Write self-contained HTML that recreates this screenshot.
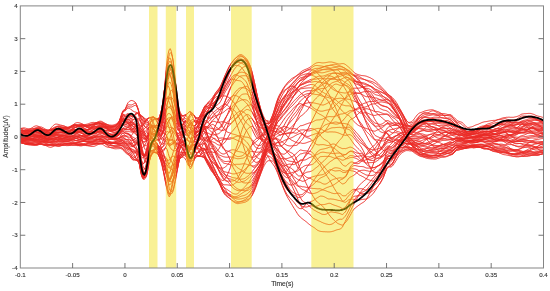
<!DOCTYPE html><html><head><meta charset="utf-8"><style>html,body{margin:0;padding:0;background:#fff;overflow:hidden;}svg{display:block}</style></head><body>
<svg width="550" height="291" viewBox="0 0 550 291">
<rect width="550" height="291" fill="#fff"/>
<defs><clipPath id="c"><rect x="20.3" y="5.9" width="523.2" height="262.1"/></clipPath></defs>
<g clip-path="url(#c)" fill="none">
<g stroke="#eb2b27" stroke-width="0.95">
<path d="M20.3 141.1l1-.1 1 .3 1 .3 1 .2 1 .3 1 .3 1 .2 1 .3 1 .1 1 0 1 0 1 0 1 .1 1 .1 1 .1 1 .1 1-.1 1-.5 1-.5 1-.6 1-.3 1 0 1 .3 1 .5 1 .6 1 .5 1 .4 1 .3 1 .2 1 .2 1 .2 1 .1 1 .1 1 .1 1-.1 1-.1 1-.2 1-.2 1-.3 1-.4 1-.3 1-.3 1-.2 1 0 1 .1 1 .2 1 .2 1 0 1-.1 1-.2 1-.1 1 0 1 0 1 .3 1 .3 1 .3 1 .3 1 .1 1-.2 1-.2 1-.2 1 0 1 .2 1 .2 1 .4 1 .3 1 .2 1 .1 1 0 1-.1 1-.2 1-.2 1-.3 1-.3 1-.5 1-.5 1-.6 1-.4 1-.3 1-.2 1 0 1 0 1 .3 1 .5 1 .8 1 .8 1 .8 1 .5 1 .3 1 .2 1 0 1 0 1 0 1 0 1 0 1-.1 1 0 1-.2 1-.4 1-.6 1-.6 1-.5 1-.1 1 .2 1 .4 1 .3 1 .3 1 .6 1 .7 1 .5 1 .5 1 .1 1-.7 1-1 1-.8 1-.4 1 .6 1 1.7 1 3.7 1 6 1 7 1 5.4 1 3.5 1 1.4 1-.5 1-2.3 1-4.4 1-5.8 1-6.1 1-5 1-3.6 1-2.5 1-1.6 1-.4 1 .5 1 1.1 1 1.6 1 2.9 1 3.5 1 4.5 1 5.1 1 5.3 1 5.6 1 5.4 1 5.1 1 5.2 1 4.6 1 3.9 1 1.7 1-2.2 1-4 1-4.3 1-4.9 1-4.9 1-4.9 1-4.4 1-4.2 1-3.4 1-2.9 1 .2 1 .3 1-.2 1-.1 1 .7 1 1.3 1 1.6 1 2.7 1 2.3 1 .3 1-2.3 1-4.1 1-4.3 1-4.6 1-3.8 1-2.1 1-.8 1 0 1 .8 1 1.1 1 1.2 1 .8 1 .5 1 .1 1 .1 1 .4 1 .4 1 .3 1-.2 1-.3 1-.3 1-.2 1 .2 1 .7 1 1.3 1 1.5 1 1.4 1 1.7 1 1.5 1 1.6 1 1.1 1 1.2 1 1.1 1 .9 1 .5 1 .2 1 .2 1 .2 1 .2 1 .3 1 .4 1 .2 1 .1 1-.1 1-.3 1-.3 1-.1 1 0 1 0 1 0 1-.1 1-.1 1-.2 1-.1 1 0 1 .1 1 .3 1 .4 1 .4 1 .4 1 .1 1 .2 1 .1 1 .2 1-.2 1-.5 1-.8 1-1.1 1-1.2 1-1 1-.9 1-.9 1-1.2 1-2.2 1-1.6 1-1.4 1-1.5 1-1.3 1-.3 1 .4 1 .4 1 .5 1 .8 1 1.3 1 1.6 1 1.8 1 1.5 1 1.6 1 1.7 1 1.8 1 1.7 1 1.5 1 1.7 1 1.8 1 1.7 1 1.6 1 1.5 1 1.4 1 1.3 1 1.4 1 1.3 1 1.4 1 1.4 1 1.5 1 1.5 1 1.6 1 1.9 1 2 1 2.1 1 1.9 1 1.9 1 1.8 1 1.6 1 .8 1 .6 1 .5 1 .7 1 .8 1 .9 1 1 1 .9 1 .8 1 1 1 .8 1 .6 1 .5 1 .6 1 .6 1 .5 1 .4 1 .5 1 .6 1 .4 1 .1 1 .1 1-.1 1-.3 1-.5 1-.6 1-.6 1-.4 1-.1 1 .1 1 .2 1 .2 1 .1 1 .2 1 .2 1 .2 1 .3 1 .3 1 .5 1 .4 1-.7 1-.9 1-1 1-1.7 1-2.2 1-2.5 1-2.6 1-2.5 1-2.3 1-2.2 1-1.8 1-1.6 1-1.6 1-1.6 1-1.5 1-1.3 1-1.2 1-1.1 1-1 1-1 1-.8 1-.8 1-.8 1-.9 1-1.5 1-1.6 1-1.8 1-2.1 1-2.4 1-2.7 1-2.9 1-3.1 1-3.3 1-3.6 1-3.4 1-3 1-2.7 1-2.2 1-2.2 1-2.1 1-2 1-2.3 1-2.3 1-2.1 1-1.6 1-.9 1-.5 1-.4 1-.3 1-.4 1-.4 1-.4 1-.3 1-.3 1-.4 1-.4 1-.2 1-.2 1 .1 1 .2 1 .3 1 .5 1 .5 1 .7 1 .8 1 .7 1 .2 1-.1 1-.1 1-.3 1-.5 1-.6 1-.5 1-.5 1-.5 1-.5 1-.3 1-.2 1-.3 1-.2 1-.1 1 .1 1 .3 1 .6 1 .7 1 .8 1 .7 1 .6 1 .4 1 .3 1 .4 1 .4 1 .5 1 .5 1 .5 1 .5 1 .3 1 .2 1 .1 1 .1 1 .1 1 .2 1 .3 1 .4 1 .3 1 .3 1 .1 1 .1 1 .1 1 .3 1 .3 1 .4 1 .3 1 .5 1 .6 1 .4 1 .2 1 0 1-.1 1-.3 1-.1 1 .1 1 .3 1 .3 1 .2 1-.1 1-.2 1-.2 1-.2 1-.3 1-.4 1-.5 1-.6 1-.6 1-.6 1-.8 1-.8 1-.8 1-.7 1-.5 1-.2 1-.1 1 .1 1 0 1 0 1-.1 1-.2 1-.3 1-.3 1-.4 1-.4 1-.3 1-.2 1-.2 1-.2 1-.1 1-.4 1-.6 1-.7 1-.8 1-.6 1-.5 1-.2 1 .1 1 .2 1 .2 1 .3 1 .1 1 0 1-.1 1-.1 1 0 1 .1 1 .2 1 .2 1 0 1-.1 1-.3 1-.2 1-.1 1 0 1 0 1 .1 1 .2 1 .3 1 .4 1 .4 1 .2 1 .1 1 0 1 0 1 .1 1 .2 1 .3 1 .4 1 .4 1 .5 1 .6 1 .7 1 .8 1 .6"/>
<path d="M20.3 130.4l1 .1 1 .1 1 0 1 0 1 0 1-.1 1 0 1 0 1 0 1 0 1-.1 1-.3 1-.4 1-.5 1-.4 1-.3 1-.1 1 .1 1 .4 1 .4 1 .6 1 .6 1 .6 1 .6 1 .5 1 .3 1 .2 1 0 1-.2 1-.2 1-.5 1-.5 1-.6 1-.7 1-.6 1-.4 1-.1 1 0 1 .2 1 .2 1 .2 1 .2 1 .4 1 .4 1 .5 1 .4 1 .2 1 .1 1-.2 1-.3 1-.4 1-.4 1-.4 1-.3 1-.2 1-.2 1-.2 1-.3 1-.1 1 0 1 .2 1 .4 1 .4 1 .5 1 .4 1 .4 1 .2 1 0 1-.1 1-.2 1-.4 1-.4 1-.4 1-.3 1-.3 1-.1 1-.1 1 .2 1 .1 1 .2 1 0 1-.1 1-.2 1-.3 1-.1 1 .1 1 .5 1 .6 1 .6 1 .4 1 .1 1-.2 1-.5 1-.7 1-.7 1-.9 1-1 1-1.1 1-1.2 1-2.2 1-2.3 1-2.1 1-.8 1 .6 1 .6 1-.3 1-.6 1-.3 1-.8 1-.6 1-.1 1-.5 1-.3 1 .4 1 .6 1 1.2 1 2.2 1 2.4 1 2.7 1 .9 1 .9 1-.1 1-.8 1-1.4 1-1.7 1-2.3 1-1.3 1-.4 1-.4 1-.3 1-.3 1-.2 1-.1 1 .5 1 1.3 1 2 1 1.8 1 1.2 1-.7 1-2.5 1-3.6 1-6.2 1-8.2 1-11.1 1-11.8 1-12.4 1-8.8 1-5.5 1-3.6 1-.7 1 2.6 1 4.8 1 5.9 1 10.2 1 10.5 1 9.8 1 9.2 1 9.3 1 5.3 1 3 1 1.7 1-.2 1-1.2 1-1.7 1-1.9 1-1.6 1-.6 1-1.1 1-.9 1-.3 1 .7 1 1 1 1.2 1 1.6 1 2 1 2.5 1 1.9 1 1.6 1 .3 1-1 1-2 1-2.3 1-2.9 1-3 1-2.2 1-1.3 1-.9 1-.6 1-.3 1 0 1 .1 1-.2 1-.3 1-.5 1-.7 1-.7 1-.6 1-.7 1-1 1-1.4 1-1.8 1-2.1 1-2.2 1-2.1 1-1.9 1-1.6 1-1.5 1-1.7 1-1.8 1-2 1-1.9 1-1.8 1-1.7 1-1.5 1-1.1 1-.8 1-.6 1-.5 1-.5 1-.3 1-.2 1 0 1 .3 1 .2 1 .3 1 .3 1 .8 1 1.4 1 1.8 1 2.1 1 2.7 1 3.1 1 3.6 1 3.5 1 3.7 1 3.8 1 3.6 1 3.1 1 2.9 1 2.9 1 2.8 1 2.5 1 2.5 1 2.4 1 1.9 1 1.1 1 .6 1 1.3 1 1.1 1 0 1-.4 1-.2 1 .2 1 .2 1 .2 1 .2 1 .4 1 .7 1 1 1 1.1 1 .6 1 .7 1 .5 1 .3 1 0 1-.2 1-.2 1-.2 1 0 1 0 1-.1 1-.3 1-.6 1-.9 1-1 1-1 1-1 1-.9 1-1 1-.8 1-.1 1-.2 1-.3 1-.4 1-.4 1-.4 1-.3 1-.4 1-.3 1-.2 1-.3 1-.4 1-.5 1-.6 1-.5 1-.4 1-.1 1-.1 1 0 1-.2 1-.2 1-.3 1-.5 1-.5 1-.5 1-.4 1-.4 1-.2 1-.1 1 0 1 .1 1 0 1 0 1-.2 1-.3 1-.3 1-.4 1-.5 1-.5 1-.3 1-.2 1 0 1-.3 1-.3 1-.3 1-.4 1-.6 1-.6 1-.6 1-.4 1 .1 1-.1 1-.1 1-.3 1-.3 1-.3 1-.3 1-.3 1-.3 1-.3 1-.3 1-.2 1-.3 1-.3 1-.2 1-.3 1-.5 1-.5 1-.5 1-.5 1-.4 1-.3 1-.1 1 .1 1-.2 1-.5 1-.6 1-.4 1-.2 1-.1 1-.1 1 .1 1 .2 1 .2 1 .2 1 .2 1 .3 1 .4 1 .3 1 .4 1 .7 1 1.2 1 1.4 1 1.6 1 1.6 1 1.6 1 1.6 1 1.6 1 1.7 1 2 1 2.3 1 2.6 1 2.8 1 2.9 1 2.7 1 2.4 1 2.2 1 1.9 1 1.4 1 1.4 1 1.4 1 1.4 1 1.4 1 1.2 1 1 1 .7 1 .4 1 .2 1 .1 1 0 1 .1 1 .1 1 0 1-.2 1-.4 1-.6 1-.8 1-.7 1-.7 1-.7 1-.6 1-.5 1-.5 1-.4 1-.5 1-.5 1-.7 1-.8 1-.8 1-.9 1-.8 1-.8 1-.8 1-.7 1-.7 1-.6 1-.7 1-.6 1-.7 1-.6 1-.3 1 0 1 0 1 0 1-.2 1-.1 1 .1 1 .1 1 .3 1 .3 1 .4 1 .3 1 .3 1 .4 1 .3 1 .3 1 .1 1-.1 1-.2 1-.1 1-.1 1 0 1 0 1-.1 1-.1 1-.2 1-.3 1-.4 1-.5 1-.5 1-.3 1-.2 1-.1 1 0 1 .1 1 .1 1 0 1 0 1-.1 1-.1 1-.3 1-.2 1-.2 1 0 1 .1 1 .1 1 .1 1 .1 1 .1 1 0 1 .1 1 .1 1 .2 1 .4 1 .5 1 .7 1 .7 1 .6 1 .6 1 .4 1 .4 1 .4 1 .4 1 .5 1 .5 1 .5 1 .3 1 .1 1 .1 1 .1 1 .1 1 .2 1 .2 1 .1 1 .2 1 .2 1 .3 1 .2 1 .1 1 .1 1 .2 1 .2 1 .3 1 .5 1 .4 1 .5 1 .5 1 .3 1 .3 1 .2 1 .2 1 .1 1 0"/>
<path d="M20.3 134.7l1 .2 1 .5 1 .4 1 .3 1 .4 1 .4 1 .4 1 .4 1 .3 1 .2 1 .1 1 0 1-.1 1-.1 1-.2 1-.2 1-.3 1-.2 1 0 1 .4 1 .6 1 .8 1 .8 1 .8 1 .7 1 .5 1 .4 1 .2 1 0 1-.2 1-.4 1-.5 1-.5 1-.5 1-.4 1-.4 1-.3 1-.3 1-.2 1-.2 1-.2 1-.1 1 0 1 0 1 0 1 .1 1 .1 1 .1 1 .1 1 .1 1 0 1-.2 1-.4 1-.5 1-.5 1-.4 1-.5 1-.3 1-.3 1-.2 1 .1 1 .3 1 .5 1 .5 1 .5 1 .4 1 .2 1 0 1-.2 1-.3 1-.4 1-.5 1-.7 1-.7 1-.8 1-.8 1-.8 1-.5 1-.3 1-.1 1 .3 1 .4 1 .6 1 .6 1 .7 1 .7 1 .4 1 .4 1 .4 1 .4 1 .2 1 .2 1 0 1 0 1-.2 1-.5 1-.6 1-.6 1-.7 1-1.2 1-1 1-.8 1 0 1 .8 1 .7 1 .2 1 .1 1 .5 1 .9 1 1.4 1 2.1 1 1.8 1 1.2 1 .9 1 .4 1 .1 1 .1 1 0 1 1 1 2.8 1 4 1 3.3 1 2.4 1 1.6 1 .7 1 0 1-1.4 1-2.2 1-2.3 1-1.4 1-.5 1-.2 1-.3 1-.3 1-.5 1-.9 1-1.1 1-.3 1-.1 1 .6 1 1.1 1 1.6 1 2.1 1 2.9 1 3.7 1 4.4 1 5.3 1 6.2 1 4.9 1 1.8 1 0 1-.9 1-2.3 1-3.1 1-4.1 1-4.6 1-5.2 1-5 1-5.5 1-2.9 1-1.6 1-1.3 1-.5 1 .5 1 1.4 1 2 1 3.2 1 2.7 1 2.3 1 .9 1-.7 1-1.4 1-2.3 1-2.5 1-2.2 1-2.5 1-2.7 1-2.7 1-2.8 1-2.8 1-2.1 1-1.3 1-.5 1 .4 1 2 1 2.9 1 3.5 1 3.4 1 3.2 1 2.9 1 2.4 1 2.1 1 2.2 1 2.2 1 2.5 1 2.9 1 3 1 2.7 1 2.5 1 1.9 1 1.8 1 1.8 1 1.6 1 1 1 .6 1 .4 1 .1 1 0 1 0 1-.1 1 0 1 0 1-.1 1-.3 1-.5 1-.7 1-1 1-1.5 1-1.8 1-2.1 1-2.3 1-2.3 1-2.3 1-2.4 1-2.3 1-2.4 1-2.4 1-2.4 1-2.6 1-2.7 1-2.7 1-2.4 1-1.7 1-1.6 1-1 1-.8 1-.7 1-.7 1-.6 1-.4 1-.2 1-.4 1-.6 1-.2 1-.3 1-.7 1-.7 1 .6 1 .9 1 .3 1 0 1 .1 1 .1 1 0 1-.2 1-.6 1-.6 1-.7 1-.7 1-.8 1-1.5 1-1.6 1-1.7 1-1.8 1-1.9 1-1.8 1-1.6 1-1.5 1-1.4 1-1.2 1-1.3 1-1.3 1-1.5 1-1.6 1-1.6 1-1.5 1-1.5 1-1.5 1-1.5 1-1.3 1-.8 1-.9 1-.9 1-.9 1-.8 1-.6 1-.6 1-.7 1-.7 1-.8 1-.8 1-.7 1-.8 1-.7 1-.8 1-.7 1-.6 1-.6 1-.6 1-.6 1-.6 1-.7 1-.8 1-.8 1-.9 1-.9 1-.8 1-.7 1-.5 1-.2 1-.1 1-.2 1-.2 1-.4 1-.5 1-.6 1-.4 1-.3 1-.3 1-.2 1-.4 1-.4 1-.5 1-.6 1-.5 1-.5 1-.3 1-.1 1 .2 1 .5 1 .6 1 .5 1 .2 1 .1 1 0 1 .2 1 .3 1 .4 1 .6 1 .6 1 .7 1 .6 1 .5 1 .4 1 .4 1 .3 1 .2 1 .3 1 .3 1 .2 1 .3 1 .3 1 .5 1 .5 1 .6 1 .7 1 .7 1 .9 1 1 1 1.1 1 1.1 1 1.2 1 1.3 1 1.2 1 1.2 1 1.2 1 1.2 1 1 1 .9 1 .9 1 1.1 1 1.4 1 1.5 1 1.6 1 1.6 1 1.6 1 1.6 1 1.6 1 1.7 1 1.6 1 1.9 1 1.9 1 2 1 2.2 1 2.1 1 1.8 1 1.5 1 1.1 1 .6 1 .5 1 .7 1 .7 1 .6 1 .4 1 .4 1 .2 1 .2 1 .2 1 .3 1 .5 1 .6 1 .7 1 .8 1 .8 1 .9 1 1.1 1 1.1 1 1.1 1 1.1 1 1.1 1 .9 1 .9 1 .9 1 .9 1 1 1 1 1 .8 1 .7 1 .5 1 .4 1 .3 1 .2 1 .2 1 .3 1 .2 1 .3 1 .4 1 .5 1 .4 1 .2 1 .1 1-.2 1-.5 1-1.1 1-1.3 1-.7 1-.2 1-.2 1-.3 1-.3 1-.3 1-.3 1-.3 1-.2 1-.1 1-.1 1-.1 1-.1 1-.2 1-.1 1-.1 1 0 1 .1 1-.1 1-.2 1-.2 1-.2 1-.2 1 .1 1 .2 1 .5 1 .5 1 .5 1 .2 1 .1 1-.1 1 0 1 .1 1 .3 1 .5 1 .5 1 .4 1 .3 1 .2 1 .2 1 .2 1 .1 1 .2 1 .2 1 .2 1 .2 1 .2 1 .2 1 .2 1 .1 1 .2 1 .3 1 .4 1 .5 1 .5 1 .5 1 .4 1 .3 1 .2 1 .2 1 .2 1 0 1 0 1-.2 1-.1 1-.2 1 0 1 .1 1-.1 1-.1 1-.2 1-.2 1-.3 1-.2 1-.2 1-.1 1-.1 1 0 1 0 1 0 1 0 1-.1 1-.1 1-.1 1-.2 1-.2 1-.2 1-.1"/>
<path d="M20.3 128.4l1-.1 1-.2 1-.2 1 0 1 .2 1 .3 1 .2 1 .3 1 .2 1 .1 1 0 1-.2 1-.3 1-.4 1-.4 1-.4 1-.3 1-.2 1-.1 1 0 1 .1 1 .4 1 .5 1 .6 1 .6 1 .5 1 .4 1 .3 1 .1 1 0 1-.2 1-.5 1-.5 1-.7 1-.8 1-.7 1-.5 1-.3 1-.2 1 0 1-.1 1 .1 1 .1 1 .2 1 .3 1 .4 1 .4 1 .2 1 0 1-.1 1-.3 1-.3 1-.3 1-.3 1-.2 1-.3 1-.3 1-.4 1-.4 1-.4 1-.2 1 .1 1 .4 1 .7 1 .8 1 .8 1 .5 1 .3 1 0 1-.2 1-.2 1-.2 1-.1 1 .1 1 .1 1 .2 1 .2 1 .2 1 0 1 0 1-.1 1-.1 1-.1 1 0 1 0 1 .3 1 .4 1 .7 1 .8 1 .7 1 .4 1 .2 1-.1 1-.3 1-.4 1-.6 1-.7 1-.9 1-1 1-2 1-1.9 1-1.5 1-.3 1 .9 1 .8 1-.2 1-.5 1-.2 1-.1 1 .6 1 1.4 1 1.1 1 1.2 1 1.2 1 .9 1 .6 1 .7 1 .2 1 .6 1 .2 1 .9 1 .4 1 0 1-.3 1-.5 1-.8 1-1.3 1-1.3 1-.8 1-.1 1 .6 1 1 1 .9 1 1.1 1 .6 1-.2 1-.9 1-1.6 1-3.2 1-4.3 1-4.9 1-6.7 1-8 1-10 1-10 1-10.2 1-6.6 1-4 1-2.5 1 .2 1 2.8 1 4.8 1 6 1 9 1 8.8 1 7.6 1 6.8 1 6.8 1 3.1 1 1.2 1 .5 1 .4 1-.3 1-.4 1-.4 1-.5 1-.6 1-1.1 1-.9 1 .2 1 2 1 2.3 1 2.1 1 2.3 1 1.8 1 .5 1-.3 1-.8 1-2 1-2.8 1-2.9 1-2.4 1-2.3 1-2 1-.8 1 0 1 .4 1 .4 1 .2 1 .1 1-.2 1-.7 1-1.1 1-1.3 1-1.3 1-1.2 1-1.1 1-1.3 1-1.5 1-1.9 1-2.3 1-2.5 1-2.8 1-2.8 1-2.6 1-2.5 1-2.4 1-2.5 1-2.5 1-2.4 1-2.2 1-2 1-1.9 1-1.8 1-1.6 1-1.3 1-1.1 1-1 1-.8 1-.5 1-.1 1 .2 1 .5 1 .7 1 .7 1 .8 1 1.2 1 1.6 1 2 1 2.1 1 3 1 3.6 1 4.3 1 4.3 1 4.7 1 4.9 1 4.7 1 4.1 1 3.9 1 3.6 1 3.1 1 2.7 1 2.5 1 2.2 1 1.8 1 .8 1 .6 1 1.2 1 .9 1-.4 1-1.4 1-1.2 1-1.4 1-1.6 1-1.8 1-1.8 1-1.5 1-1.2 1-1 1-.9 1-1.2 1-1.3 1-1.4 1-1.4 1-1.4 1-1.3 1-1.2 1-1 1-1 1-1 1-1.1 1-1.3 1-1.4 1-1.4 1-1.3 1-1.3 1-1.1 1-1.1 1-.9 1-.8 1-.3 1-.4 1-.5 1-.6 1-.5 1-.6 1-.3 1-.1 1 0 1 .2 1 0 1-.1 1-.2 1-.2 1-.1 1 0 1 .3 1 .2 1 .2 1 .2 1 .1 1 .2 1 .2 1 .2 1 .3 1 .2 1 .2 1 .2 1 .4 1 .5 1 .8 1 .9 1 1 1 1 1 .9 1 .9 1 .9 1 .8 1 .8 1 .9 1 1.1 1 1.2 1 1.2 1 1.2 1 1.3 1 1.1 1 .9 1 .9 1 .9 1 1.2 1 1.7 1 1.8 1 1.9 1 2 1 2 1 2.1 1 1.8 1 1.6 1 1.4 1 1.2 1 1.3 1 1.5 1 1.6 1 1.7 1 1.6 1 1.4 1 1 1 .9 1 1 1 1.1 1 1.2 1 1.1 1 1.1 1 .8 1 .4 1-.1 1 0 1 .2 1 .3 1 .4 1 .1 1 0 1 0 1-.4 1-.6 1-.4 1-.1 1 .4 1 .6 1 .8 1 .4 1 .1 1-.2 1-.6 1-.6 1-.9 1-1 1-1 1-.9 1-.8 1-.6 1-.5 1-.2 1 0 1 .1 1 .1 1 .1 1-.1 1-.6 1-.6 1-.6 1-.5 1-.7 1-.8 1-.8 1-.9 1-1 1-1 1-.8 1-.6 1-.5 1-.5 1-.4 1-.3 1-.2 1-.1 1-.1 1 .1 1 0 1 .2 1 .1 1 .1 1 .2 1 .3 1 .4 1 .3 1 .2 1 .1 1-.1 1-.1 1-.1 1 0 1-.1 1 .1 1 .2 1 .2 1 .5 1 .5 1 .5 1 .6 1 .7 1 .7 1 .6 1 .3 1 .3 1 .3 1 .4 1 .5 1 .5 1 .5 1 .4 1 .3 1 .5 1 .5 1 .5 1 .4 1 .3 1 .1 1 .1 1 .2 1 .3 1 .3 1 .4 1 .2 1 .1 1 .1 1-.1 1-.2 1-.3 1-.2 1-.1 1 0 1 0 1 .2 1 .1 1 .2 1 .1 1 .2 1 .2 1 .4 1 .4 1 .4 1 .5 1 .3 1 .3 1 0 1 0 1 0 1 0 1 .1 1 .1 1 .1 1 .2 1 .1 1 .1 1 .1 1 .1 1 .1 1 .2 1 .1 1 .1 1 0 1 .1 1 .1 1 .1 1 .1 1 .1 1 0 1-.1 1-.2 1-.2 1-.2 1-.1 1-.2 1-.1 1 0 1 .1 1 .1 1 .1 1 0 1 .1 1 .1 1 .1 1 .1 1 0 1 0 1 .1 1 0 1 .1 1 0 1 .1 1 .1 1 .1"/>
<path d="M20.3 136.7l1-.1 1 0 1 0 1 0 1 0 1-.1 1-.2 1-.1 1-.1 1-.1 1 .1 1 .1 1 .1 1 .1 1-.1 1-.1 1-.2 1-.2 1-.2 1-.1 1 .1 1 .3 1 .5 1 .6 1 .8 1 .7 1 .5 1 .4 1 .2 1 0 1-.2 1-.2 1-.1 1 .1 1 .2 1 .4 1 .3 1 .4 1 .1 1 .1 1 0 1 0 1 0 1 .1 1 .1 1 0 1 0 1 0 1 0 1 0 1 .2 1 .3 1 .3 1 .3 1 .3 1 .2 1 .1 1-.2 1-.4 1-.3 1-.3 1-.2 1 .1 1 .1 1 .1 1 .1 1 0 1 0 1-.1 1-.1 1-.1 1-.1 1-.3 1-.3 1-.3 1-.3 1-.3 1-.2 1-.1 1-.1 1 .1 1 .1 1 .2 1 .1 1 .1 1 0 1-.2 1-.1 1-.2 1-.2 1-.1 1 0 1 0 1 0 1-.2 1-.2 1-.3 1-.2 1-.2 1-.6 1-.6 1-.6 1-.2 1 .3 1 .4 1-.1 1 0 1 .3 1 .2 1 .3 1 .9 1 .6 1 .4 1 .6 1 .8 1 1.2 1 1.7 1 1.7 1 2.1 1 2.9 1 3.3 1 1.9 1 .4 1-.6 1-1.5 1-2.3 1-3.2 1-3.7 1-3.3 1-2.1 1-.8 1 0 1 .6 1 1.2 1 1.5 1 1.2 1 1.1 1 1.4 1 .9 1 .7 1 .4 1-.2 1-.7 1-1.1 1-1.2 1-1.1 1-.1 1 1 1 .6 1-.8 1-.8 1-.2 1-.1 1 .9 1 .8 1 .4 1 0 1 .3 1-1.3 1-.6 1-.3 1-1.1 1-1.3 1-1 1-.5 1-.1 1 .7 1 .7 1 .7 1 .5 1 .2 1 .4 1 .1 1 .4 1 1 1 .8 1 .6 1 .6 1 .1 1-.4 1-.7 1-.5 1-.4 1 .1 1 1.2 1 1.9 1 2.3 1 2.2 1 2.1 1 2.1 1 1.7 1 1.5 1 1.6 1 1.5 1 1.6 1 1.9 1 2 1 1.7 1 1.6 1 1.2 1 1.2 1 1.3 1 1.2 1 .9 1 .7 1 .5 1 .5 1 .3 1 .3 1 .2 1 .3 1 .3 1 .4 1 .4 1 .6 1 .7 1 .5 1 .2 1-.1 1-.2 1-.3 1-.3 1-.2 1-.2 1-.5 1-.8 1-.8 1-.8 1-.8 1-1 1-.9 1-1 1-1.1 1-1.2 1-1.2 1-1.2 1-1.5 1-1.3 1-1.4 1-1.6 1-1.8 1-2.5 1-3.1 1-2.5 1-1.8 1-1.7 1-1.4 1-.3 1 .5 1 .3 1 .4 1 .5 1 .9 1 1.1 1 1.3 1 1.2 1 1.4 1 1.8 1 2 1 2 1 1.7 1 1.7 1 1.7 1 1.7 1 1.8 1 2.1 1 2.2 1 2.4 1 2.4 1 2.4 1 2.2 1 2.1 1 2.1 1 2.1 1 2.2 1 2.4 1 2.4 1 2.4 1 2.1 1 2.1 1 1.9 1 1.8 1 1 1 .7 1 .7 1 .6 1 .8 1 .9 1 1 1 1.2 1 1.2 1 1.1 1 .9 1 .5 1 .5 1 .4 1 .5 1 .5 1 .4 1 .4 1 .6 1 .4 1 .5 1 .3 1 .4 1 .3 1 .2 1 .3 1 .1 1-.1 1-.2 1-.4 1-.6 1-.7 1-.8 1-.8 1-.7 1-.5 1-.4 1-.2 1 .1 1 0 1-1 1-1.1 1-1 1-1.5 1-1.8 1-1.9 1-2.1 1-1.9 1-2.1 1-2 1-1.6 1-1.5 1-1.3 1-1.3 1-1.1 1-1 1-.9 1-.8 1-.7 1-.5 1-.5 1-.5 1-.4 1-.7 1-1.2 1-1.2 1-1.2 1-1.3 1-1.4 1-1.3 1-1.4 1-1.3 1-1.3 1-1.3 1-1.1 1-.9 1-.8 1-1.1 1-1.5 1-1.7 1-2 1-2.5 1-2.8 1-2.7 1-2.2 1-1.2 1-.8 1-.6 1-.8 1-1.1 1-1.3 1-1.4 1-1.2 1-1.3 1-1.1 1-1 1-.8 1-.6 1-.6 1-.5 1-.5 1-.5 1-.6 1-.4 1-.2 1-.2 1-.3 1-.3 1-.3 1-.1 1-.1 1 0 1 .1 1 .2 1 .2 1 .3 1 .3 1 .5 1 .5 1 .5 1 .4 1 .3 1 .1 1-.1 1-.1 1 0 1 .2 1 .3 1 .4 1 .4 1 .3 1 .3 1 .2 1 .2 1 .1 1 0 1-.1 1-.3 1-.4 1-.3 1-.2 1 0 1 0 1-.1 1-.1 1-.3 1-.3 1-.4 1-.3 1-.2 1-.5 1-.7 1-.7 1-.3 1 .1 1 .3 1 .4 1 .4 1 .3 1 .4 1 .3 1 .2 1 .2 1 0 1-.2 1-.4 1-.5 1-.6 1-.5 1-.5 1-.5 1-.4 1-.3 1-.3 1-.2 1-.3 1-.3 1-.3 1-.2 1-.1 1 .1 1 0 1 .2 1 0 1 .1 1-.1 1-.1 1-.2 1-.1 1 0 1 .2 1 .2 1 .3 1 .3 1 .2 1 .2 1 .2 1 .1 1 .2 1 .2 1 .2 1 .1 1 .1 1 .2 1 .3 1 .4 1 .3 1 .4 1 .4 1 .4 1 .5 1 .5 1 .3 1 .1 1 0 1-.1 1-.1 1 .1 1 .3 1 .5 1 .5 1 .3 1 0 1 0 1-.2 1 0 1 0 1 .2 1 .3 1 .4 1 .3 1 .2 1 .4 1 .3 1 .4 1 .3 1 .1 1 0 1-.1 1-.3 1-.2"/>
<path d="M20.3 140.5l1 0 1 .2 1 .1 1 .1 1 0 1 .1 1 .3 1 .3 1 .2 1 0 1-.1 1-.1 1-.2 1-.1 1 0 1-.1 1-.1 1-.3 1-.4 1-.5 1-.5 1-.5 1-.4 1-.2 1-.1 1 0 1-.2 1-.2 1-.4 1-.5 1-.4 1-.4 1-.2 1-.3 1-.3 1-.5 1-.5 1-.6 1-.6 1-.4 1-.1 1 .2 1 .3 1 .4 1 .4 1 .3 1 .1 1-.2 1-.3 1-.4 1-.5 1-.6 1-.5 1-.4 1-.2 1-.1 1 .1 1 .1 1 .2 1 0 1 0 1 0 1 0 1 0 1 .1 1 .2 1 .2 1 .1 1-.1 1-.2 1-.3 1-.2 1-.1 1 0 1 .1 1 .1 1 .1 1 .1 1 .1 1 .2 1 .2 1 .2 1 .4 1 .5 1 .6 1 .8 1 .8 1 .7 1 .8 1 .7 1 .7 1 .6 1 .5 1 .4 1 .2 1 0 1-.1 1-.2 1 0 1-.2 1 .1 1 .3 1 .9 1 1.1 1 1.1 1 .7 1 .8 1 1.1 1 1.5 1 1.7 1 2 1 1.7 1 .7 1 0 1-.4 1-.4 1-.4 1 0 1 1.6 1 4.6 1 5.8 1 4.6 1 3 1 1.4 1 .1 1-1.2 1-3 1-4.4 1-4.7 1-3.7 1-2.6 1-2 1-1.8 1-1.3 1-.9 1-.8 1-.5 1 .7 1 1.2 1 2.1 1 2.6 1 2.8 1 3 1 3.3 1 3.3 1 3.4 1 3.6 1 4.2 1 2.8 1 0 1-1.4 1-1.9 1-2.9 1-3.3 1-4 1-4.3 1-4.6 1-4.1 1-4.1 1-1.5 1 0 1 .4 1 1 1 1.8 1 2.6 1 2.9 1 4 1 3.4 1 2.7 1 1.1 1-1 1-1.9 1-2.9 1-3.2 1-2.3 1-1.8 1-1.4 1-.8 1-.3 1 .1 1 .6 1 1 1 1.2 1 2 1 2.6 1 2.9 1 2 1 1.7 1 1.4 1 1.5 1 1.5 1 1.4 1 1.2 1 1.5 1 1.6 1 1.6 1 1.7 1 1.6 1 1.8 1 1.7 1 2 1 2 1 1.8 1 1.2 1 .8 1 .8 1 .6 1 .7 1 .9 1 .8 1 .8 1 .5 1 .2 1-.1 1-.3 1-.2 1-.3 1-.5 1-.6 1-.7 1-.7 1-.7 1-.6 1-.6 1-.7 1-.8 1-.8 1-1 1-1.1 1-1.3 1-1.5 1-1.6 1-1.7 1-1.9 1-1.9 1-2.1 1-2.3 1-2.3 1-2.3 1-2.5 1-2.8 1-3.5 1-4.4 1-3.6 1-3.1 1-2.9 1-2.6 1-1.1 1-.5 1-1.1 1-1.5 1-1.6 1-1.7 1-1.6 1-1.5 1-1.5 1-1 1-.7 1-.5 1-.4 1-.8 1-.6 1-.4 1-.1 1 .2 1 .3 1 .5 1 .4 1 .4 1 .4 1 .1 1 0 1-.1 1-.1 1 .1 1 .4 1 .6 1 .6 1 .6 1 .7 1 1.3 1 1.2 1 1 1 .9 1 .7 1 .6 1 .4 1 .3 1 .3 1 .5 1 .7 1 1 1 1.1 1 1 1 1 1 .7 1 .4 1 .2 1 0 1-.2 1 0 1-.1 1 0 1 .2 1 .2 1 .3 1 .2 1 0 1-.2 1-.5 1-.3 1-.4 1-.1 1 .1 1 .4 1 .7 1 .8 1 .7 1 .6 1 .4 1 .5 1 .4 1 0 1-.1 1 .2 1-.3 1-.3 1-.4 1-.4 1-.2 1 .3 1 .3 1 .6 1 .7 1 .8 1 .9 1 .9 1 1.1 1 1.1 1 1.1 1 1.4 1 1.4 1 1.6 1 1.7 1 1.7 1 1.5 1 .9 1 .7 1 .6 1 .5 1 .3 1 .3 1 .1 1 0 1-.3 1-.5 1-.5 1-.5 1-.6 1-.7 1-1 1-1.2 1-1.1 1-1.6 1-1.8 1-1.8 1-1.3 1-.7 1-.3 1-.2 1-.5 1-.8 1-1 1-1.1 1-.8 1-.8 1-.7 1-.7 1-.6 1-.5 1-.6 1-.4 1-.4 1-.4 1-.4 1-.3 1 0 1 .1 1 .2 1 .3 1 .3 1 .3 1 .1 1-.1 1-.2 1-.3 1-.4 1-.2 1-.1 1 0 1 .2 1 .2 1 0 1-.2 1-.3 1-.4 1-.3 1-.4 1-.4 1-.4 1-.3 1-.3 1-.1 1 .2 1 .3 1 .3 1 .2 1 0 1-.3 1-.4 1-.3 1-.3 1-.1 1 0 1 0 1-.1 1-.2 1-.3 1-.2 1-.1 1 .1 1 .2 1 0 1-.3 1-.5 1-.3 1 .1 1 .1 1 .3 1 .4 1 .4 1 .4 1 .4 1 .4 1 .4 1 .2 1 0 1-.2 1-.3 1-.2 1-.1 1-.1 1 0 1-.2 1-.2 1-.2 1-.2 1-.2 1-.2 1-.2 1 0 1-.1 1-.2 1-.3 1-.4 1-.4 1-.5 1-.4 1-.4 1-.2 1-.1 1 0 1 .2 1 .2 1 0 1-.2 1-.5 1-.8 1-.9 1-.8 1-.8 1-.6 1-.6 1-.5 1-.6 1-.5 1-.5 1-.5 1-.3 1-.3 1 0 1 .1 1 .1 1 0 1-.2 1-.4 1-.5 1-.7 1-.9 1-.8 1-.9 1-.7 1-.7 1-.7 1-.7 1-.6 1-.3 1 0 1 .2 1 .4 1 .3 1 .4 1 .4 1 .4 1 .2 1 .1 1-.1 1-.2 1-.2 1 0 1 .3 1 .5 1 .5"/>
<path d="M20.3 137.8l1 .4 1 .3 1 .1 1 .1 1 .1 1 .1 1 .2 1 .2 1 0 1-.1 1-.2 1-.3 1-.4 1-.3 1-.1 1-.1 1-.2 1-.2 1-.3 1-.3 1-.1 1 .1 1 .3 1 .6 1 .5 1 .3 1-.1 1-.5 1-.8 1-.9 1-.9 1-.8 1-.6 1-.6 1-.5 1-.4 1-.2 1-.1 1 0 1 0 1 0 1 0 1 0 1 .1 1 .1 1 .2 1 .1 1-.1 1-.5 1-1 1-1.2 1-1.4 1-1.4 1-1 1-.6 1-.3 1 .1 1 .3 1 .5 1 .5 1 .5 1 .6 1 .6 1 .5 1 .4 1 .2 1 .1 1-.3 1-.5 1-.7 1-.9 1-.9 1-1 1-1 1-.8 1-.4 1-.2 1 .1 1 .3 1 .5 1 .6 1 .8 1 .7 1 .7 1 .7 1 .6 1 .7 1 .7 1 .6 1 .4 1 .3 1 0 1-.2 1-.3 1-.3 1-.7 1-.8 1-1 1-1.3 1-2.4 1-2.3 1-2.2 1-.7 1 .7 1 .9 1-.1 1-.2 1 .3 1 .5 1 .8 1 1.5 1 .9 1 .8 1 .8 1 .6 1 .5 1 .9 1 .9 1 1.7 1 1.5 1 2.4 1 1.8 1 1.5 1 1.1 1 .9 1 .2 1-.6 1-1.2 1-1.4 1-1 1-.5 1-.2 1-.3 1 0 1-.1 1-.6 1-.8 1-.5 1-1.1 1-1.3 1-1.3 1-2.1 1-2.9 1-4 1-4.1 1-4.3 1-2.2 1-.8 1-.8 1-.8 1-.1 1 .8 1 1.3 1 3.3 1 3.4 1 3 1 2.7 1 3 1 .7 1 .3 1 .4 1-.2 1-.2 1 .2 1 .7 1 1.1 1 1.6 1 1.4 1 1.6 1 1.6 1 1.6 1 1.2 1 .6 1 .2 1 .2 1-.5 1-.8 1-.8 1-1.2 1-1.6 1-1.7 1-1.7 1-1.9 1-1.8 1-1.1 1-.5 1-.4 1-.7 1-.9 1-1.1 1-1.3 1-1.6 1-1.5 1-1.3 1-1 1-.8 1-.6 1-.8 1-.8 1-1 1-1 1-1 1-1 1-1.1 1-1.2 1-1.1 1-1.4 1-1.3 1-1.4 1-1.1 1-.9 1-.6 1-.4 1-.2 1-.1 1 .3 1 .5 1 .6 1 .7 1 .7 1 .7 1 .7 1 .7 1 .8 1 .9 1 .9 1 1.2 1 1.5 1 1.5 1 1.6 1 1.8 1 2.1 1 2.3 1 2.1 1 1.9 1 1.6 1 1.3 1 .8 1 .7 1 .6 1 .6 1 .2 1 .1 1 .1 1-.1 1-.8 1-.9 1-.2 1-.3 1-1.7 1-2.5 1-2.6 1-2.8 1-3.2 1-3.5 1-3.4 1-2.9 1-2.6 1-2.2 1-1.8 1-1.6 1-1.7 1-1.7 1-1.5 1-1.4 1-1.3 1-1.2 1-1.1 1-1.1 1-.9 1-.9 1-.7 1-.7 1-.5 1-.6 1-.6 1-.8 1-.8 1-.9 1-.9 1-.9 1-.7 1-.5 1-.5 1-.4 1-.4 1-.4 1-.5 1-.6 1-.6 1-.7 1-.7 1-.8 1-.7 1-.6 1-.5 1-.3 1-.2 1 0 1 .1 1 .2 1 .1 1 0 1-.1 1-.1 1-.2 1-.2 1-.2 1-.1 1 0 1 0 1 .2 1 .2 1 .3 1 .3 1 .3 1 .3 1 .3 1 .1 1-.1 1-.2 1-.1 1 0 1 .3 1 .5 1 .8 1 .8 1 .8 1 .9 1 .9 1 1 1 1.1 1 1 1 .9 1 .7 1 .6 1 .4 1 .4 1 .3 1 .2 1 .3 1 .1 1 .1 1 .1 1 .2 1 .2 1 .4 1 .4 1 .4 1 .4 1 .6 1 .6 1 .6 1 .7 1 .8 1 .8 1 .9 1 .9 1 1.1 1 1 1 1.1 1 1 1 1.1 1 1 1 1 1 1.2 1 1.3 1 1.2 1 1.2 1 1.2 1 1.2 1 1.5 1 1.5 1 1.3 1 1.3 1 1.4 1 1.4 1 1.5 1 1.6 1 1.7 1 1.9 1 1.9 1 1.9 1 2 1 2 1 1.8 1 1.6 1 1.1 1 .5 1 .2 1 .3 1 .1 1-.2 1-.6 1-.8 1-1.2 1-1.3 1-1.2 1-1 1-.8 1-.6 1-.6 1-.6 1-.4 1-.1 1 .2 1 .3 1 .3 1 .1 1 0 1-.3 1-.4 1-.3 1-.1 1 0 1 0 1 .1 1 .2 1 .1 1 .1 1 .1 1 0 1 .1 1 .2 1 .1 1 0 1-.1 1-.1 1 0 1 .1 1 .6 1 .8 1 .9 1 .9 1 .8 1 .8 1 .9 1 .9 1 .9 1 1 1 .8 1 .8 1 .9 1 .8 1 .8 1 .6 1 .5 1 0 1-.1 1 0 1-.1 1-.1 1-.4 1-.5 1-.5 1-.4 1-.3 1-.2 1-.2 1-.2 1-.2 1-.3 1-.3 1-.3 1-.2 1-.2 1-.2 1-.1 1-.1 1 0 1 0 1 0 1-.1 1-.2 1-.2 1-.4 1-.4 1-.4 1-.3 1-.4 1-.5 1-.4 1-.4 1-.2 1 0 1 0 1 .2 1 .2 1 .2 1 .3 1 .3 1 .3 1 .3 1 .2 1 0 1-.1 1-.2 1-.4 1-.5 1-.3 1-.1 1 .3 1 .6 1 .8 1 .7 1 .8 1 .7 1 .8 1 1 1 1.1 1 1.2 1 1.1 1 .9 1 .7 1 .4 1 .3 1 .2 1 .2 1 .2 1 .3 1 .2 1-.1 1 .1"/>
<path d="M20.3 141.9l1 0 1 .4 1 .5 1 .4 1 .2 1 .1 1 0 1-.1 1 0 1 .1 1 .3 1 .4 1 .3 1 .2 1-.1 1-.2 1-.3 1-.3 1-.3 1-.1 1 0 1 .3 1 .5 1 .5 1 .6 1 .5 1 .5 1 .5 1 .3 1 .2 1-.1 1-.3 1-.5 1-.6 1-.5 1-.4 1-.2 1-.2 1-.1 1-.1 1-.2 1 0 1 0 1 0 1 .1 1 0 1 0 1 0 1 .2 1 .2 1 .2 1 .2 1 .1 1 0 1-.1 1 0 1 .1 1 0 1 0 1 0 1 0 1 0 1 0 1 .1 1 .1 1 .2 1 .1 1 .3 1 .2 1 .2 1 .2 1 0 1 0 1-.2 1-.4 1-.5 1-.5 1-.5 1-.4 1-.4 1-.3 1-.2 1-.1 1 .3 1 .5 1 .9 1 .9 1 .8 1 .6 1 .5 1 .4 1 .3 1 .3 1 .2 1 .1 1 0 1-.1 1 0 1-.1 1-.1 1 .3 1 .6 1 1 1 1.1 1 1.1 1 .9 1 .7 1 .5 1 .6 1 1 1 1.4 1 1.3 1 .6 1 .1 1 .2 1 .5 1 .7 1 1 1 2.3 1 5.3 1 4.5 1 2.5 1 1.1 1-1.7 1-2.3 1-2.8 1-3.9 1-4.5 1-4 1-2.4 1-1.1 1-1.4 1-1 1-.2 1 .1 1 .2 1 .4 1 1.4 1 1.6 1 .7 1 .9 1 1.2 1 1.9 1 2.8 1 3.6 1 4.6 1 5.2 1 6.4 1 5.2 1 2.2 1 .6 1 0 1-2.4 1-4.5 1-5 1-5.1 1-5.2 1-4.7 1-4.9 1-1.9 1-2 1-1.9 1-1.5 1-.2 1 .8 1 1.9 1 3.6 1 3.9 1 3.9 1 2.6 1-1.2 1-2.2 1-3 1-3.1 1-1.7 1-.9 1-.7 1-.1 1 .1 1-.7 1-1.4 1-.8 1-.3 1 .8 1 1.9 1 2.7 1 3 1 3 1 2.7 1 2.3 1 1.6 1 1.3 1 1.2 1 1.6 1 1.2 1 1.6 1 1.9 1 2 1 2.1 1 2 1 2.2 1 2.1 1 1.9 1 1.4 1 1.1 1 1 1 .9 1 .8 1 .9 1 .8 1 .8 1 .8 1 .6 1 .5 1 .4 1 .3 1 .2 1-.1 1-.3 1-.3 1-.2 1-.2 1-.2 1-.3 1-.4 1-.4 1-.4 1-.4 1-.7 1-1 1-1.4 1-1.7 1-2 1-2.4 1-2.4 1-2.7 1-2.7 1-2.7 1-2.4 1-2.6 1-2.9 1-3.3 1-4.4 1-4.6 1-3.6 1-3.4 1-3 1-1.9 1-1.2 1-1.7 1-2 1-2.1 1-2.2 1-2.2 1-2.4 1-2.5 1-2.1 1-1.7 1-1.3 1-1.2 1-1.5 1-1.5 1-1.5 1-1.4 1-1.4 1-1.2 1-1.2 1-1.1 1-1 1-1.1 1-1.2 1-1.2 1-1.2 1-1.1 1-1 1-.8 1-.7 1-.5 1-.5 1-.2 1 .3 1 .4 1 .4 1 .5 1 .5 1 .5 1 .4 1 .4 1 .4 1 .5 1 .5 1 .7 1 .7 1 .6 1 .7 1 .8 1 .8 1 .7 1 .6 1 .5 1 .5 1 .6 1 .6 1 .7 1 .9 1 1.1 1 1.1 1 1 1 .8 1 .6 1 .5 1 .4 1 .3 1 .2 1 .2 1 .1 1-.1 1-.2 1-.5 1-.6 1-.7 1-.8 1-1.2 1-1.2 1-1.1 1-1.3 1-1.2 1-1.2 1-1 1-.8 1-.4 1-.4 1-.6 1-.6 1-.7 1-.6 1-.6 1-.7 1-.8 1-1 1-.9 1-.7 1-.5 1-.4 1-.3 1-.4 1-.4 1-.4 1-.2 1-.1 1 0 1 0 1-.1 1-.1 1-.2 1-.6 1-.4 1-.3 1 0 1 .1 1 .1 1 .1 1 0 1-.2 1-.2 1-.1 1 .1 1 .3 1 .3 1 .4 1 .5 1 .7 1 .7 1 .8 1 .9 1 1.2 1 1.2 1 1.4 1 1.4 1 1.4 1 1.5 1 1.5 1 1.5 1 1.7 1 1.7 1 1.5 1 1.2 1 .8 1 .1 1-.2 1-.4 1-.6 1-1 1-1.4 1-1.4 1-1.3 1-1.3 1-1 1-.7 1-.4 1-.3 1-.4 1-.4 1-.4 1-.3 1-.3 1-.2 1-.2 1-.2 1-.1 1-.1 1 0 1 .2 1 .4 1 .3 1 .4 1 .4 1 .3 1 .5 1 .5 1 .7 1 .8 1 .9 1 .9 1 .9 1 .8 1 .6 1 .6 1 .5 1 .5 1 .7 1 .8 1 .9 1 1 1 .8 1 .8 1 .8 1 .7 1 .7 1 .6 1 .7 1 .6 1 .8 1 .9 1 .8 1 .8 1 .6 1 .3 1 .1 1 .1 1 .1 1 .1 1 .1 1 0 1 0 1-.2 1-.2 1-.5 1-.6 1-.7 1-.6 1-.4 1-.3 1-.2 1-.1 1 0 1 0 1-.1 1 0 1 0 1 0 1 0 1-.1 1-.3 1-.2 1-.3 1-.3 1-.1 1-.2 1-.2 1-.3 1-.4 1-.3 1-.3 1-.2 1-.1 1-.2 1-.3 1-.3 1-.2 1-.2 1-.1 1 0 1-.1 1-.1 1-.3 1-.4 1-.6 1-.6 1-.7 1-.5 1-.4 1-.2 1-.2 1-.1 1-.1 1-.2 1-.1 1-.3 1-.2 1-.2 1-.2 1-.1 1 .1 1 .1 1 .2 1 .2 1 .2 1 .2 1 .2 1 .4 1 .4 1 .7"/>
<path d="M20.3 132.5l1 .2 1 .2 1 .2 1 0 1 0 1-.2 1-.3 1-.5 1-.5 1-.4 1-.4 1-.1 1 0 1 .2 1 .3 1 .5 1 .4 1 .3 1 .3 1 .1 1 .1 1 .1 1 .3 1 .2 1 .3 1 .2 1 0 1-.1 1-.2 1-.2 1-.3 1-.2 1 .1 1 .2 1 .3 1 .4 1 .3 1 .2 1 .1 1 .1 1 .1 1 .2 1 .3 1 .3 1 .4 1 .3 1 .1 1-.1 1-.4 1-.6 1-.6 1-.6 1-.4 1-.1 1 .2 1 .2 1 .2 1 .3 1 .4 1 .4 1 .3 1 .3 1 .1 1-.1 1-.2 1-.2 1-.2 1-.3 1-.3 1-.3 1-.3 1-.2 1-.1 1-.2 1-.2 1-.3 1-.3 1-.2 1 0 1 .3 1 .4 1 .5 1 .5 1 .5 1 .4 1 .4 1 .4 1 .5 1 .3 1 .2 1 0 1-.2 1-.3 1-.3 1-.4 1-.5 1-.6 1-.8 1-.8 1-1.6 1-1.5 1-1.5 1-.6 1 .2 1 .3 1-.4 1-.5 1 .1 1 .5 1 .7 1 .8 1-.1 1-.8 1-1.2 1-1.6 1-1.5 1-.8 1-.1 1 1.4 1 1.5 1 2.6 1 2.3 1 2.1 1 1.8 1 1.3 1 .4 1-.6 1-1.4 1-1.6 1-1.5 1-1.4 1-1.3 1-1.2 1-.5 1-.1 1 .1 1 .5 1 1.1 1 .8 1 .9 1 1.3 1 .8 1 .7 1 .2 1 .6 1 .8 1 2.7 1 4.1 1 3.7 1 2.1 1 1.3 1 1.1 1 .3 1 .5 1-.2 1-.8 1-1.3 1-1.2 1-2.1 1 0 1 1.1 1 1.3 1 1.5 1 2.2 1 2.5 1 2.4 1 2.8 1 1.9 1 1.1 1-.5 1-2.2 1-2.8 1-3.5 1-3.5 1-2.7 1-2.1 1-2 1-1.5 1-1.6 1-1.8 1-2.1 1-2.5 1-3.1 1-3.4 1-2.9 1-2.5 1-2.3 1-2.4 1-2.5 1-2.4 1-2.3 1-2.5 1-2.4 1-2.1 1-1.7 1-1.5 1-1.2 1-1.3 1-1.2 1-1.4 1-1.6 1-1.7 1-1.7 1-1.6 1-1.6 1-1.5 1-1.4 1-1.5 1-1.2 1-.8 1-.4 1 0 1 .2 1 .2 1 .3 1 .4 1 .2 1 .1 1 .1 1 .2 1 .5 1 .9 1 1.3 1 1.6 1 2 1 2.1 1 2.7 1 2.9 1 2.9 1 2.8 1 2.9 1 3 1 3.4 1 3.4 1 3.4 1 3.5 1 3.3 1 2.9 1 2.8 1 2.5 1 2.2 1 1.6 1 1 1 1 1 .6 1 .2 1 .1 1 1.2 1 1.7 1 1.4 1 1.3 1 1.4 1 1.7 1 1.8 1 1.8 1 1.4 1 1.5 1 1.8 1 2 1 2 1 1.7 1 1.8 1 1.6 1 1.5 1 1.4 1 1.5 1 1.4 1 1.3 1 1.2 1 .9 1 .8 1 .8 1 .7 1 .8 1 .7 1 .9 1 .8 1 .6 1 .3 1 .2 1 .5 1 .5 1-.1 1-.2 1-.4 1-.6 1-.6 1-.7 1-.6 1-.5 1-.4 1-.3 1-.3 1-.3 1-.3 1-.1 1-.2 1-.2 1-.3 1-.2 1-.1 1-.2 1-.3 1-.5 1-.6 1-.8 1-.8 1-.9 1-.8 1-.4 1 .1 1 .4 1 .4 1 .3 1 .2 1-.1 1-.1 1-.1 1-.1 1 .2 1 .6 1 .7 1 .3 1 .1 1 .1 1-.5 1-.8 1-.9 1-.8 1-.5 1-.2 1-.2 1 .1 1 .1 1 .2 1 .2 1 .4 1 .6 1 .7 1 .7 1 .7 1 .6 1 .5 1 .5 1 .6 1 .4 1 .2 1 .1 1 .2 1 .1 1 0 1-.1 1-.2 1-.4 1-.8 1-1.2 1-1.3 1-1.2 1-1 1-.9 1-1.2 1-1.2 1-1.4 1-1.9 1-2.2 1-2.2 1-1.6 1-.7 1-.2 1-.1 1-.4 1-.9 1-1.3 1-1.5 1-1.5 1-1.4 1-1.5 1-1.5 1-1.3 1-1.3 1-1.3 1-1.4 1-1.2 1-1 1-.8 1-.6 1-.3 1-.5 1-.7 1-.8 1-.7 1-.6 1-.7 1-.8 1-.7 1-.8 1-1 1-1.1 1-1.2 1-1.2 1-1.2 1-1.1 1-1 1-.7 1-.4 1-.2 1-.2 1-.1 1-.1 1-.3 1-.2 1-.3 1-.1 1 .1 1 .2 1 .2 1 .2 1 .1 1 .1 1 .1 1 0 1-.1 1-.1 1-.1 1-.1 1 0 1 .1 1 .3 1 .4 1 .6 1 .9 1 1 1 1 1 .9 1 .7 1 .5 1 .5 1 .5 1 .7 1 .7 1 .8 1 .9 1 .9 1 1 1 1 1 .7 1 .5 1 .1 1-.1 1-.1 1 0 1 0 1 .1 1-.1 1 0 1 0 1 0 1-.1 1-.2 1-.2 1-.4 1-.3 1-.2 1-.1 1 .1 1 0 1 0 1-.1 1-.2 1-.2 1 .1 1 .2 1 .3 1 .3 1 .2 1 0 1-.2 1-.4 1-.3 1-.2 1 0 1 0 1-.1 1-.2 1-.3 1-.4 1-.4 1-.3 1-.1 1 .1 1 .2 1 .2 1 .1 1 0 1-.1 1-.3 1-.3 1-.4 1-.4 1-.3 1-.2 1-.1 1-.1 1-.1 1-.1 1-.1 1-.1 1-.2 1-.4 1-.3 1-.3 1-.1 1 .1 1 .3 1 .3 1 .3 1 .3 1 .1 1 0 1 0 1 .1 1 .2 1 .3"/>
<path d="M20.3 140l1 .2 1 .1 1 0 1-.1 1-.1 1-.2 1-.2 1-.2 1-.3 1-.2 1-.1 1-.2 1 0 1-.1 1-.1 1 0 1-.1 1-.1 1-.2 1-.1 1 0 1 0 1 .1 1 .1 1 0 1 .1 1-.1 1-.2 1-.4 1-.5 1-.4 1-.3 1 0 1 .1 1 .2 1 .1 1 0 1-.1 1-.2 1-.1 1 0 1-.1 1 0 1 0 1 .1 1 .1 1 0 1 0 1-.1 1-.2 1-.2 1-.2 1-.2 1 0 1 0 1 .2 1 .4 1 .4 1 .5 1 .6 1 .5 1 .3 1 .3 1 .1 1-.1 1-.2 1-.2 1-.2 1-.1 1-.1 1 .1 1 .3 1 .3 1 .3 1 .1 1 .1 1-.2 1-.1 1-.2 1-.1 1 .2 1 .3 1 .5 1 .7 1 .8 1 .7 1 .7 1 .7 1 .6 1 .6 1 .4 1 .4 1 .4 1 .3 1 .3 1 .1 1 0 1-.2 1-.2 1-.4 1-.1 1 .2 1 .6 1 .9 1 .7 1 .6 1 .6 1 .7 1 .8 1 1.1 1 1.7 1 1.8 1 1.2 1 .8 1 .7 1 .7 1 .9 1 .8 1 1.8 1 4.7 1 5.5 1 4 1 2.2 1-.3 1-1.6 1-2.7 1-4.4 1-5.2 1-5.1 1-3.2 1-1.6 1-.6 1-1 1-.2 1 .1 1 .2 1 .4 1 1.4 1 2.1 1 2.8 1 2 1 2.1 1 2.3 1 2.6 1 2.5 1 2.5 1 2.5 1 3.1 1 1.6 1-1.2 1-2.5 1-2.4 1-2.9 1-2.7 1-3.1 1-3.3 1-3.8 1-3.6 1-4.3 1-2.3 1-1.4 1-1.3 1-1.2 1-.7 1-.1 1 .3 1 1.4 1 1.5 1 1.4 1 1 1 .1 1-.1 1-.7 1-.7 1-.3 1-.3 1-.7 1-.8 1-1.2 1-1.6 1-1.8 1-1.7 1-1.5 1-.9 1 .2 1 .8 1 1.1 1 .9 1 .7 1 .4 1 .3 1 .1 1 .3 1 .4 1 .5 1 .7 1 .8 1 .4 1 .3 1-.3 1-.2 1-.3 1-.6 1-.9 1-1.2 1-1.5 1-1.7 1-1.7 1-1.7 1-1.4 1-1.2 1-1.2 1-1.1 1-1.3 1-1.2 1-1.2 1-1.1 1-1.3 1-1.3 1-1.4 1-1.4 1-1.3 1-1.3 1-1.1 1-1 1-.7 1-.2 1 .3 1 .7 1 .8 1 1.3 1 1.5 1 2 1 1.9 1 2.1 1 2.2 1 2.2 1 2 1 2.1 1 2.1 1 2 1 1.6 1 1 1 1.1 1 1.1 1 .7 1 .6 1 1.7 1 2 1 1.7 1 1.6 1 1.8 1 2 1 2.2 1 2.3 1 1.9 1 2 1 2.1 1 2.3 1 2 1 1.9 1 1.8 1 1.6 1 1.3 1 1 1 .6 1 .3 1-.2 1-.4 1-.7 1-.9 1-1 1-1.1 1-1 1-1 1-.9 1-1 1-1.3 1-1.7 1-2 1-1.6 1-1.7 1-2 1-2 1-1.9 1-1.9 1-1.9 1-1.8 1-1.9 1-1.8 1-1.7 1-1.5 1-1.6 1-1.6 1-1.7 1-1.8 1-1.7 1-1.7 1-1.7 1-1.4 1-1.2 1-1.1 1-1 1-.8 1-.7 1-.4 1-.4 1-.2 1-.2 1-.3 1-.2 1-.3 1-.4 1-.3 1-.2 1 .1 1 .2 1 .4 1 .3 1 .2 1 .2 1 .1 1-.1 1 .1 1 .2 1 .2 1 .3 1 .4 1 .5 1 .7 1 1.1 1 1.1 1 1.1 1 1.1 1 1.1 1 1.2 1 1.1 1 1.2 1 1.2 1 1.3 1 1.3 1 1.4 1 1.4 1 1.4 1 1.5 1 1.5 1 1.3 1 1.4 1 1.3 1 1.3 1 1 1 1 1 .8 1 .9 1 .6 1 .2 1-.1 1-.2 1-.5 1-.8 1-1.1 1-1 1-1.1 1-1.3 1-1.4 1-1.2 1-.7 1-.1 1 .3 1 .3 1-.2 1-.5 1-1 1-1.1 1-1 1-1 1-.8 1-.6 1-.4 1-.3 1-.1 1-.2 1-.1 1-.2 1-.3 1-.1 1 0 1 .1 1-.1 1 0 1 0 1 .1 1 0 1-.1 1 0 1-.2 1-.2 1-.1 1-.2 1 0 1 0 1 0 1 .1 1 0 1 .2 1 .1 1 .2 1 0 1 0 1-.2 1-.3 1-.5 1-.5 1-.5 1-.4 1-.3 1-.2 1-.1 1 0 1 0 1 .2 1 .1 1 .2 1 .1 1 0 1-.1 1-.2 1-.2 1-.3 1-.2 1-.1 1 0 1 0 1-.3 1-.3 1-.2 1 0 1 .1 1 .2 1 .3 1 .4 1 .2 1 .3 1 .4 1 .4 1 .5 1 .3 1 .1 1-.1 1-.1 1-.2 1-.2 1-.2 1-.3 1-.3 1-.3 1-.2 1-.3 1-.2 1-.2 1-.1 1 0 1 0 1 .1 1 .2 1 .2 1 .1 1-.1 1-.1 1-.1 1-.1 1-.1 1-.1 1-.2 1-.3 1-.3 1-.4 1-.3 1-.2 1-.3 1-.1 1-.2 1-.2 1-.3 1-.3 1-.4 1-.4 1-.4 1-.2 1-.2 1-.1 1 0 1 0 1-.1 1-.2 1-.4 1-.5 1-.6 1-.6 1-.5 1-.4 1-.2 1-.1 1-.3 1-.4 1-.5 1-.4 1-.5 1-.3 1-.4 1-.2 1-.3 1-.1 1 .1 1 .2 1 .4 1 .4 1 .3 1 .3 1 .2 1 .2 1 .3 1 .2"/>
<path d="M20.3 136.8l1 0 1 .6 1 .5 1 .5 1 .3 1 .3 1 .2 1 .1 1 0 1-.1 1-.3 1-.4 1-.4 1-.5 1-.5 1-.4 1-.3 1-.2 1 0 1 .3 1 .5 1 .7 1 .8 1 .7 1 .7 1 .6 1 .4 1 .2 1 .2 1 0 1-.2 1-.3 1-.4 1-.5 1-.7 1-.8 1-.7 1-.4 1-.2 1 .2 1 .5 1 .6 1 .5 1 .5 1 .4 1 .2 1 .2 1 .1 1 0 1 0 1-.2 1-.2 1-.3 1-.4 1-.5 1-.5 1-.7 1-.6 1-.6 1-.4 1-.1 1 .1 1 .4 1 .6 1 .7 1 .7 1 .5 1 .3 1 .1 1-.2 1-.3 1-.4 1-.5 1-.6 1-.6 1-.7 1-.8 1-.7 1-.6 1-.5 1-.2 1 .1 1 .3 1 .6 1 .7 1 .8 1 .7 1 .4 1 .1 1-.1 1-.2 1-.3 1-.2 1-.2 1-.2 1-.4 1-.4 1-.5 1-.8 1-1.5 1-1.6 1-1.3 1-.5 1 .5 1 .7 1 0 1-.2 1 .2 1-.1 1 .4 1 .9 1 .7 1 .6 1 .7 1 .8 1 .9 1 1.1 1 .7 1 1.1 1 1.1 1 1.9 1 1 1 .5 1-.1 1-.5 1-1.1 1-1.8 1-2.2 1-1.8 1-1 1 0 1 .6 1 .9 1 1.3 1 1.3 1 .9 1 .5 1 .5 1-.5 1-1 1-1.5 1-2.6 1-3.4 1-4.5 1-4.6 1-4.7 1-2.5 1-.7 1 0 1 .4 1 1.5 1 2.6 1 3.1 1 4.4 1 3.8 1 2.9 1 2.1 1 1.8 1-.4 1-.4 1-.3 1-.9 1-1 1-.5 1 0 1 .5 1 1.4 1 1.4 1 1.5 1 1.4 1 1 1 1 1 .4 1 .4 1 .5 1 .1 1-.4 1-.5 1-.9 1-1.4 1-1.6 1-1.5 1-1.6 1-1.4 1-.6 1 .1 1 .3 1 .4 1 .6 1 .5 1 .5 1 .1 1 .1 1-.2 1-.3 1-.2 1-.2 1-.3 1-.5 1-.9 1-1.1 1-1.1 1-1.5 1-1.7 1-1.8 1-1.6 1-1.4 1-1.2 1-.9 1-.7 1-.7 1-.8 1-1 1-1.1 1-1.1 1-1 1-.8 1-.8 1-.7 1-.4 1 0 1 .2 1 .6 1 .8 1 .9 1 1 1 1.3 1 1.7 1 1.7 1 1.6 1 1.8 1 2 1 2.4 1 2.2 1 2.3 1 2.2 1 1.8 1 1.5 1 1.3 1 1.1 1 .6 1 0 1-.5 1-.1 1 0 1-.2 1 0 1 1 1 1.4 1 .9 1 .4 1 .5 1 .7 1 .6 1 .5 1 .2 1 .1 1 .2 1 .3 1 .2 1-.4 1-.4 1-.7 1-.9 1-1.2 1-1.5 1-1.6 1-1.9 1-2 1-2.1 1-2.1 1-2.2 1-2.1 1-2.2 1-2.2 1-2.1 1-2.2 1-2.1 1-2.3 1-2.2 1-1.6 1-1.8 1-2.1 1-2.1 1-2.1 1-2 1-1.9 1-1.9 1-1.9 1-1.9 1-1.7 1-1.7 1-1.7 1-1.5 1-1.3 1-1.1 1-.8 1-.7 1-.6 1-.7 1-.8 1-.8 1-.8 1-.9 1-.7 1-.5 1-.4 1-.1 1 .1 1 .2 1 .3 1 .3 1 .5 1 .6 1 .9 1 1 1 1.1 1 .9 1 .8 1 .5 1 .3 1 .4 1 .4 1 .6 1 .6 1 .8 1 .8 1 .9 1 1.2 1 1.7 1 2.2 1 2.2 1 2.1 1 1.9 1 1.6 1 1.5 1 1.5 1 1.4 1 1.7 1 1.7 1 1.8 1 1.8 1 1.6 1 1.4 1 1.4 1 1.2 1 1.1 1 1.2 1 1.1 1 1.2 1 1 1 1 1 .8 1 .7 1 .5 1 0 1-.1 1 0 1 0 1 0 1-.1 1-.2 1-.2 1-.5 1-.7 1-.7 1-.4 1-.1 1 0 1 .1 1 0 1-.1 1-.2 1-.2 1 0 1 .1 1 .1 1 .3 1 .3 1 .2 1 .3 1 .2 1 .4 1 .6 1 .8 1 .8 1 .8 1 .6 1 .1 1 .1 1 .3 1 .4 1 .3 1 .1 1 0 1-.2 1-.4 1-.5 1-.3 1 0 1 .1 1 .3 1 .3 1 .2 1 .1 1 .1 1 0 1 .1 1 .1 1 .2 1 0 1 .1 1-.1 1-.1 1-.1 1-.2 1-.2 1-.1 1-.2 1-.3 1-.3 1-.2 1-.2 1 .1 1 .1 1 .2 1 .2 1 .1 1-.1 1 0 1 .2 1 .4 1 .5 1 .5 1 .6 1 .7 1 .8 1 .6 1 .4 1 .3 1 .1 1 .2 1 .4 1 .4 1 .5 1 .4 1 .2 1-.1 1-.2 1-.2 1-.4 1-.3 1-.5 1-.3 1-.3 1-.1 1 .1 1 0 1-.1 1-.2 1-.3 1-.4 1-.4 1-.4 1-.1 1-.1 1 .1 1 .2 1 .2 1 .3 1 .1 1 .1 1-.2 1-.3 1-.4 1-.4 1-.5 1-.4 1-.4 1-.4 1-.6 1-.6 1-.6 1-.4 1-.2 1 .1 1 .1 1 .2 1 .1 1 0 1-.1 1 0 1 .1 1 .2 1 .1 1 0 1-.4 1-.6 1-.8 1-.7 1-.5 1-.3 1-.2 1-.2 1-.1 1-.1 1-.1 1 0 1 .1 1 .2 1 .2 1 .3 1 .3 1 .4 1 .3 1 .3 1 .2 1 .1 1 .3 1 .4 1 .6 1 .6 1 .7"/>
<path d="M20.3 142.9l1 .2 1 .2 1 .2 1 .1 1 .1 1 .1 1 .1 1 .1 1 .2 1 .2 1 .2 1 .1 1 .1 1 0 1-.2 1-.2 1-.3 1-.5 1-.4 1-.4 1-.2 1 .1 1 .1 1 0 1 0 1 0 1-.1 1 0 1 .1 1-.1 1 0 1 0 1 .1 1 0 1 0 1-.2 1-.3 1-.4 1-.4 1-.4 1-.2 1 0 1 .2 1 .1 1 .1 1 .1 1-.1 1-.3 1-.4 1-.5 1-.5 1-.5 1-.4 1-.3 1-.2 1-.1 1 0 1 0 1 .1 1 .2 1 .2 1 .2 1 .3 1 .2 1 .2 1 0 1 .1 1 0 1 0 1 0 1 0 1 0 1 0 1 0 1 0 1-.1 1-.2 1-.1 1-.1 1 .1 1 .3 1 .5 1 .7 1 .7 1 .6 1 .4 1 .2 1 .2 1 .2 1 .1 1 .2 1 .1 1 .1 1 .1 1 .3 1 .2 1 .3 1 .3 1 .3 1 .2 1 .5 1 .8 1 1 1 1 1 .9 1 .6 1 .6 1 .8 1 1.3 1 1.5 1 1.8 1 1.6 1 .4 1-.4 1-.9 1-1.2 1-1.1 1-.6 1 1.4 1 4.8 1 6.3 1 5.2 1 3.8 1 1.8 1 .5 1-1 1-3.6 1-5.8 1-5.6 1-4 1-2.5 1-1.4 1-1.4 1-1.6 1-1.3 1-1.3 1-1 1 .2 1 .8 1 1.9 1 2.6 1 3 1 3.5 1 3.8 1 3.8 1 3.8 1 3.5 1 3.6 1 1.7 1-1.6 1-3.1 1-3.6 1-4.3 1-4.1 1-4.5 1-4.3 1-4.2 1-3.4 1-3.5 1-1.2 1 .3 1 .7 1 1.2 1 2.2 1 2.8 1 3 1 3.7 1 3 1 2.1 1 .7 1-1.1 1-1.9 1-2.7 1-3 1-2.2 1-1.7 1-1.4 1-.7 1-.2 1 .4 1 1.2 1 1.6 1 1.8 1 2.3 1 2.7 1 2.9 1 2.5 1 2 1 1.7 1 1.5 1 1.2 1 1.4 1 1.5 1 1.7 1 1.9 1 1.9 1 1.8 1 1.6 1 1.4 1 1.2 1 1.3 1 1.5 1 1.3 1 .9 1 .8 1 .7 1 .6 1 .7 1 .7 1 .7 1 .7 1 .7 1 .5 1 .3 1 .2 1 0 1-.3 1-.6 1-.9 1-1 1-1 1-.9 1-1 1-1 1-1.1 1-1.1 1-1.2 1-1.2 1-1.4 1-1.6 1-1.4 1-1.4 1-1.3 1-1.5 1-1.6 1-1.8 1-1.9 1-1.8 1-1.5 1-1.4 1-1.6 1-2 1-2.9 1-2.2 1-1.6 1-1.5 1-1.1 1 .1 1 .8 1 .8 1 .7 1 .8 1 1 1 1.1 1 1.3 1 1 1 1.2 1 1.4 1 1.4 1 1.3 1 .8 1 .6 1 .3 1 0 1-.3 1-.5 1-.5 1-.3 1-.2 1 .1 1 .1 1 .2 1 .1 1-.2 1-.4 1-.7 1-.7 1-.9 1-1 1-.7 1 0 1 .2 1 0 1-.1 1-.2 1-.4 1-.6 1-.6 1-.6 1-.4 1-.4 1-.3 1-.4 1-.5 1-.5 1-.4 1-.4 1-.5 1-.6 1-.6 1-.3 1-.2 1 0 1 .1 1 .2 1 .2 1 .1 1 .1 1 .1 1 .1 1 .2 1 .2 1 .1 1-.1 1-.1 1-.2 1-.1 1 0 1 0 1 .1 1 .4 1 .6 1 .2 1 .1 1 .2 1-.4 1-.7 1-.9 1-.8 1-.7 1-.1 1 0 1 .3 1 .5 1 .5 1 .4 1 .4 1 .1 1 .1 1 0 1 .2 1 .4 1 .8 1 1 1 1.2 1 1 1 .7 1 .6 1 .6 1 .4 1 .2 1 0 1-.1 1-.2 1-.4 1-.8 1-.7 1-.6 1-.5 1-.6 1-.9 1-.9 1-1 1-1.3 1-1.5 1-1.4 1-.9 1-.1 1 .2 1 .2 1-.1 1-.6 1-1 1-1.3 1-1.2 1-1.3 1-1.4 1-1.3 1-1.1 1-1 1-1 1-1 1-.9 1-.9 1-.7 1-.6 1-.4 1-.6 1-1 1-1.1 1-1 1-.9 1-1.1 1-1.1 1-1.1 1-1.3 1-1.2 1-1.3 1-1 1-.9 1-.8 1-.7 1-.7 1-.6 1-.4 1-.4 1-.2 1-.1 1-.2 1-.2 1-.2 1-.2 1-.1 1 .2 1 .3 1 .2 1 .1 1-.1 1-.1 1-.1 1-.1 1 0 1 .1 1 .1 1 .1 1 0 1-.2 1-.2 1-.3 1-.1 1 .5 1 .7 1 .9 1 1 1 1 1 .9 1 .8 1 .6 1 .4 1 .3 1 .3 1 .5 1 .9 1 1.1 1 1.2 1 1 1 .6 1 .1 1-.2 1-.2 1-.2 1-.3 1-.4 1-.5 1-.5 1-.4 1-.3 1-.3 1-.5 1-.4 1-.5 1-.4 1-.3 1-.3 1-.1 1-.1 1-.2 1-.2 1-.2 1-.2 1-.2 1-.1 1-.1 1 0 1-.1 1-.2 1-.3 1-.1 1-.1 1-.1 1-.1 1-.3 1-.2 1-.2 1 0 1 .3 1 .3 1 .4 1 .3 1 .1 1 .1 1 0 1 0 1-.1 1 0 1 0 1-.1 1-.4 1-.5 1-.6 1-.6 1-.4 1-.3 1-.2 1-.2 1 0 1-.1 1 0 1 .1 1 .1 1 .2 1 .3 1 .4 1 .4 1 .5 1 .4 1 .4 1 .2 1 .2 1 .3 1 .1 1 .3 1 .4"/>
<path d="M20.3 138.5l1 .3 1 .1 1-.1 1-.2 1-.4 1-.3 1-.2 1-.2 1-.2 1-.2 1-.1 1 0 1-.1 1-.1 1-.2 1-.2 1-.3 1-.1 1 0 1 .3 1 .6 1 .9 1 .8 1 .6 1 .2 1 0 1-.4 1-.5 1-.4 1-.4 1-.4 1-.2 1-.2 1 .1 1 .2 1 .2 1 .2 1 0 1-.1 1-.2 1-.2 1-.1 1 0 1 .1 1 .3 1 .3 1 .3 1 .1 1-.2 1-.4 1-.7 1-.8 1-.8 1-.7 1-.5 1-.3 1 0 1 .3 1 .5 1 .5 1 .6 1 .4 1 .3 1 .1 1-.1 1-.2 1-.4 1-.4 1-.3 1-.4 1-.3 1-.3 1-.3 1-.4 1-.4 1-.4 1-.6 1-.5 1-.4 1-.3 1-.1 1 .2 1 .5 1 .6 1 .7 1 .7 1 .6 1 .4 1 .2 1 .1 1-.1 1-.2 1-.1 1-.2 1-.4 1-.8 1-1.1 1-1.2 1-1.4 1-2 1-1.9 1-1.7 1-.4 1 .6 1 .8 1-.3 1-.5 1-.4 1-.7 1-.4 1 .5 1 .2 1 .5 1 1 1 1.1 1 1.5 1 1.9 1 1.5 1 1.3 1-.1 1 .2 1-.8 1-1.1 1-1.1 1-1 1-1.1 1-1.3 1-1.2 1-.6 1 .1 1 .8 1 1.3 1 1.6 1 1.9 1 1.9 1 1.2 1 .5 1-.3 1-1.9 1-3.3 1-4 1-5.8 1-7.1 1-9 1-9 1-9.1 1-5.7 1-3 1-1.3 1 1 1 3.3 1 5.1 1 6.1 1 8.4 1 7.8 1 6.7 1 5.8 1 5.5 1 2.2 1 .7 1 0 1-1.3 1-1.6 1-1.3 1-.7 1 0 1 .9 1 1.2 1 1.7 1 2.3 1 2.7 1 2.7 1 2.2 1 2.2 1 2.1 1 1 1 .3 1-.5 1-1.8 1-3 1-3.6 1-3.6 1-3.3 1-2.7 1-1.2 1 .1 1 .7 1 1.1 1 1.3 1 1.3 1 1.4 1 1.2 1 1.3 1 1.4 1 1.7 1 2.2 1 2.3 1 2.3 1 2.3 1 2 1 1.9 1 1.8 1 1.6 1 1 1 .6 1 .4 1 .4 1 .3 1 .4 1 .4 1 .6 1 .8 1 .7 1 .7 1 .7 1 .5 1 .4 1 .1 1-.1 1-.2 1-.2 1-.4 1-.6 1-.8 1-1.1 1-1.3 1-1.2 1-1.2 1-1.2 1-1.3 1-1.2 1-1.1 1-.8 1-.8 1-.8 1-.7 1-.9 1-1 1-1.1 1-1.3 1-1.4 1-1.7 1-1.7 1-1.1 1-.8 1-1.2 1-1.1 1-.1 1-.3 1-1.4 1-2.2 1-2 1-2 1-2.3 1-2.3 1-2.4 1-1.9 1-1.8 1-1.4 1-1.3 1-1.5 1-1.5 1-1.4 1-1.4 1-1.4 1-1.4 1-1.5 1-1.6 1-1.7 1-1.6 1-1.5 1-1.3 1-1.2 1-1.2 1-1.1 1-1.2 1-1.2 1-1.1 1-.9 1-.7 1-.5 1-.6 1-.8 1-.8 1-.9 1-.9 1-.7 1-.6 1-.5 1-.4 1-.4 1-.4 1-.4 1-.3 1-.3 1-.2 1-.1 1-.2 1-.3 1-.4 1-.5 1-.4 1-.2 1-.1 1 0 1 .1 1 0 1 0 1-.1 1-.1 1 0 1 .1 1 .1 1 0 1 0 1 0 1 .2 1 .4 1 .9 1 1.1 1 1.4 1 1.4 1 1.3 1 1.1 1 .8 1 .7 1 .7 1 .8 1 1.1 1 1.4 1 1.8 1 1.8 1 1.9 1 1.8 1 1.9 1 2.1 1 2 1 1.9 1 1.8 1 1.6 1 1.6 1 1.7 1 1.8 1 1.8 1 2 1 1.9 1 1.8 1 1.6 1 1.4 1 1.4 1 1.1 1 1 1 1 1 .9 1 .6 1 .2 1 .4 1 .3 1 .2 1 .1 1-.2 1-.4 1-.6 1-.8 1-.8 1-.7 1-.3 1 .2 1 .5 1 .6 1 .7 1 .7 1 .6 1 .4 1 .4 1 .2 1 .3 1 .4 1 .7 1 1.1 1 1.5 1 1.7 1 2 1 2 1 1.9 1 1.8 1 1.5 1 1.2 1 .8 1 .6 1 .6 1 .7 1 .7 1 .7 1 .6 1 .5 1 .5 1 .5 1 .4 1 .3 1 .3 1 .3 1 .2 1 .1 1 0 1-.2 1-.2 1-.1 1-.1 1 0 1 0 1-.1 1-.2 1-.2 1-.3 1-.4 1-.5 1-.5 1-.4 1-.4 1-.2 1-.3 1-.2 1-.3 1-.4 1-.4 1-.4 1-.5 1-.6 1-.5 1-.5 1-.3 1-.3 1-.6 1-.7 1-.3 1-.1 1-.1 1 0 1 0 1-.1 1-.1 1-.1 1 0 1 .1 1 0 1 0 1-.1 1-.2 1-.1 1 0 1 0 1-.2 1-.2 1-.4 1-.4 1-.3 1-.2 1-.2 1-.1 1-.1 1-.3 1-.3 1-.3 1-.1 1 0 1 .1 1 .2 1 .2 1 .2 1 .2 1 .2 1 .1 1 .1 1 0 1 0 1-.1 1 0 1 0 1 0 1 .1 1 .1 1 .4 1 .5 1 .7 1 .7 1 .6 1 .6 1 .6 1 .7 1 .5 1 .6 1 .4 1 .3 1 .2 1 .2 1 .2 1 .1 1 0 1-.1 1 .1 1 .1 1 .3 1 .2 1 .2 1 .2 1 .2 1 .2 1 .2 1 .2 1 .2 1 .3 1 .3 1 .4 1 .6 1 .6 1 .8 1 .8 1 .7 1 .6 1 .4 1 0 1-.2"/>
<path d="M20.3 131.8l1 .5 1 .4 1 .2 1-.1 1-.2 1-.2 1-.2 1-.1 1-.2 1-.2 1-.3 1-.4 1-.4 1-.4 1-.3 1-.3 1 0 1 .2 1 .4 1 .6 1 .9 1 .9 1 .8 1 .8 1 .5 1 .5 1 .1 1 0 1-.4 1-.5 1-.5 1-.6 1-.5 1-.6 1-.6 1-.6 1-.4 1-.4 1-.1 1 0 1 .2 1 .4 1 .4 1 .5 1 .5 1 .5 1 .3 1 .1 1 0 1-.2 1-.2 1-.4 1-.4 1-.5 1-.5 1-.6 1-.7 1-.4 1-.2 1 .1 1 .4 1 .5 1 .6 1 .6 1 .5 1 .4 1 .2 1 0 1-.3 1-.4 1-.5 1-.6 1-.6 1-.6 1-.7 1-.7 1-.8 1-.6 1-.5 1-.3 1-.1 1 .1 1 .4 1 .7 1 .9 1 .9 1 .8 1 .7 1 .4 1 .3 1-.1 1-.2 1-.3 1-.5 1-.6 1-1 1-1.2 1-1.4 1-1.5 1-2.7 1-2.8 1-2.8 1-1.3 1 .3 1 .5 1-.6 1-.8 1 0 1 .3 1 .9 1 1.2 1 .4 1 0 1-.3 1-1 1-1.2 1-.8 1-.9 1 .9 1 2.1 1 .8 1 .5 1 .6 1 .9 1 .7 1 .2 1 1.2 1 1.6 1 1.6 1 1.5 1 1.3 1 .8 1 .3 1 0 1-.5 1-1.3 1-1.8 1-2.2 1-3.5 1-3.6 1-3.6 1-5.8 1-7.2 1-7.1 1-6.6 1-6.4 1-2.9 1-.8 1 .2 1 1.6 1 2.9 1 3.9 1 4.3 1 6.5 1 5.9 1 4.9 1 4.2 1 4.3 1 1.3 1 0 1 1.6 1 .4 1-.3 1-.4 1-.4 1 .6 1 2 1 1.6 1 1.3 1 1.4 1 1.6 1 1.4 1 .5 1 .3 1-.4 1-1.8 1-2.4 1-2.6 1-1.4 1-1.7 1-2 1-1.9 1-2.1 1-2.1 1-1.6 1-1.1 1-1.1 1-.8 1-.4 1-.7 1-1 1-1.3 1-1.6 1-1.6 1-1.3 1-1.1 1-1.2 1-1.3 1-1.5 1-1.8 1-2 1-2.3 1-2.3 1-2.2 1-1.9 1-1.5 1-1.5 1-1.4 1-1.4 1-1.4 1-1.2 1-1.1 1-1 1-.7 1-.4 1-.1 1 .1 1 .2 1 .3 1 .5 1 .8 1 1.1 1 1.4 1 1.6 1 1.8 1 1.8 1 2.3 1 2.6 1 2.7 1 2.8 1 3.2 1 3.4 1 4 1 3.7 1 3.7 1 3.6 1 3.3 1 2.8 1 2.5 1 2.3 1 1.9 1 1.3 1 1 1 1 1 .7 1-.1 1-.3 1 .4 1 0 1-1.3 1-2 1-2 1-2.1 1-2.4 1-2.8 1-2.9 1-2.6 1-2.5 1-2.2 1-2 1-2.1 1-2 1-1.7 1-1.4 1-1.3 1-1.1 1-1 1-.9 1-1 1-1.1 1-1 1-1.1 1-1.1 1-1 1-1 1-.9 1-.9 1-.9 1-.8 1-.8 1-.5 1-.4 1-.3 1-.3 1-.3 1-.2 1-.2 1 0 1 .1 1 .4 1 .5 1 .6 1 .5 1 .4 1 .4 1 .6 1 .8 1 1 1 1.2 1 1.3 1 1.3 1 1.4 1 1.4 1 1.4 1 1.5 1 1.6 1 1.5 1 1.6 1 1.7 1 1.8 1 2 1 2.1 1 2.2 1 2.1 1 2.1 1 2.2 1 2.3 1 2.5 1 2.5 1 2.6 1 2.8 1 2.8 1 2.5 1 2.3 1 2.3 1 1.7 1 1.5 1 1.2 1 1.1 1 1.2 1 1.6 1 1.4 1 1.4 1 1.3 1 1.2 1 1.1 1 1.1 1 1 1 .9 1 1 1 .9 1 1.2 1 1.3 1 1.6 1 1.7 1 1.3 1 .6 1 .3 1 0 1-.3 1-.4 1-.4 1-.6 1-.6 1-.8 1-1.3 1-1.4 1-1.5 1-1.4 1-1.4 1-1.5 1-1.5 1-1.5 1-2 1-2.1 1-2 1-1.6 1-1.1 1-.7 1-.5 1-.7 1-.7 1-.9 1-1 1-1 1-.9 1-.9 1-.8 1-.6 1-.4 1-.2 1 0 1 .1 1 .2 1 .4 1 .4 1 .6 1 .5 1 .2 1 0 1 .2 1 0 1-.3 1-.5 1-.5 1-.7 1-.5 1-.5 1-.4 1-.3 1-.3 1-.5 1-.7 1-.7 1-.7 1-.5 1-.4 1-.2 1-.1 1-.1 1 0 1 0 1 0 1 .1 1 .1 1 .1 1 0 1 0 1 .1 1 0 1 0 1 .1 1 .1 1 .1 1 .1 1 0 1 0 1-.1 1-.1 1 0 1 .3 1 .4 1 .6 1 .7 1 .6 1 .6 1 .7 1 .7 1 .8 1 .8 1 .9 1 .8 1 .7 1 .7 1 .3 1 .2 1-.2 1-.4 1-.3 1-.1 1 .1 1 .2 1 0 1 0 1-.3 1-.3 1-.4 1-.4 1-.4 1-.5 1-.3 1-.3 1-.2 1-.1 1 .1 1 0 1 .2 1 .2 1 .4 1 .4 1 .5 1 .4 1 .4 1 .3 1 .1 1 .1 1-.2 1-.1 1-.2 1-.2 1-.2 1-.2 1-.1 1-.1 1 0 1 .1 1 .3 1 .3 1 .4 1 .4 1 .4 1 .5 1 .4 1 .5 1 .5 1 .2 1 0 1-.2 1-.3 1-.2 1-.2 1 0 1 .1 1 0 1 0 1 0 1 0 1 0 1 .1 1 .1 1 .1 1 0 1-.1 1-.1 1-.2 1-.1 1 0 1 0 1 .2 1 .2 1 .4 1 .4 1 .5"/>
<path d="M20.3 128.5l1 0 1 .1 1 .1 1 .2 1 .6 1 .4 1 .4 1 .4 1 .3 1 .1 1 0 1-.4 1-.4 1-.6 1-.6 1-.6 1-.5 1-.3 1-.1 1 .2 1 .5 1 .5 1 .5 1 .4 1 .2 1 .1 1 .2 1 .2 1 .1 1 .1 1-.2 1-.5 1-.7 1-.9 1-.7 1-.5 1-.3 1-.1 1 .1 1 .2 1 .1 1 .1 1 .1 1 .2 1 .2 1 .3 1 .4 1 .2 1-.1 1-.2 1-.4 1-.3 1-.2 1-.1 1-.2 1-.2 1-.4 1-.5 1-.3 1-.2 1-.1 1 .2 1 .2 1 .2 1 0 1-.1 1 0 1-.1 1 0 1 .1 1 .1 1-.1 1-.2 1-.3 1-.6 1-.8 1-.8 1-.7 1-.4 1-.1 1 .2 1 .3 1 .4 1 .3 1 .3 1 .4 1 .6 1 .7 1 .6 1 .5 1 .2 1 0 1-.2 1-.3 1-.4 1-.8 1-1 1-1.1 1-1.3 1-2.6 1-2.7 1-2.8 1-1.8 1-1.1 1-1.5 1-2.4 1-2.5 1-1.6 1-1 1-.6 1-.3 1 .1 1 .4 1 .5 1 .8 1 1.8 1 2.5 1 3.3 1 4.7 1 3 1 1.6 1 1 1 .8 1 .6 1 .2 1-.7 1-1.3 1-1.6 1-.4 1-.3 1-.2 1-.2 1-.1 1 .5 1 .7 1 .4 1 .3 1 .8 1-.4 1-1.5 1-2.1 1-4.2 1-5.9 1-8.4 1-8.9 1-9.3 1-5.9 1-3.5 1-1.9 1 .5 1 2.8 1 4.6 1 5.8 1 8.6 1 8.4 1 7.6 1 6.9 1 6.8 1 3.5 1 2.4 1 1.7 1 .4 1-.3 1-.7 1-.8 1-1.3 1-1.5 1-2.2 1-2.4 1-2 1-1 1-.4 1 0 1 .9 1 1.6 1 .4 1 .7 1 1 1 .1 1-.7 1-1.4 1-1.8 1-2.5 1-3.1 1-2.5 1-2 1-1.9 1-1.7 1-1.1 1-.9 1-1.1 1-1.3 1-1.5 1-1.5 1-1.4 1-1.2 1-1.2 1-1.3 1-1.5 1-1.8 1-2.2 1-2.3 1-2.4 1-2.4 1-2.3 1-2.2 1-2.3 1-2.1 1-1.9 1-1.6 1-1.3 1-1.1 1-1.3 1-1.3 1-1.2 1-1.1 1-.9 1-.9 1-.7 1-.3 1 0 1 .5 1 .7 1 .8 1 .9 1 .9 1 1.3 1 1.9 1 2.1 1 2.5 1 3.2 1 3.8 1 4.2 1 4.3 1 4.6 1 4.9 1 4.7 1 4.3 1 4.1 1 3.9 1 3.6 1 3.3 1 3.2 1 3 1 2.5 1 1.5 1 1.2 1 2.1 1 2.2 1 1.5 1 1 1 1.1 1 1.2 1 1.1 1 1.1 1 1.1 1 1.5 1 1.6 1 1.8 1 1.6 1 1 1 .7 1 .8 1 .7 1 .7 1 .8 1 .7 1 .6 1 .5 1 .4 1 .5 1 .5 1 .7 1 1.1 1 1.6 1 2.1 1 2.5 1 2.7 1 2.5 1 2.5 1 2.8 1 2.7 1 2.4 1 2.4 1 2.3 1 2.2 1 2 1 1.9 1 1.8 1 1.8 1 1.8 1 1.8 1 1.8 1 1.5 1 1.5 1 1.3 1 1.1 1 .8 1 .6 1 .7 1 1 1 .9 1 .9 1 .9 1 1.2 1 1.5 1 1.5 1 1.5 1 1.4 1 1.2 1 1.2 1 1.1 1 .9 1 1 1 1 1 .9 1 .8 1 .6 1 .4 1 .4 1 .4 1 .3 1-.6 1-.9 1-1 1-1.1 1-1.4 1-1.5 1-1.7 1-1.7 1-1.9 1-1.9 1-1.5 1-1.1 1-1 1-.8 1-.7 1-.8 1-.7 1-.7 1-.7 1-.6 1-.6 1-.7 1-.9 1-1.2 1-1.8 1-1.8 1-1.7 1-1.7 1-1.9 1-2 1-2.1 1-2.2 1-2.2 1-2.3 1-2 1-2 1-2 1-2.2 1-2.5 1-2.7 1-2.9 1-3.4 1-3.7 1-3.6 1-3.2 1-2.2 1-1.6 1-1 1-1 1-1 1-1 1-1.2 1-1.2 1-1.1 1-.9 1-.5 1 .1 1 .6 1 1.1 1 1.2 1 1.4 1 1.2 1 .9 1 .9 1 .9 1 .8 1 .8 1 .8 1 .7 1 .8 1 .7 1 .7 1 .5 1 .5 1 .6 1 .6 1 .8 1 .6 1 .8 1 .6 1 .6 1 .4 1 .3 1 .3 1 .2 1 .2 1 .3 1 .1 1 .1 1 0 1-.1 1-.1 1-.1 1-.2 1-.3 1-.6 1-.7 1-.9 1-.9 1-1 1-.8 1-.6 1-.4 1-.3 1-.3 1-.3 1-.5 1-.6 1-.7 1-.7 1-.8 1-1.1 1-1.1 1-.6 1-.2 1-.1 1-.1 1-.1 1 0 1-.2 1-.1 1-.2 1-.1 1-.3 1-.2 1-.4 1-.3 1-.4 1-.2 1 0 1 0 1-.1 1-.2 1-.3 1-.5 1-.5 1-.6 1-.4 1-.5 1-.4 1-.3 1-.3 1-.2 1-.1 1 0 1 .1 1 .1 1 .3 1 .5 1 .5 1 .5 1 .5 1 .3 1 .2 1 0 1-.1 1-.2 1-.2 1-.2 1-.2 1-.1 1-.1 1 .1 1 .2 1 .3 1 .4 1 .4 1 .4 1 .3 1 .2 1 0 1 0 1 .1 1 .1 1 .1 1 0 1 0 1-.1 1-.2 1 0 1 .1 1 .1 1 .1 1 .2 1 .2 1 .1 1 .1 1 .1 1 0 1 .1 1 .1 1 .1 1 .1 1 .1 1 0 1 .1 1-.1 1 .1 1-.1 1 0 1 0"/>
<path d="M20.3 135.2l1 0 1 .5 1 .5 1 .4 1 .2 1 .1 1-.1 1-.3 1-.4 1-.4 1-.3 1-.2 1 0 1 .1 1 .1 1 .1 1 0 1-.1 1-.1 1 .1 1 .2 1 .4 1 .5 1 .5 1 .6 1 .6 1 .4 1 .2 1 .1 1 0 1-.2 1-.2 1-.2 1-.2 1-.2 1-.1 1 0 1 .1 1 .3 1 .2 1 .1 1 0 1 0 1 0 1 .2 1 .3 1 .3 1 .4 1 .2 1 .1 1 .1 1 0 1 .1 1 .2 1 .2 1 0 1-.1 1-.3 1-.3 1-.2 1 .1 1 .2 1 .4 1 .5 1 .4 1 .4 1 .3 1 .2 1 0 1 0 1-.1 1-.1 1-.2 1-.2 1-.2 1-.2 1-.2 1-.1 1-.1 1 .1 1 0 1 .1 1 .1 1 .1 1 .3 1 .4 1 .5 1 .5 1 .4 1 .3 1 0 1-.2 1-.4 1-.6 1-.5 1-.6 1-.5 1-.5 1-.4 1-.6 1-.4 1-.3 1 .1 1 .5 1 .4 1 0 1-.2 1 .1 1 .3 1 .3 1 .6 1 0 1-.5 1-.7 1-.9 1-.7 1 0 1 .7 1 2.3 1 3.6 1 4.5 1 3.5 1 2.2 1 .9 1-.3 1-1.7 1-3.2 1-4 1-4 1-3.2 1-2.3 1-1.8 1-1.2 1-.6 1 0 1 .2 1 .6 1 1.3 1 1.2 1 1.3 1 1.4 1 .7 1 .1 1-.8 1-.9 1-1.2 1 .1 1 1.4 1 1.2 1 .2 1 .2 1 .6 1 .4 1 1.2 1 .7 1 .5 1 .2 1 .6 1-.3 1 1.3 1 1.8 1 1.4 1 1.2 1 1.4 1 1.7 1 1.9 1 2.6 1 2 1 1.4 1 .1 1-1.7 1-2.2 1-2.8 1-2.8 1-1.6 1-1 1-.5 1 .2 1 .5 1 .7 1 .6 1 .4 1-.1 1-.5 1-.5 1-.6 1-1.1 1-1.6 1-1.9 1-1.9 1-2 1-1.5 1-.8 1 0 1 .5 1 .8 1 1.1 1 .9 1 1 1 .6 1 1 1 1.4 1 1.7 1 1.7 1 1.7 1 1.7 1 1.6 1 1.9 1 2.1 1 2.5 1 2.7 1 2.5 1 2.2 1 1.7 1 1.6 1 1.8 1 1.9 1 1.9 1 1.8 1 1.6 1 1.2 1 .8 1 .5 1 .2 1 .1 1-.1 1 0 1-.1 1-.2 1-.4 1-.8 1-1 1-1.3 1-1.7 1-1.8 1-1.9 1-2 1-1.7 1-1.5 1-1.6 1-1.7 1-2.4 1-3.3 1-2.6 1-2.2 1-2 1-1.6 1-.5 1 .3 1 .3 1 .4 1 .5 1 .8 1 .8 1 .9 1 .6 1 .7 1 .9 1 .9 1 .7 1 .2 1 .1 1 0 1 .1 1 0 1-.1 1-.2 1-.3 1-.4 1-.4 1-.4 1-.5 1-.5 1-.8 1-.8 1-.9 1-.9 1-1 1-1 1-.6 1 .1 1 .3 1 .2 1 .1 1 .1 1 .1 1 .2 1 .1 1 .1 1 .2 1 .4 1 .7 1 .9 1 1.2 1 1.3 1 1.5 1 1.4 1 1.3 1 1 1 1 1 1.2 1 1.2 1 1.2 1 1.2 1 1.2 1 1.2 1 1.2 1 1.1 1 1 1 .9 1 1 1 .7 1 .6 1 .6 1 .8 1 .9 1 1 1 1.2 1 1 1 .9 1 .9 1 .7 1-.1 1-.4 1-.5 1-1.2 1-1.4 1-1.4 1-1.1 1-.7 1-.4 1-.6 1-.5 1-.7 1-.8 1-.9 1-.9 1-.7 1-.6 1-.4 1-.2 1-.1 1-.1 1 0 1 .2 1 .3 1 .1 1 .3 1 .2 1 .1 1-.2 1-.4 1-.6 1-.7 1-.9 1-1.1 1-1.1 1-.8 1-.7 1-.7 1-.8 1-.8 1-.8 1-1.3 1-1.6 1-1.6 1-1.1 1-.4 1 .3 1 .7 1 .4 1 0 1-.5 1-.9 1-1 1-1.2 1-1.2 1-1 1-.7 1-.6 1-.7 1-.8 1-1 1-1 1-.9 1-.7 1-.3 1-.2 1-.3 1-.5 1-.5 1-.6 1-.8 1-.7 1-.5 1-.5 1-.3 1-.3 1-.4 1-.4 1-.5 1-.5 1-.4 1-.4 1-.3 1-.4 1-.4 1-.5 1-.5 1-.5 1-.4 1-.3 1-.1 1 .1 1 .3 1 .4 1 .3 1 .1 1-.2 1-.3 1-.5 1-.4 1-.4 1-.3 1-.1 1 0 1 .1 1 .2 1 .3 1 .3 1 .3 1 .3 1 .1 1-.2 1-.1 1 .2 1 .6 1 .8 1 .8 1 .7 1 .5 1 .3 1 .3 1 .4 1 .4 1 .5 1 .3 1 .3 1 .1 1 .2 1 .1 1 .2 1 .1 1 .1 1-.1 1 0 1 .1 1 0 1 0 1 .1 1 .1 1 .3 1 .4 1 .6 1 .5 1 .4 1 .1 1 .1 1 0 1 .3 1 .5 1 .7 1 .8 1 .9 1 .8 1 .6 1 .6 1 .4 1 .3 1 .1 1 0 1-.1 1 .1 1 .2 1 .5 1 .8 1 .8 1 .8 1 .6 1 .4 1 .1 1 .1 1 0 1 .1 1-.1 1 0 1-.2 1-.2 1-.2 1-.2 1-.2 1-.2 1-.2 1-.5 1-.7 1-.6 1-.7 1-.5 1-.4 1-.2 1-.1 1-.1 1-.2 1-.4 1-.4 1-.4 1-.4 1-.5 1-.6 1-.6 1-.5 1-.3 1-.2"/>
<path d="M20.3 135.6l1 0 1 0 1 .1 1 0 1-.1 1-.2 1-.4 1-.4 1-.3 1-.4 1-.2 1-.2 1-.2 1-.2 1-.1 1-.2 1-.2 1-.1 1 0 1 .1 1 .3 1 .4 1 .4 1 .4 1 .4 1 .3 1 .1 1 0 1-.1 1-.3 1-.4 1-.4 1-.4 1-.3 1-.2 1-.2 1-.1 1-.2 1-.2 1-.1 1-.1 1-.1 1 0 1 0 1 .1 1 0 1 0 1-.3 1-.4 1-.4 1-.4 1-.4 1-.1 1-.1 1 0 1 0 1-.1 1-.1 1-.1 1 0 1 0 1 .1 1 .1 1 .1 1 0 1 0 1 0 1-.2 1-.3 1-.5 1-.4 1-.3 1-.1 1 0 1 0 1-.1 1-.2 1-.4 1-.5 1-.4 1-.3 1 0 1 .1 1 .4 1 .6 1 .7 1 .8 1 .7 1 .4 1 .2 1 0 1-.1 1-.1 1-.2 1-.2 1-.3 1-.4 1-.6 1-.9 1-2 1-2.3 1-2.1 1-.9 1 .5 1 .9 1 .4 1 .4 1 1.1 1 1.1 1 1.4 1 1.9 1 1.2 1 1 1 .9 1 .6 1 .5 1 .8 1 .7 1 1.5 1 2 1 2.9 1 2.4 1 1.7 1 1.2 1 .6 1-.1 1-1 1-1.6 1-1.7 1-1 1-.4 1-.1 1 0 1 .4 1 .3 1 0 1-.2 1 0 1-.5 1-.6 1-.4 1-.8 1-1 1-1.6 1-1.6 1-1.8 1-.4 1 .6 1 .2 1-.7 1-.6 1-.1 1-.1 1 1.2 1 .8 1 .4 1 .1 1 .5 1-1.1 1-.6 1-.3 1-.9 1-1 1-.5 1-.1 1 .2 1 .8 1 .4 1 .4 1 .4 1 .5 1 .6 1 .3 1 .5 1 .4 1-.4 1-.9 1-1 1-1.5 1-1.6 1-1.1 1-.4 1 .1 1 .7 1 1.8 1 2.3 1 2.5 1 2.2 1 2.2 1 2 1 1.9 1 1.7 1 1.7 1 1.7 1 1.8 1 1.8 1 1.6 1 1.2 1 .9 1 .4 1 .4 1 .5 1 .4 1 .2 1 .2 1 .1 1 0 1-.1 1-.1 1 0 1 .1 1 .3 1 .3 1 .2 1 .3 1 .3 1 .2 1 0 1-.1 1-.1 1-.2 1-.1 1-.2 1-.5 1-.8 1-1.1 1-1.1 1-1 1-.9 1-.8 1-.4 1-.1 1 .2 1 .2 1 .3 1 .2 1 0 1-.1 1 0 1 0 1 0 1-.6 1-1.2 1-.7 1-.4 1-.4 1-.1 1 .9 1 1.6 1 1.4 1 1.4 1 1.7 1 2 1 2.4 1 2.6 1 2.4 1 2.5 1 2.9 1 2.9 1 2.8 1 2.5 1 2.3 1 2.2 1 2 1 1.8 1 1.6 1 1.4 1 1.2 1 1 1 .8 1 .7 1 .5 1 .6 1 .5 1 .5 1 .7 1 .6 1 .3 1 0 1-.2 1-.3 1-.3 1-.9 1-1.1 1-1.1 1-1.3 1-1.4 1-1.6 1-1.8 1-1.8 1-1.6 1-1.5 1-1.4 1-1.5 1-1.4 1-1.4 1-1.4 1-1.4 1-1.3 1-1.3 1-1.1 1-1.1 1-1.2 1-1.1 1-1 1-.9 1-.8 1-.9 1-.9 1-.8 1-.7 1-.6 1-.7 1-.7 1-.7 1-.6 1-.5 1-.4 1-.3 1-.2 1 0 1-.1 1-.6 1-.5 1-.4 1-.7 1-.8 1-.8 1-.7 1-.3 1 .1 1 .4 1 .7 1 .9 1 1 1 .9 1 .9 1 .8 1 .9 1 .9 1 1 1 1 1 .8 1 .6 1 .5 1 .3 1-.1 1-.1 1-.1 1-.1 1 0 1-.1 1-.1 1-.1 1-.3 1-.7 1-.6 1-.7 1-.8 1-1 1-1.4 1-1.5 1-1.5 1-1.7 1-1.9 1-1.6 1-1.1 1-.3 1 .2 1 .4 1 .1 1-.2 1-.5 1-.7 1-.8 1-.9 1-1 1-1 1-.8 1-.8 1-.6 1-.6 1-.5 1-.4 1-.5 1-.4 1-.2 1-.2 1-.4 1-.4 1-.4 1-.4 1-.3 1-.3 1-.2 1-.2 1-.4 1-.3 1-.4 1-.3 1 0 1 .1 1 .3 1 .3 1 .4 1 .2 1 0 1-.2 1-.2 1-.2 1 0 1 .4 1 .5 1 .8 1 .7 1 .6 1 .4 1 .3 1 .1 1 0 1 0 1 .1 1 .1 1 .3 1 .3 1 .3 1 .3 1 .1 1 0 1-.2 1-.1 1-.2 1-.3 1-.5 1-.6 1-.4 1 0 1 .1 1 .2 1 .3 1 .3 1 .5 1 .4 1 .4 1 .4 1 .3 1 .2 1 .1 1-.1 1-.1 1-.2 1-.3 1-.4 1-.5 1-.5 1-.5 1-.4 1-.5 1-.4 1-.4 1-.4 1-.3 1-.2 1-.1 1-.1 1-.1 1-.2 1-.2 1-.2 1-.1 1-.1 1 0 1-.1 1-.2 1-.4 1-.5 1-.7 1-.6 1-.6 1-.6 1-.6 1-.6 1-.7 1-.7 1-.6 1-.6 1-.4 1-.2 1-.2 1 0 1-.1 1-.1 1-.3 1-.4 1-.5 1-.6 1-.5 1-.6 1-.6 1-.7 1-.5 1-.4 1-.3 1-.2 1-.3 1-.2 1-.3 1-.3 1-.2 1-.2 1 0 1 0 1 0 1 0 1 .1 1 .3 1 .5 1 .6 1 .8 1 .8 1 .7 1 .7 1 .6"/>
<path d="M20.3 136.9l1 .6 1 .5 1 .5 1 .2 1 .1 1 0 1-.3 1-.3 1-.5 1-.5 1-.3 1-.3 1-.3 1-.4 1-.4 1-.3 1-.2 1 0 1 .1 1 .2 1 .2 1 .3 1 .4 1 .3 1 .1 1-.1 1-.4 1-.7 1-.9 1-.9 1-.7 1-.6 1-.5 1-.4 1-.3 1-.4 1-.3 1-.3 1-.3 1-.2 1-.3 1-.1 1 0 1 .1 1 .3 1 .4 1 .4 1 .2 1 .1 1-.2 1-.5 1-.6 1-.7 1-.7 1-.5 1-.4 1-.4 1-.3 1-.1 1 0 1 .1 1 .4 1 .5 1 .7 1 .7 1 .6 1 .4 1 .1 1-.1 1-.2 1-.2 1-.2 1-.1 1-.2 1-.3 1-.3 1-.2 1-.1 1 .1 1 .3 1 .3 1 .4 1 .5 1 .5 1 .6 1 .8 1 .7 1 .7 1 .6 1 .5 1 .3 1 .1 1 0 1-.1 1-.2 1-.6 1-.8 1-1 1-1.1 1-1.8 1-1.8 1-1.5 1-.4 1 .6 1 .7 1-.2 1-.3 1 0 1-.1 1-.1 1 .2 1-.6 1-.7 1-.4 1-.1 1 .6 1 1.8 1 2.3 1 3.2 1 2.8 1 3.3 1 2.2 1 1.4 1 .4 1-.4 1-1.6 1-2.7 1-3.3 1-3.3 1-2.6 1-1.8 1-1 1-.2 1 .8 1 1.6 1 1.6 1 1.8 1 1.9 1 1 1 .4 1 .2 1-1 1-1.8 1-3.3 1-3.6 1-4 1-2.1 1-.6 1-.2 1-.2 1 .7 1 1.8 1 2.3 1 4 1 3.9 1 3.5 1 3.2 1 3.2 1 1.2 1 1.8 1 1.7 1 .7 1 .1 1 .2 1 .2 1 .2 1 .8 1 .3 1 0 1-.6 1-1.5 1-1.5 1-1.5 1-1 1 .1 1 .5 1 .8 1 1.1 1 .7 1 .2 1-.5 1-1.1 1-1.5 1-1.7 1-1.1 1-.6 1-.5 1-.5 1-.3 1-.2 1 .2 1 .3 1 .8 1 1 1 .9 1 .7 1 .5 1 .2 1-.2 1-.5 1-.5 1-.3 1-.1 1-.3 1-.3 1-.2 1-.3 1-.3 1-.3 1-.2 1 0 1 .3 1 .4 1 .4 1 .5 1 .5 1 .4 1 .4 1 .5 1 .6 1 .7 1 .8 1 .8 1 .8 1 .8 1 1.1 1 1.5 1 2 1 2.2 1 2.1 1 2.1 1 1.9 1 1.6 1 1.1 1 .8 1 .3 1-.2 1-.6 1-.8 1-1.1 1-1.4 1-2.2 1-2.9 1-2.5 1-2.1 1-2.2 1-2 1-.8 1-.4 1-.7 1-1.1 1-.9 1-.8 1-.8 1-.8 1-1 1-.7 1-.6 1-.3 1-.2 1-.6 1-.4 1-.3 1-.3 1-.2 1-.3 1-.2 1-.2 1-.3 1-.2 1 0 1 .1 1 .3 1 .3 1 .2 1-.1 1-.3 1-.8 1-1 1-.9 1-.1 1-.1 1-.1 1 .1 1 .3 1 .3 1 .3 1 .1 1 0 1-.2 1-.3 1-.3 1-.4 1-.4 1-.3 1-.3 1-.2 1-.1 1 0 1 .2 1 .5 1 .6 1 .7 1 .7 1 .5 1 .3 1 .2 1 0 1-.2 1 0 1 0 1 0 1 .1 1 0 1 .1 1 .2 1 .3 1 .3 1 .4 1 .4 1 .5 1 .4 1 .3 1 .2 1 .3 1-.1 1-.2 1-.3 1-.2 1 .2 1 .6 1 .8 1 1.1 1 1.2 1 1.2 1 1.2 1 1.2 1 1.1 1 1.2 1 1.3 1 1.4 1 1.7 1 1.9 1 2.2 1 2.7 1 2.7 1 2.6 1 2.5 1 2.4 1 2.2 1 1.6 1 1.2 1 .8 1 .5 1 .3 1 .1 1 .1 1 .2 1 .1 1-.1 1-.7 1-.9 1-1.2 1-1.6 1-2 1-1.6 1-1.1 1-.1 1 .3 1 .4 1-.2 1-.7 1-1.3 1-1.7 1-1.7 1-1.7 1-1.9 1-1.6 1-1.3 1-1 1-1 1-.7 1-.6 1-.6 1-.5 1-.4 1 0 1 .1 1 .2 1 .1 1 0 1-.1 1-.3 1-.5 1-.6 1-.7 1-.6 1-.4 1-.3 1-.5 1-.5 1-.7 1-.7 1-.8 1-.7 1-.7 1-.5 1-.6 1-.5 1-.6 1-.7 1-1 1-1 1-1.1 1-1 1-1 1-1 1-.9 1-.9 1-.9 1-.6 1-.6 1-.3 1-.3 1-.3 1-.3 1-.3 1-.1 1 .1 1 .1 1 .3 1 .4 1 .2 1 .2 1 .1 1 .2 1 .3 1 .3 1 .4 1 .3 1 .3 1 .5 1 .6 1 .8 1 .8 1 .6 1 .2 1-.1 1-.4 1-.5 1-.3 1-.3 1-.3 1-.4 1-.3 1-.3 1-.2 1-.1 1-.1 1-.2 1-.2 1-.5 1-.6 1-.5 1-.4 1-.3 1-.1 1 0 1 .1 1 0 1 .2 1 0 1 0 1-.2 1-.4 1-.6 1-.7 1-.4 1-.1 1 0 1 .2 1 .3 1 .2 1 .1 1 .1 1 0 1 0 1 0 1 0 1 0 1 .2 1 .4 1 .5 1 .6 1 .6 1 .5 1 .4 1 .3 1 0 1 0 1 0 1 0 1 .1 1-.1 1-.1 1-.1 1-.1 1-.1 1-.1 1-.1 1 .1 1 .3 1 .4 1 .7 1 .7 1 .6 1 .6 1 .3 1 .3 1 .3 1 .4 1 .4 1 .4"/>
<path d="M20.3 137.3l1 0 1-.1 1-.1 1 0 1 .3 1 .4 1 .3 1 .3 1 .1 1 0 1 .1 1 .2 1 .2 1 .2 1 .2 1 .1 1 0 1-.2 1-.1 1-.1 1 .1 1 .4 1 .4 1 .4 1 .3 1 .1 1-.1 1-.2 1-.2 1 .1 1 .2 1 .4 1 .5 1 .3 1 0 1-.2 1-.4 1-.5 1-.5 1-.3 1-.3 1-.1 1-.2 1-.1 1-.1 1 .1 1 .1 1 .1 1 0 1 .1 1 0 1 .1 1 .1 1 .3 1 .3 1 .2 1 .1 1-.1 1-.4 1-.7 1-.7 1-.6 1-.5 1-.2 1 .1 1 .2 1 .3 1 .1 1 0 1-.2 1-.3 1-.3 1-.2 1-.2 1-.1 1 0 1 0 1 0 1 0 1 .1 1 0 1 0 1 0 1-.1 1 0 1 .1 1 .2 1 .4 1 .4 1 .6 1 .5 1 .4 1 .2 1 .2 1 0 1-.2 1-.4 1-.7 1-.8 1-1.5 1-1.4 1-1.3 1-.5 1 .1 1 .3 1-.1 1-.1 1 .6 1 .8 1 .6 1 .2 1-.9 1-1.8 1-2.1 1-1.8 1-1 1 .4 1 1.7 1 4 1 5 1 5.8 1 4.7 1 3.3 1 1.9 1 .4 1-1.1 1-3 1-4.2 1-4.6 1-4.3 1-3.7 1-3.2 1-2.6 1-1.7 1-.9 1-.3 1 .4 1 1.4 1 1.5 1 1.6 1 1.7 1 .6 1-.3 1-1.9 1-2.6 1-3.3 1-2 1-1 1-1.3 1-1.6 1-1.3 1-.4 1-.1 1 1.9 1 2 1 2.2 1 2.5 1 3.4 1 2.3 1 3 1 3.4 1 2.7 1 2.1 1 1.9 1 1.5 1 .9 1 .4 1-.9 1-1.9 1-2.7 1-3.4 1-3.3 1-3.3 1-2.4 1-1.4 1-.9 1-.4 1 .4 1 .5 1 .7 1 .7 1 .7 1 .1 1-.3 1 0 1-.1 1-.5 1-.9 1-1.1 1-1 1-.7 1-.5 1 .2 1 .7 1 .9 1 .8 1 1 1 .8 1 .8 1 .4 1 .3 1 .2 1-.1 1-.4 1-.7 1-.8 1-.9 1-1 1-1.1 1-1.1 1-1.1 1-1.2 1-1.2 1-1.1 1-.9 1-.8 1-.7 1-.7 1-.9 1-.9 1-1 1-.9 1-1 1-.9 1-.8 1-.7 1-.1 1 .2 1 .5 1 .5 1 .6 1 1 1 1.6 1 1.6 1 2.1 1 2.3 1 2.3 1 2.3 1 2.3 1 2.4 1 2.4 1 2.1 1 1.7 1 1.8 1 1.5 1 .9 1 1 1 2 1 2.4 1 2 1 1.8 1 1.9 1 2 1 2.1 1 2.3 1 1.9 1 2 1 2.3 1 2.3 1 2.1 1 1.7 1 1.5 1 1.2 1 .9 1 .6 1 .2 1 0 1-.1 1-.2 1-.3 1-.3 1-.4 1-.3 1-.4 1-.2 1-.2 1-.3 1-.5 1-1 1-1 1-.7 1-.5 1-.8 1-.6 1-.4 1-.3 1-.1 1 0 1-.1 1-.2 1-.2 1-.3 1-.5 1-.8 1-1 1-1.2 1-1.2 1-1.3 1-1.1 1-.6 1-.1 1-.1 1 0 1-.1 1 0 1 0 1 0 1 0 1 .1 1 .1 1 .3 1 .4 1 .4 1 .4 1 .2 1 0 1 .1 1 .2 1 .2 1 .4 1 .6 1 .4 1-.1 1-.4 1-.4 1-.8 1-.9 1-.9 1-.7 1-.4 1 0 1 .1 1 .2 1 .3 1 .2 1 0 1 0 1-.2 1-.2 1-.1 1-.1 1 0 1 .2 1 .3 1 .3 1 .2 1-.1 1 0 1 .1 1 0 1-.1 1-.3 1-.4 1-.6 1-.7 1-1 1-1 1-.8 1-.9 1-1 1-1.2 1-1.3 1-1.2 1-1.4 1-1.5 1-1.5 1-1.2 1-.9 1-.6 1-.4 1-.6 1-.6 1-.6 1-.6 1-.4 1-.3 1-.3 1-.3 1 0 1 .1 1 .4 1 .5 1 .9 1 1 1 1.1 1 1.1 1 1 1 1 1 .6 1 .4 1 .3 1 .1 1 0 1 .1 1 .1 1 .1 1 .3 1 .4 1 .3 1 .2 1 .1 1 0 1-.1 1-.1 1-.1 1-.1 1-.3 1-.3 1-.5 1-.5 1-.6 1-.6 1-.5 1-.4 1-.4 1-.3 1-.4 1-.5 1-.6 1-.6 1-.7 1-.6 1-.6 1-.4 1-.5 1-.6 1-.7 1-.7 1-.6 1-.4 1-.1 1 .1 1 0 1-.1 1-.3 1-.3 1-.2 1-.3 1-.1 1 0 1 .2 1 .3 1 .4 1 .4 1 .4 1 .2 1 0 1-.3 1-.3 1-.1 1 0 1 .1 1 0 1-.1 1-.2 1-.2 1-.3 1-.4 1-.5 1-.6 1-.4 1-.4 1-.3 1-.3 1-.3 1-.3 1-.4 1-.5 1-.3 1-.2 1-.1 1 .3 1 .4 1 .6 1 .5 1 .3 1 0 1 0 1 0 1 .2 1 .3 1 .6 1 .7 1 .6 1 .7 1 .7 1 .8 1 .8 1 .9 1 .8 1 .7 1 .7 1 .5 1 .6 1 .7 1 .6 1 .6 1 .3 1 .2 1 0 1 .2 1 .3 1 .5 1 .4 1 .4 1 .2 1 0 1-.1 1-.2 1 0 1 .1 1 .1 1 .3 1 .3 1 .2 1 .1 1 .1 1-.1 1-.2 1-.2 1-.1 1-.1 1-.1"/>
<path d="M20.3 142.5l1 .2 1 .3 1 .3 1 .3 1 .3 1 .2 1 .1 1 0 1-.1 1-.1 1-.1 1 0 1 .2 1 .3 1 .3 1 .2 1 0 1-.2 1-.3 1-.3 1-.1 1 .2 1 .1 1 .2 1 .1 1 0 1 0 1-.1 1 0 1-.1 1 0 1 0 1 .1 1 .3 1 .5 1 .4 1 .4 1 .2 1 0 1-.3 1-.5 1-.6 1-.6 1-.6 1-.3 1-.2 1-.1 1 0 1 .1 1 .1 1 .1 1 .2 1 .3 1 .2 1 .2 1 0 1 0 1 0 1-.1 1 0 1-.1 1-.1 1-.2 1-.3 1-.3 1-.3 1-.3 1-.2 1 0 1 .1 1 .3 1 .2 1 .2 1 .1 1 .2 1 .1 1 0 1 0 1-.1 1-.1 1 0 1 0 1 0 1 .1 1 .2 1 .3 1 .4 1 .4 1 .3 1 .3 1 .3 1 .3 1 .3 1 .2 1 .2 1 .2 1 .2 1 .2 1 .2 1 .2 1 .3 1 .4 1 .7 1 .7 1 .7 1 .9 1 1.1 1 1.3 1 1.6 1 1.2 1 1.7 1 1.3 1 .4 1 0 1-.1 1 .2 1 0 1-.3 1 1.3 1 4.6 1 6 1 4.5 1 3 1 .1 1-.9 1-2 1-3.8 1-5.4 1-5.6 1-4 1-2.5 1-1.4 1-1 1-.2 1 .1 1-.3 1-.5 1 .4 1 1 1 1.6 1 2 1 2.2 1 2.5 1 2.7 1 2.5 1 2.2 1 1.9 1 2 1 .5 1-2.2 1-3.2 1-3.1 1-3.5 1-3.1 1-3.2 1-3.3 1-3.5 1-2.8 1-3.5 1-2 1-1 1-1.1 1-.7 1 0 1 .6 1 .9 1 1.6 1 1.1 1 .8 1 .3 1-.2 1-.3 1-.9 1-.8 1-.3 1-.6 1-.4 1 0 1-.2 1 0 1 .3 1 .8 1 1.2 1 1.8 1 2.7 1 3.3 1 3.4 1 3.1 1 2.8 1 2.6 1 2.2 1 1.9 1 1.9 1 1.8 1 2 1 2.2 1 2.2 1 2 1 2 1 1.8 1 1.9 1 2.1 1 1.9 1 1.6 1 1.4 1 1.5 1 1.4 1 1.3 1 1.2 1 1 1 1 1 .9 1 1 1 .8 1 .8 1 .6 1 .4 1 .2 1 0 1-.1 1-.3 1-.3 1-.5 1-.5 1-.6 1-.7 1-.7 1-.9 1-1 1-1.3 1-1.3 1-1.4 1-1.6 1-1.8 1-2.1 1-2.5 1-3 1-3 1-2.9 1-3 1-2.9 1-3.4 1-4.7 1-3.9 1-3.4 1-3.4 1-3.5 1-2.4 1-2 1-2.7 1-3.1 1-3 1-3 1-2.9 1-2.9 1-3 1-2.6 1-2.3 1-2 1-1.9 1-2.3 1-2.2 1-2.2 1-2 1-1.9 1-1.8 1-1.7 1-1.6 1-1.5 1-1.3 1-1.2 1-1.1 1-1.1 1-1 1-1 1-.8 1-.9 1-.9 1-.9 1-.9 1-.7 1-.6 1-.6 1-.6 1-.4 1-.5 1-.4 1-.5 1-.5 1-.5 1-.3 1-.1 1 0 1 .1 1-.1 1-.1 1-.3 1-.2 1-.2 1-.1 1 0 1 .1 1 .2 1 .1 1 .1 1 0 1-.1 1-.1 1-.1 1-.1 1 .1 1 .2 1 .3 1 .3 1 .1 1 .1 1-.1 1 0 1 0 1 .2 1 .4 1 .5 1 .7 1 .7 1 .7 1 .7 1 .6 1 .6 1 .6 1 1.1 1 1.5 1 1.7 1 1.9 1 2 1 2.1 1 2.2 1 2.4 1 2.4 1 2.5 1 2.5 1 2.6 1 2.6 1 2.7 1 2.7 1 2.6 1 2.6 1 2.3 1 2.2 1 2.3 1 2.1 1 1.9 1 1.7 1 1.6 1 1.5 1 1.2 1 .9 1 1.2 1 1.4 1 1.6 1 1.7 1 1.5 1 1.3 1 1 1 .1 1-.4 1-.8 1-.5 1 .1 1 .5 1 .6 1 .3 1-.2 1-.7 1-1.2 1-1.3 1-1.7 1-1.8 1-1.8 1-1.6 1-1.3 1-1.2 1-1 1-1 1-.8 1-.8 1-.8 1-.5 1-.5 1-.6 1-.7 1-.5 1-.6 1-1 1-1.2 1-1.2 1-1.4 1-1.4 1-1.2 1-.9 1-.6 1-.4 1-.3 1-.2 1-.1 1 .2 1 .2 1 .2 1 .3 1 .3 1 .2 1 .2 1 .3 1 .4 1 .7 1 .8 1 .7 1 .8 1 .6 1 .6 1 .5 1 .3 1 .3 1 .2 1 .2 1 .3 1 .4 1 .6 1 .6 1 .7 1 .7 1 .7 1 .7 1 .5 1 .3 1 .1 1 .2 1 .2 1 .1 1 .1 1 .2 1 .4 1 .5 1 .7 1 .7 1 .7 1 .4 1 .2 1 0 1-.1 1-.2 1-.2 1-.2 1-.2 1-.3 1-.2 1-.2 1-.1 1-.2 1-.3 1-.3 1-.4 1-.4 1-.6 1-.7 1-.5 1-.5 1-.5 1-.4 1-.3 1-.4 1-.3 1-.3 1-.3 1-.3 1-.4 1-.5 1-.5 1-.6 1-.6 1-.5 1-.6 1-.5 1-.6 1-.6 1-.6 1-.7 1-.7 1-.6 1-.5 1-.4 1-.2 1-.1 1 0 1-.2 1-.3 1-.4 1-.7 1-.7 1-.8 1-.7 1-.5 1-.1 1 .1 1 0 1 0 1 0 1 0 1 0 1 0 1 0 1 0 1 0 1 .2 1 .2 1 .4 1 .4 1 .5 1 .4 1 .3 1 .4 1 .3 1 .4 1 .5"/>
<path d="M20.3 134.3l1 .3 1 .1 1 0 1-.1 1-.2 1-.2 1-.3 1-.3 1-.4 1-.5 1-.6 1-.6 1-.5 1-.5 1-.3 1-.2 1-.2 1 0 1 0 1 .1 1 .3 1 .4 1 .5 1 .6 1 .4 1 .3 1 0 1-.3 1-.6 1-.8 1-.9 1-1 1-.8 1-.7 1-.5 1-.4 1-.2 1-.1 1 .1 1 .3 1 .4 1 .4 1 .2 1 .1 1-.1 1-.1 1-.2 1-.2 1-.4 1-.3 1-.5 1-.4 1-.3 1-.2 1-.1 1-.1 1-.2 1-.1 1-.1 1 0 1 .2 1 .3 1 .6 1 .5 1 .6 1 .3 1 .2 1-.2 1-.5 1-.6 1-.6 1-.6 1-.4 1-.4 1-.4 1-.4 1-.2 1-.2 1 .1 1 .3 1 .6 1 .8 1 .9 1 .8 1 .5 1 .5 1 .4 1 .3 1 .3 1 .3 1 .3 1 .1 1-.1 1-.1 1-.2 1-.5 1-.6 1-.8 1-1 1-2 1-2.1 1-1.9 1-.5 1 .8 1 1 1 0 1-.1 1 .4 1 .9 1 1.3 1 1.9 1 1.1 1 .6 1 .2 1-.5 1-.7 1-.4 1-.2 1 1.2 1 1.5 1 2.6 1 2.5 1 2.2 1 2.1 1 1.8 1 1.3 1 .3 1-.5 1-.9 1-.9 1-.7 1-1 1-1.3 1-1.2 1-1.3 1-1.6 1-1.7 1-1.4 1-1.9 1-2 1-1.7 1-2.3 1-2.6 1-3.6 1-3.2 1-3.3 1-.9 1 .4 1 .5 1 .5 1 .9 1 1.5 1 1.7 1 3.3 1 2.8 1 2.1 1 1.6 1 1.8 1-.1 1 .1 1 .7 1 .6 1 .8 1 1.3 1 1.9 1 2.2 1 2.7 1 2.1 1 1.7 1 1 1 .1 1-.6 1-1.5 1-1.9 1-2 1-2.7 1-2.9 1-2.7 1-2.8 1-2.8 1-2.2 1-1.6 1-1.5 1-1.3 1-.6 1-.3 1-.5 1-1.2 1-1.5 1-1.8 1-2 1-2.4 1-2.4 1-2.3 1-1.8 1-1.3 1-1.2 1-1.1 1-1.3 1-1.5 1-1.8 1-2.1 1-2.2 1-2.2 1-2.1 1-2 1-2 1-2.1 1-2.1 1-2 1-1.8 1-1.7 1-1.5 1-1.4 1-1.1 1-.7 1-.5 1-.5 1-.4 1-.2 1 .1 1 .4 1 .7 1 .9 1 1 1 1.3 1 1.8 1 2.4 1 2.8 1 3 1 3.7 1 4.1 1 4.7 1 4.4 1 4.5 1 4.4 1 4 1 3.5 1 3.4 1 3.2 1 3.1 1 2.6 1 2.4 1 2.1 1 1.4 1 .6 1 .2 1 1.1 1 .9 1-.1 1-.6 1-.4 1-.3 1-.2 1-.2 1-.2 1 .2 1 .3 1 .7 1 .9 1 .6 1 1.1 1 1.4 1 1.5 1 1.5 1 1.3 1 1.3 1 1.1 1 1 1 .9 1 .7 1 .5 1 .5 1 .5 1 .5 1 .5 1 .4 1 .1 1-.1 1-.1 1 .3 1 .3 1 0 1-.1 1-.2 1-.3 1-.4 1-.4 1-.3 1-.4 1-.4 1-.4 1-.4 1-.6 1-.5 1-.5 1-.7 1-.9 1-1 1-1.2 1-1 1-1 1-.8 1-.7 1-.6 1-.4 1-.4 1-.5 1-.5 1-.4 1-.4 1-.2 1-.1 1 0 1-.1 1-.1 1-.1 1 0 1-.1 1 .1 1 .3 1 .2 1 0 1-.1 1 0 1-.2 1-.3 1-.1 1 0 1 .5 1 1.2 1 1.3 1 1.4 1 1.4 1 1.3 1 1.2 1 1.2 1 1.2 1 1.1 1 1.2 1 1.1 1 1.2 1 1.2 1 1.2 1 1.4 1 1.5 1 1.3 1 1.4 1 1.5 1 1.3 1 1.1 1 1.1 1 1 1 .9 1 .6 1 .2 1 .1 1 0 1 0 1-.2 1-.6 1-.6 1-.8 1-1.1 1-1.4 1-1.4 1-1 1-.4 1 .1 1 .2 1 0 1-.1 1-.5 1-.7 1-.5 1-.5 1-.5 1-.4 1-.2 1-.1 1-.1 1-.1 1-.2 1-.2 1-.3 1-.1 1 0 1 .3 1 .3 1 .3 1 .2 1 .4 1 .4 1 .4 1 .6 1 .7 1 .9 1 .8 1 .6 1 .3 1 .3 1 .2 1 .3 1 .2 1 .3 1 .2 1 .1 1 0 1-.2 1-.2 1-.1 1-.1 1 .1 1 .1 1 .1 1 0 1-.1 1-.1 1-.2 1-.1 1-.2 1-.3 1-.3 1-.3 1-.4 1-.3 1-.4 1-.4 1-.3 1-.3 1-.2 1-.2 1-.4 1-.9 1-1.1 1-.8 1-.3 1-.3 1 0 1 .3 1 .4 1 .5 1 .5 1 .2 1 0 1-.3 1-.4 1-.6 1-.6 1-.6 1-.4 1-.3 1-.2 1-.2 1-.1 1 0 1-.1 1-.1 1 0 1 0 1 .1 1 .3 1 .4 1 .4 1 .4 1 .3 1 .3 1 .2 1 .2 1 .3 1 .3 1 .4 1 .5 1 .4 1 .5 1 .4 1 .3 1 .3 1 .3 1 .3 1 .3 1 .2 1 .3 1 .3 1 .3 1 .3 1 .3 1 .3 1 .3 1 .3 1 .3 1 .4 1 .3 1 .3 1 .2 1 0 1-.1 1-.2 1 0 1 0 1 .2 1 .3 1 .4 1 .2 1 .1 1 .1 1 .1 1-.1 1-.1 1-.3 1-.3 1-.4 1-.3 1-.2 1-.1 1 0 1 .1 1 0 1 0 1-.1 1-.1 1-.3 1-.5"/>
<path d="M20.3 141.4l1 0 1 0 1 .2 1 .3 1 .4 1 .4 1 .3 1 .1 1 .1 1 0 1 .1 1 .3 1 .3 1 .2 1 .2 1 .1 1-.2 1-.5 1-.6 1-.6 1-.6 1-.3 1-.2 1-.1 1 0 1 0 1 .1 1 .4 1 .4 1 .6 1 .4 1 .3 1 .2 1 .1 1 .1 1 .2 1 .2 1 .2 1 .1 1-.1 1-.1 1-.2 1-.2 1-.2 1-.1 1-.1 1-.1 1 0 1 0 1 0 1-.1 1 0 1 0 1 .1 1 .2 1 .3 1 .2 1 .1 1 0 1-.1 1 0 1 .2 1 .1 1 0 1 0 1-.2 1-.2 1-.2 1-.2 1-.1 1 0 1-.1 1-.1 1-.1 1 0 1 .1 1 .1 1 .2 1 .2 1 0 1-.1 1-.4 1-.4 1-.4 1-.2 1 0 1 .1 1 .1 1 0 1 0 1 0 1 0 1 0 1 .1 1 0 1-.1 1-.2 1-.3 1-.4 1-.7 1-.7 1-.4 1 0 1 .6 1 .6 1 .3 1 .3 1 .5 1 .6 1 .3 1 .4 1 0 1-.8 1-1 1-.7 1-.2 1 .8 1 1.7 1 3.5 1 5.5 1 6.5 1 5.1 1 3.4 1 1.6 1-.1 1-1.6 1-3.6 1-4.9 1-5.2 1-4 1-2.6 1-1.7 1-1.1 1-.4 1 .2 1 .6 1 1.1 1 2.4 1 3.1 1 4 1 4.7 1 5 1 5.2 1 5.5 1 5.2 1 4.7 1 3.8 1 3.6 1 1.4 1-2.4 1-4.1 1-4.3 1-4.7 1-4.6 1-4.6 1-4.3 1-4.4 1-3.8 1-3.8 1-1 1 .2 1 .2 1 0 1 0 1 0 1-.3 1 0 1-1 1-1.6 1-2.7 1-3.5 1-3.4 1-3.3 1-2.5 1-1.3 1-.9 1-.5 1 0 1-.1 1-.4 1-.9 1-1.1 1-1.8 1-2.1 1-1.7 1-1.4 1-1.4 1-1.6 1-1.7 1-1.5 1-1.2 1-1.3 1-1 1-.8 1-.8 1-.8 1-.8 1-.8 1-.6 1-.8 1-.8 1-.7 1-.6 1-.4 1-.1 1 .3 1 .4 1 .8 1 1 1 1.4 1 1.9 1 2.2 1 2.4 1 2.6 1 2.6 1 2.9 1 2.9 1 3 1 3.1 1 3.3 1 3.5 1 3.5 1 3.4 1 3.3 1 3 1 2.8 1 2.7 1 2.6 1 2.3 1 1.8 1 1.5 1 .9 1 .6 1 .1 1-.3 1-.6 1-1.1 1-1.4 1-1.6 1-2.1 1-2.7 1-3.4 1-4.4 1-3.7 1-3.3 1-3.4 1-3.2 1-1.8 1-1.3 1-2.2 1-2.7 1-2.6 1-2.6 1-3 1-3.1 1-3.3 1-2.8 1-2.5 1-2.1 1-1.7 1-1.9 1-1.8 1-1.7 1-1.6 1-1.6 1-1.4 1-1.2 1-1.2 1-1 1-1 1-.9 1-.8 1-.9 1-.9 1-.9 1-1 1-1.1 1-1.1 1-1.2 1-1.1 1-.9 1-1 1-.8 1-.9 1-.7 1-.8 1-.8 1-.9 1-.9 1-.9 1-.9 1-.7 1-.6 1-.4 1-.3 1-.1 1-.1 1 0 1 0 1-.1 1-.3 1-.5 1-.5 1-.4 1-.3 1-.2 1-.1 1-.2 1-.2 1-.3 1-.3 1-.3 1-.2 1-.1 1 0 1 .2 1 .4 1 .3 1 .4 1 .3 1 .4 1 .5 1 .5 1 .6 1 .6 1 .6 1 .6 1 .5 1 .5 1 .8 1 .9 1 1 1 .9 1 .9 1 .9 1 .9 1 .9 1 1 1 1.2 1 1.5 1 1.7 1 2 1 2.1 1 2.1 1 2 1 1.8 1 1.6 1 1.8 1 2 1 2.2 1 2.3 1 2.4 1 2.3 1 2.2 1 1.7 1 1 1 1 1 .8 1 .9 1 .8 1 .8 1 1 1 .9 1 .8 1 .6 1 .7 1 .9 1 1.3 1 1.4 1 1.5 1 1.2 1 1.1 1 .8 1 .6 1 .7 1 .5 1 .3 1 .3 1 .3 1 .4 1 .7 1 .7 1 .9 1 .8 1 .7 1 .5 1 .4 1 .2 1-.1 1-.3 1-.1 1 0 1-.1 1 0 1 0 1-.1 1-.1 1-.1 1-.1 1-.1 1-.1 1-.2 1-.1 1 0 1 .1 1 .4 1 .7 1 .8 1 1 1 .9 1 .6 1 .4 1 .2 1 .2 1 .2 1 .3 1 .3 1 .3 1 .4 1 .3 1 .5 1 .4 1 .6 1 .5 1 .5 1 .4 1 .3 1 .4 1 .3 1 .4 1 .2 1 .1 1-.2 1-.8 1-.8 1-.4 1 .1 1 .1 1 .1 1 0 1 0 1 0 1 0 1 .1 1 .1 1 .3 1 .2 1 .3 1 .2 1 .2 1 .2 1 .3 1 .2 1 0 1 0 1-.2 1-.1 1-.2 1 0 1 .1 1 .1 1 .3 1 .2 1 .2 1 .2 1 .1 1 .2 1 .1 1 .2 1 .2 1 .2 1 .2 1 .2 1 .4 1 .5 1 .6 1 .7 1 .5 1 .4 1 0 1-.1 1-.2 1-.2 1 0 1 .2 1 .3 1 .4 1 .4 1 .2 1 .2 1 .1 1 .2 1 .1 1 0 1 0 1-.2 1-.2 1-.4 1-.2 1-.2 1 0 1 .2 1 .2 1 0 1-.2 1-.3 1-.6 1-.6 1-.6 1-.6 1-.5 1-.5 1-.4 1-.3 1-.3 1-.3 1-.3 1-.4 1-.5 1-.4 1-.4 1-.4 1-.3"/>
<path d="M20.3 133.1l1 .1 1 .2 1 .2 1 0 1-.2 1 0 1 0 1 .1 1 .1 1 0 1 0 1 .1 1 .2 1 .2 1 .3 1 .2 1 .2 1 .1 1 0 1-.2 1-.3 1-.4 1-.5 1-.5 1-.5 1-.5 1-.5 1-.5 1-.5 1-.5 1-.3 1-.2 1 0 1 .1 1 .2 1 .1 1 .2 1 0 1 0 1 0 1-.2 1-.1 1-.2 1-.1 1 0 1 0 1-.1 1-.4 1-.7 1-.9 1-.9 1-.9 1-.6 1-.2 1 .1 1 .4 1 .5 1 .4 1 .4 1 .2 1 .1 1-.1 1-.2 1-.3 1-.3 1-.3 1-.3 1-.4 1-.4 1-.3 1-.2 1 0 1 .2 1 .2 1 .2 1 .1 1 .1 1 .2 1 .3 1 .4 1 .4 1 .3 1 .1 1 0 1-.1 1-.2 1-.1 1-.1 1 0 1 .1 1 .1 1 .2 1 .2 1 .1 1 .1 1-.1 1-.3 1-.5 1-.6 1-1.6 1-1.7 1-1.4 1-.1 1 .9 1 1.1 1 .2 1 .3 1 1.1 1 1.6 1 1.9 1 2 1 1 1 .4 1 0 1-.3 1-.1 1 .6 1 1.3 1 3.1 1 4.6 1 5.9 1 5.4 1 4.5 1 3.5 1 2.2 1 .6 1-1.5 1-3.2 1-4 1-3.5 1-2.9 1-2.4 1-2.1 1-1.5 1-1.1 1-.8 1-.2 1 1.1 1 1.8 1 2.6 1 3.3 1 3.2 1 3.2 1 2.7 1 2.2 1 1.5 1 1.5 1 1.7 1 .1 1-2.3 1-3.3 1-3.2 1-3.5 1-2.7 1-2.6 1-2.3 1-2 1-1.1 1-1.6 1 0 1 1.1 1 .9 1 1 1 1.4 1 1.8 1 1.7 1 1.9 1 1 1 .2 1-.9 1-2.1 1-2.4 1-2.9 1-2.6 1-1.7 1-1.5 1-1.3 1-.8 1-.8 1-.7 1-.6 1-.5 1-1 1-1.1 1-.8 1-.6 1-.8 1-1.2 1-1.3 1-1.3 1-1 1-.9 1-.4 1 0 1 .4 1 .4 1 .4 1 .1 1-.1 1-.4 1-.3 1-.1 1 .1 1 .2 1 .3 1 .5 1 .6 1 .3 1 .2 1-.2 1-.5 1-.7 1-1 1-1.1 1-1 1-1 1-1.2 1-1.4 1-1.5 1-1.6 1-1.5 1-1.2 1-1.1 1-.9 1-.9 1-.8 1-.6 1-.3 1-.3 1-.3 1 0 1 .4 1 1.1 1 1.2 1 1.5 1 1.7 1 1.6 1 1.4 1 1.3 1 1.2 1 1.3 1 .9 1 .9 1 1 1 .6 1 0 1-.3 1 .5 1 .3 1-1 1-2.1 1-2.1 1-2.5 1-3.1 1-3.3 1-3.3 1-2.9 1-2.5 1-2 1-1.6 1-1.5 1-1.3 1-1.1 1-.7 1-.7 1-.6 1-.7 1-.8 1-.7 1-.5 1-.2 1 0 1 .2 1 .4 1 .7 1 .9 1 1 1 1.1 1 .8 1 .9 1 1 1 1 1 .9 1 .9 1 1.1 1 1.2 1 1.3 1 1.4 1 1.5 1 1.6 1 1.4 1 1.3 1 1 1 .7 1 .6 1 .5 1 .5 1 .5 1 .3 1 .2 1 .1 1 0 1-.2 1-.3 1-.3 1-.2 1-.2 1-.2 1-.2 1-.3 1-.3 1-.6 1-.7 1-1 1-1.1 1-1.1 1-1 1-.9 1-.8 1-.6 1-.5 1-.5 1-.7 1-.6 1-.6 1-.7 1-.7 1-.9 1-.9 1-.7 1-.3 1-.4 1-.3 1-.3 1-.1 1 0 1 .2 1 .2 1 .1 1 .3 1 .3 1 .5 1 .6 1 .6 1 .5 1 .4 1 0 1 0 1 0 1 .1 1 .2 1 .2 1 .3 1 .3 1 .2 1 0 1 .3 1 .5 1 .5 1 .5 1 .4 1 .3 1 .2 1 .2 1 .3 1 .5 1 .7 1 .9 1 1 1 1.1 1 1.2 1 1.4 1 1.3 1 1.3 1 1.3 1 1.4 1 1.5 1 1.7 1 1.9 1 2.2 1 2.5 1 2.5 1 2.6 1 2.7 1 2.4 1 2.3 1 2 1 1.8 1 1.6 1 1.6 1 1.5 1 1.6 1 1.5 1 1.3 1 1.3 1 1.3 1 1.2 1 1.2 1 .8 1 .5 1 .2 1 .3 1 .2 1 .2 1 .3 1 .4 1 .3 1 .3 1 .2 1 .1 1 .1 1 .1 1-.1 1 0 1-.1 1-.2 1-.2 1-.2 1-.2 1-.2 1 0 1 .1 1 .1 1 0 1-.1 1-.2 1-.3 1-.4 1-.3 1-.4 1-.4 1-.5 1-.8 1-1.4 1-1.4 1-.9 1-.4 1-.3 1-.2 1 0 1-.1 1-.1 1-.1 1-.1 1-.1 1-.3 1-.3 1-.5 1-.4 1-.3 1-.1 1 .1 1 .3 1 .2 1 .3 1 .2 1 .1 1-.1 1 0 1-.1 1-.1 1-.2 1-.2 1-.2 1-.2 1-.1 1 .1 1 .4 1 .4 1 .6 1 .6 1 .5 1 .5 1 .5 1 .4 1 .3 1 .3 1 .2 1 .3 1 .3 1 .2 1 .3 1 .1 1 .1 1 .1 1 .1 1 .2 1 .4 1 .3 1 .4 1 .3 1 .2 1 .1 1-.1 1-.1 1-.2 1-.3 1-.3 1-.3 1-.3 1-.2 1-.1 1 0 1-.1 1-.1 1-.2 1-.4 1-.5 1-.6 1-.8 1-.8 1-.6 1-.6 1-.3 1-.3 1-.3 1-.4 1-.5 1-.6 1-.6 1-.4 1-.4 1-.3"/>
<path d="M20.3 138.9l1 .1 1 .2 1 .3 1 .3 1 .2 1 0 1-.1 1-.1 1-.1 1 0 1 .1 1 .2 1 .2 1 .2 1 .1 1 0 1-.1 1-.2 1-.2 1-.4 1-.3 1-.2 1 0 1 .1 1 .2 1 .3 1 .1 1-.1 1-.3 1-.4 1-.4 1-.3 1-.3 1-.1 1-.2 1-.1 1-.2 1-.2 1-.3 1-.2 1-.1 1 .1 1 .3 1 .4 1 .2 1 .1 1-.2 1-.4 1-.3 1-.4 1-.2 1-.1 1 0 1 .1 1 .2 1 .3 1 .3 1 .3 1 .1 1 .1 1 0 1 .3 1 .4 1 .6 1 .5 1 .5 1 .3 1 .2 1 0 1 0 1 0 1 0 1 .1 1 .1 1-.1 1-.1 1-.3 1-.3 1-.3 1 0 1 .2 1 .4 1 .5 1 .6 1 .6 1 .6 1 .5 1 .4 1 .2 1 .1 1 0 1-.1 1-.1 1-.1 1 0 1 .1 1 .2 1 .2 1 .1 1-.1 1 0 1 0 1 .3 1 .5 1 .5 1 .4 1 .6 1 .8 1 .7 1 .7 1 1 1 .7 1 .2 1 .1 1 .3 1 .9 1 1.4 1 1.9 1 3 1 5 1 5.5 1 3.8 1 1.7 1-.4 1-2 1-3.4 1-5 1-5.9 1-5.8 1-4 1-2.4 1-1.1 1-.3 1 .7 1 1.1 1 1.3 1 1.4 1 2.2 1 2.2 1 2.5 1 2.5 1 2.2 1 1.6 1 1.2 1 .9 1 .7 1 1.1 1 2 1 1.2 1-.8 1-1.3 1-.8 1-1 1-.5 1-.9 1-1.2 1-1.7 1-1.9 1-2.6 1-.6 1 .2 1 0 1 0 1 .3 1 .7 1 .8 1 1.6 1 1.3 1 .9 1-.1 1-1.4 1-1.4 1-1.5 1-1.2 1 0 1 .5 1 .5 1-.1 1 .1 1 .1 1 .3 1 .3 1 .4 1 1 1 1.6 1 1.3 1 1.3 1 1.2 1 1.2 1 1.2 1 1.3 1 1.6 1 1.8 1 2 1 2 1 2 1 2 1 1.9 1 2.1 1 2.1 1 2.5 1 2.5 1 2.3 1 1.6 1 1.3 1 .9 1 .8 1 .7 1 .7 1 .8 1 .9 1 1 1 .8 1 .7 1 .6 1 .4 1 .3 1 0 1-.2 1-.2 1-.2 1-.2 1-.2 1-.2 1-.3 1-.5 1-.6 1-.7 1-.9 1-1.2 1-1.4 1-1.6 1-2 1-2.1 1-2.3 1-2.6 1-2.8 1-2.9 1-2.8 1-2.8 1-2.6 1-2.4 1-2.4 1-2.2 1-1.6 1-1.4 1-1.2 1-.4 1 0 1 0 1 .1 1 .2 1 .7 1 1.1 1 1.6 1 1.6 1 1.7 1 1.9 1 2.3 1 2.2 1 2.2 1 2 1 1.9 1 1.7 1 1.6 1 1.6 1 1.6 1 1.7 1 1.7 1 1.7 1 1.7 1 1.7 1 1.6 1 1.4 1 1.3 1 1.2 1 1.2 1 1.1 1 .9 1 .7 1 .9 1 .8 1 .3 1 .2 1 .2 1 0 1-.2 1-.3 1-.4 1-.2 1-.1 1 .3 1 .2 1 .1 1 0 1-.2 1-.2 1-.5 1-.5 1-.4 1 0 1 0 1 0 1-.1 1-.2 1-.3 1-.3 1-.3 1-.1 1 .1 1 .5 1 .5 1 .4 1 .4 1 .3 1 .3 1 .4 1 .4 1 .3 1 .4 1 .7 1 .6 1-.2 1-.5 1-.6 1-1.4 1-1.6 1-1.5 1-1.5 1-1.3 1-1.3 1-1.2 1-.7 1-.5 1-.2 1-.1 1-.1 1-.1 1-.1 1-.3 1-.3 1-.4 1-.3 1-.3 1-.2 1-.3 1-.7 1-.7 1-.8 1-.9 1-1.2 1-1.2 1-1.2 1-1.1 1-1 1-1 1-1 1-1.1 1-1.4 1-1.6 1-2 1-2 1-1.9 1-2.3 1-2.5 1-2.4 1-2.1 1-1.2 1-.8 1-.6 1-.9 1-1.3 1-1.7 1-2.1 1-2.1 1-2.3 1-2.4 1-2.3 1-1.9 1-1.8 1-1.7 1-1.8 1-1.8 1-1.8 1-1.4 1-1.1 1-.7 1-.5 1-.8 1-.9 1-.9 1-1 1-1.2 1-1.4 1-1.3 1-1.5 1-1.4 1-1.3 1-1.2 1-1 1-.8 1-.7 1-.6 1-.5 1-.2 1-.2 1-.1 1-.2 1-.1 1-.1 1-.1 1-.1 1-.1 1 .2 1 .1 1 .1 1 .1 1 .2 1 .2 1 .2 1 .3 1 .1 1 .1 1 .1 1 .1 1 .1 1 .1 1 .1 1 .2 1 .2 1 .7 1 .8 1 .9 1 1.2 1 1.2 1 1.2 1 1.3 1 1.2 1 1 1 .9 1 .7 1 .7 1 .8 1 1 1 .9 1 .7 1 .5 1 .1 1-.1 1-.1 1 0 1 .1 1 0 1 .1 1 0 1 0 1 0 1 .1 1 0 1 .1 1 0 1 0 1-.2 1-.2 1-.2 1-.2 1 0 1 .2 1 .3 1 .5 1 .5 1 .6 1 .6 1 .5 1 .3 1 .3 1 .1 1 .2 1 0 1 0 1-.1 1-.2 1-.1 1-.1 1-.1 1-.1 1-.1 1 0 1 .1 1 .3 1 .3 1 .4 1 .1 1-.1 1-.3 1-.5 1-.6 1-.7 1-.5 1-.4 1-.2 1-.2 1-.2 1-.3 1-.4 1-.5 1-.6 1-.7 1-.8 1-.8 1-.7 1-.5 1-.4 1-.3 1 0 1 0 1 .1 1 .1 1 .1 1 .2 1 .3 1 .4 1 .4"/>
<path d="M20.3 130.5l1-.1 1-.1 1 .5 1 .4 1 .4 1 .3 1 .1 1 0 1-.2 1-.3 1-.3 1-.4 1-.3 1-.4 1-.4 1-.5 1-.4 1-.3 1 0 1 .1 1 .3 1 .5 1 .5 1 .4 1 .5 1 .3 1 .2 1 0 1-.2 1-.2 1-.4 1-.4 1-.2 1-.2 1-.3 1-.2 1-.4 1-.3 1-.2 1-.2 1 .1 1 .1 1 .1 1 .2 1 .2 1 .3 1 .3 1 .2 1 .1 1-.1 1-.2 1-.4 1-.5 1-.5 1-.4 1-.5 1-.4 1-.6 1-.4 1-.4 1-.2 1 .1 1 .4 1 .5 1 .6 1 .4 1 .3 1 .1 1-.1 1-.2 1-.2 1-.1 1-.1 1-.1 1-.1 1-.2 1-.4 1-.6 1-.8 1-.7 1-.5 1-.2 1 .3 1 .6 1 1 1 1.1 1 1.1 1 .9 1 .6 1 .3 1 .3 1 .2 1 .2 1 .3 1 .2 1-.1 1-.6 1-.8 1-1.2 1-2.2 1-2.2 1-2.1 1-.8 1 .4 1 .7 1 .1 1 .1 1 .9 1 1.4 1 1.6 1 1.8 1 .9 1 .2 1-.1 1-.8 1-.8 1-.3 1 .3 1 2 1 3 1 4.5 1 4.4 1 3.8 1 3.2 1 2.1 1 1 1-.7 1-1.9 1-2.4 1-2 1-1.7 1-1.5 1-1.5 1-1.2 1-1.1 1-1.1 1-.8 1 0 1 .2 1 .6 1 1.2 1 1 1 1.1 1 .8 1 .9 1 .7 1 1.5 1 2.1 1 1.2 1-.5 1-.9 1-.7 1-1.1 1-.3 1-.6 1-.9 1-1.1 1-.5 1-1.6 1 0 1 1 1 1 1 1.5 1 2.3 1 3 1 3.1 1 3.7 1 2.9 1 2 1 .6 1-1.2 1-2 1-3 1-3.3 1-2.6 1-2.3 1-2.1 1-1.4 1-1.2 1-.8 1-.2 1 .1 1 .1 1 .1 1 .6 1 .5 1 0 1-.6 1-1.2 1-1.5 1-1.7 1-1.7 1-1.3 1-1 1-.7 1-.5 1-.4 1-.7 1-.9 1-1.4 1-1.6 1-1.6 1-1.8 1-1.9 1-1.7 1-1.6 1-1.5 1-1.5 1-1.6 1-1.6 1-1.7 1-1.6 1-1.5 1-1.3 1-.9 1-.5 1-.5 1-.6 1-.6 1-.6 1-.4 1-.4 1-.1 1 0 1 .2 1 .2 1 .5 1 .9 1 1.2 1 1.3 1 1.6 1 1.9 1 2.2 1 1.9 1 2.1 1 2.2 1 2.3 1 2.2 1 2.2 1 2.3 1 2.1 1 1.5 1 1.2 1 1.2 1 1 1 .4 1 .3 1 1.5 1 1.7 1 1.2 1 1 1 1.2 1 1.4 1 1.6 1 1.7 1 1.6 1 1.8 1 2 1 2.2 1 2.2 1 1.8 1 1.8 1 1.8 1 1.8 1 1.7 1 1.8 1 1.9 1 2 1 2.1 1 2.2 1 2 1 1.8 1 1.7 1 1.6 1 1.5 1 1.8 1 1.7 1 1.5 1 1 1 .8 1 .8 1 .8 1 .3 1 .4 1 .5 1 .6 1 .6 1 .6 1 .4 1 .3 1 .2 1 .2 1 0 1-.2 1-.3 1-.3 1-.4 1-.5 1-.7 1-.5 1-.4 1-.4 1-.5 1-.6 1-.5 1-.5 1-.4 1-.3 1-.4 1-.3 1-.3 1-.4 1-.6 1-.6 1-.7 1-.7 1-.7 1-.7 1-.9 1-.8 1-.5 1-.3 1-.7 1-.7 1-.6 1-1.4 1-1.8 1-2 1-1.9 1-1.6 1-1.2 1-1 1-.5 1-.2 1 0 1 .2 1 .2 1 .3 1 .1 1 .1 1 0 1 .1 1 .1 1 .4 1 .5 1 .4 1 .1 1 0 1 0 1 0 1 0 1-.2 1-.2 1-.2 1-.3 1-.6 1-.4 1-.4 1-.4 1-.6 1-.8 1-.7 1-.6 1-.8 1-1.1 1-1.1 1-.9 1-.4 1 0 1 .3 1-.1 1-.1 1-.4 1-.6 1-.5 1-.7 1-.9 1-.9 1-.9 1-.8 1-.9 1-.8 1-.6 1-.7 1-.5 1-.3 1 0 1 .1 1 .2 1 .2 1 .1 1 .3 1 .4 1 .6 1 .6 1 .5 1 .6 1 .6 1 .5 1 .3 1 .4 1 .2 1 .1 1 .1 1 .1 1 .2 1 .2 1 .2 1 .1 1 0 1 0 1 0 1 0 1 .1 1-.1 1 0 1 0 1-.1 1-.1 1-.1 1-.1 1-.2 1-.3 1-.3 1-.4 1-.4 1-.2 1-.3 1-.1 1 0 1 0 1 .1 1-.2 1-.9 1-1.2 1-1 1-.5 1-.5 1-.3 1-.4 1-.2 1-.3 1-.2 1-.2 1-.2 1-.2 1-.2 1-.2 1-.2 1-.2 1-.2 1 0 1 .1 1 0 1 .1 1 .2 1 .1 1 .2 1 .2 1 .1 1 0 1-.1 1-.1 1-.1 1 0 1 .1 1 .2 1 .1 1 .2 1 .2 1 .2 1 .2 1 .1 1 0 1 0 1 0 1 0 1 .2 1 .2 1 .2 1 .3 1 .3 1 .4 1 .3 1 .3 1 .2 1 .3 1 .2 1 .1 1 .1 1 .1 1 .1 1 .2 1 .2 1 .3 1 .4 1 .3 1 .3 1 0 1 0 1-.2 1-.1 1-.1 1-.3 1-.2 1-.2 1-.2 1-.2 1-.1 1 0 1 .2 1 .3 1 .2 1 .2 1 0 1-.1 1 0 1-.2 1 0 1 .1 1 .1 1 0 1 0"/>
<path d="M20.3 129.1l1 .5 1 .3 1 .2 1 .1 1 0 1-.1 1-.2 1-.2 1-.4 1-.5 1-.6 1-.6 1-.7 1-.5 1-.4 1-.2 1 .2 1 .3 1 .6 1 .7 1 .8 1 .8 1 .8 1 .7 1 .5 1 .3 1-.1 1-.5 1-.9 1-1.1 1-1.3 1-1.1 1-1 1-.8 1-.5 1-.1 1 .1 1 .2 1 .3 1 .3 1 .2 1 .3 1 .2 1 .3 1 .5 1 .5 1 .5 1 .3 1-.1 1-.5 1-.7 1-.9 1-.9 1-.9 1-.6 1-.4 1-.2 1 0 1 .2 1 .3 1 .4 1 .5 1 .6 1 .6 1 .5 1 .5 1 .2 1 0 1-.3 1-.4 1-.5 1-.4 1-.4 1-.5 1-.6 1-.6 1-.6 1-.5 1-.3 1-.1 1 .1 1 .4 1 .6 1 .7 1 .9 1 .9 1 .9 1 .8 1 .5 1 .3 1 0 1-.1 1-.1 1-.3 1-.4 1-1 1-1.2 1-1.5 1-1.8 1-2.9 1-3.1 1-2.8 1-1.8 1-.7 1-.7 1-1.7 1-1.8 1-.6 1 0 1 .1 1 .1 1-.3 1-.6 1-.6 1-.8 1 1.4 1 2.5 1 2.8 1 3.8 1 1.8 1 .6 1 .5 1 2 1 2.2 1 1.7 1 .9 1-.1 1-.7 1-1 1-1.4 1-1.4 1-1.4 1 .1 1 .5 1 .7 1 .4 1 .3 1 0 1-1.6 1-2.9 1-3.6 1-5 1-5.9 1-8.6 1-9.4 1-10.3 1-7.2 1-5.5 1-4.4 1-1.9 1 1 1 3 1 5.4 1 9.2 1 9.2 1 8.3 1 8 1 8.3 1 4.8 1 2.7 1 1.9 1 .7 1 1.5 1 1.2 1 .8 1 .3 1-.4 1-1.2 1-1.6 1-1.2 1-.3 1-.2 1 .4 1 1.6 1 1.6 1 .4 1 0 1-.1 1-.9 1-.7 1-.1 1 0 1-.6 1-1.1 1-.7 1-.8 1-1.1 1-1.5 1-1.8 1-1.7 1-1.4 1-1.5 1-1.1 1-.8 1-.5 1-.5 1-.6 1-.7 1-1 1-1.3 1-1.8 1-2.1 1-2.3 1-2.4 1-2.3 1-2.2 1-2.1 1-2.1 1-2 1-1.9 1-1.9 1-1.7 1-1.8 1-1.6 1-1.4 1-1.1 1-.9 1-.9 1-.9 1-.7 1-.5 1-.3 1-.1 1 .2 1 .3 1 .4 1 1 1 1.6 1 2 1 2.3 1 2.9 1 3.3 1 3.8 1 3.7 1 4 1 4.1 1 4.2 1 3.8 1 3.9 1 4 1 3.9 1 3.6 1 3.6 1 3.3 1 2.7 1 1.9 1 1.6 1 2.6 1 2.7 1 2.2 1 2.1 1 2.2 1 2.4 1 2.4 1 2.4 1 2 1 2 1 2.1 1 2.2 1 2 1 1.8 1 1.7 1 1.5 1 1.3 1 1 1 .7 1 .6 1 .4 1 .4 1 .5 1 .5 1 .7 1 1 1 1.1 1 1.3 1 1.4 1 1.2 1 .8 1 .2 1-.1 1-.2 1-.4 1-.8 1-.9 1-.7 1-.5 1-.3 1-.2 1-.1 1-.3 1-.3 1-.5 1-.7 1-.8 1-.9 1-.7 1-.8 1-.8 1-.9 1-1 1-.9 1-.9 1-.9 1-.9 1-1 1-1.1 1-1.1 1-1.1 1-1.3 1-1.2 1-1.3 1-1.5 1-1.7 1-1.7 1-1.7 1-1.5 1-1.3 1-1.2 1-1.2 1-1.1 1-1.1 1-1.2 1-1.9 1-2.2 1-2.4 1-2.8 1-2.8 1-2.3 1-1.9 1-1.2 1-.5 1-.5 1-.5 1-.6 1-.9 1-.9 1-1.1 1-1 1-1 1-.9 1-.9 1-.7 1-.7 1-.5 1-.2 1-.1 1 .1 1 .3 1 .3 1 .3 1 .4 1 .3 1 .5 1 .5 1 .3 1-.1 1 0 1 .1 1 .3 1 .4 1 .4 1 .4 1 .4 1 .2 1 .2 1 .2 1 .4 1 .7 1 1 1 1 1 1.2 1 1.2 1 1.2 1 1 1 1.1 1 1.1 1 .9 1 1 1 1 1 1.3 1 1.6 1 1.8 1 2.1 1 2.2 1 1.9 1 1.7 1 1.5 1 1.3 1 1 1 1 1 .9 1 .8 1 .8 1 .6 1 .6 1 .4 1 .7 1 .7 1 .8 1 .8 1 .7 1 .7 1 .5 1 .3 1 .3 1 .5 1 .5 1 .5 1 .4 1 .2 1 0 1-.2 1-.3 1-.1 1 0 1 .1 1 .1 1 .1 1-.1 1 0 1-.2 1-.1 1-.2 1-.3 1-.4 1-.5 1-.3 1-.3 1-.3 1-.4 1-.4 1-.6 1-.8 1-1.2 1-1.2 1-.6 1-.2 1-.2 1-.4 1-.4 1-.5 1-.4 1-.3 1 0 1 0 1 .1 1 .1 1 .1 1-.1 1-.2 1-.2 1 0 1 0 1 0 1 0 1-.1 1-.2 1-.2 1-.3 1-.1 1 0 1 .1 1 .4 1 .4 1 .4 1 .3 1 .2 1-.1 1-.2 1-.3 1-.1 1 .1 1 .2 1 .3 1 .2 1 0 1-.1 1-.1 1 .1 1 .2 1 .4 1 .4 1 .3 1 .1 1 0 1 .1 1 .2 1 .2 1 .2 1 .3 1 .2 1 .3 1 .3 1 .3 1 .2 1 0 1-.2 1-.3 1-.4 1-.5 1-.3 1-.3 1-.1 1-.3 1-.2 1-.3 1-.2 1-.2 1-.1 1 0 1 .1 1 .2 1 .3 1 .3 1 .3 1 .2 1 0 1-.1 1-.2 1-.2 1-.1 1 0 1-.2"/>
<path d="M20.3 141.3l1 .7 1 .7 1 .7 1 .5 1 .3 1 .2 1 .2 1 .2 1 .2 1 .1 1 .1 1 0 1-.1 1-.1 1-.2 1-.2 1-.2 1-.1 1-.1 1 0 1 .2 1 .3 1 .3 1 .2 1 .1 1 0 1-.1 1-.1 1-.1 1-.1 1-.2 1-.2 1-.2 1-.2 1-.2 1 0 1 0 1 .2 1 .2 1 .2 1 .3 1 .1 1 .2 1 .2 1 .1 1 .2 1 0 1 0 1-.2 1-.3 1-.5 1-.4 1-.3 1-.2 1 0 1 0 1 .1 1 .1 1 .2 1 .1 1 .1 1 .2 1 .3 1 .3 1 .3 1 .2 1 0 1-.1 1-.1 1-.2 1-.2 1-.1 1-.2 1-.1 1-.1 1-.2 1-.1 1-.2 1-.1 1 0 1 .1 1 .3 1 .5 1 .7 1 .7 1 .5 1 .4 1 .2 1 .1 1 0 1 0 1 .1 1 .1 1 0 1 0 1-.2 1-.2 1-.2 1-.1 1 .1 1 .4 1 .8 1 1.1 1 1.2 1 1.1 1 .7 1 .7 1 .5 1 .3 1 .7 1 1.3 1 1.5 1 1 1 .8 1 .8 1 .2 1 .4 1 .8 1 2.1 1 5.2 1 4.6 1 2.8 1 .8 1-1.4 1-2.5 1-3.3 1-4.6 1-5.4 1-4.8 1-3.1 1-1.2 1-.2 1 .3 1 .7 1 .6 1 .3 1 0 1 .6 1 .5 1 .7 1 .8 1 .6 1 .5 1 .5 1 .5 1 .9 1 2 1 3.4 1 3.3 1 1.5 1 1.1 1 1.2 1 .6 1 .2 1-.9 1-1.7 1-2.7 1-3.1 1-4.1 1-2 1-1.1 1-1.3 1-1.1 1-.4 1 .4 1 1.1 1 2.7 1 2.8 1 2.8 1 1.7 1 0 1-.4 1-2 1-2.6 1-1.5 1-.9 1-.6 1-.1 1 0 1 .1 1 .3 1-.1 1-.5 1 .3 1 1.1 1 1.7 1 2 1 1.8 1 1.9 1 1.8 1 2 1 1.9 1 2 1 1.9 1 1.8 1 1.8 1 1.8 1 1.6 1 1.6 1 1.5 1 1.7 1 1.9 1 1.8 1 1.3 1 .9 1 .7 1 .4 1 .4 1 .4 1 .5 1 .7 1 .7 1 .6 1 .5 1 .4 1 .3 1 0 1-.2 1-.4 1-.4 1-.4 1-.3 1-.2 1-.3 1-.4 1-.6 1-.6 1-.8 1-1 1-1.2 1-1.5 1-1.4 1-1.7 1-1.8 1-1.8 1-2 1-2.3 1-2.1 1-1.9 1-2 1-2 1-2.3 1-2.9 1-2.6 1-2.1 1-2 1-1.8 1-.6 1 .3 1 .6 1 .8 1 .8 1 1.3 1 1.6 1 2 1 1.6 1 1.8 1 2.1 1 2.1 1 2.1 1 2 1 1.9 1 1.8 1 1.6 1 1.6 1 1.6 1 1.5 1 1.6 1 1.6 1 1.5 1 1.2 1 .9 1 .7 1 .5 1 .4 1 .5 1 .6 1 .4 1 0 1-.2 1-.1 1-.2 1-.9 1-1 1-1 1-1.2 1-1.1 1-1 1-.9 1-.8 1-.7 1-.6 1-.8 1-.9 1-1 1-1 1-.9 1-.9 1-.9 1-.8 1-.5 1-.5 1-.4 1-.5 1-.6 1-.8 1-1 1-1 1-1.2 1-1 1-.9 1-.7 1-.6 1-.4 1-.2 1 0 1 .1 1 .2 1 .2 1 .3 1 .7 1 .8 1 .4 1 .2 1 .4 1-.2 1-.3 1-.2 1 0 1 .1 1 .3 1 .1 1 .2 1 .3 1 .4 1 .7 1 .8 1 .8 1 .8 1 .5 1 .5 1 .5 1 .5 1 .6 1 .7 1 .6 1 .4 1 .4 1 .4 1 .4 1 .2 1 .3 1 .2 1 .1 1 .1 1-.3 1-.3 1-.5 1-.6 1-.8 1-1.1 1-1.3 1-1.4 1-1.9 1-2.2 1-2 1-1.4 1-.6 1 0 1 .2 1-.3 1-.7 1-1.2 1-1.5 1-1.5 1-1.7 1-1.7 1-1.7 1-1.3 1-1.2 1-.9 1-.8 1-.6 1-.6 1-.5 1-.3 1 0 1 0 1 .2 1 .1 1 0 1 .2 1 .3 1 .5 1 .5 1 .6 1 .8 1 .7 1 .7 1 .5 1 .4 1 .4 1 .5 1 .4 1 .4 1 .4 1 .2 1 .2 1 .1 1 .1 1 .1 1 0 1 .1 1 0 1 0 1-.1 1-.3 1-.3 1-.4 1-.3 1-.2 1-.1 1 0 1-.1 1-.2 1-.3 1-.3 1-.4 1-.5 1-.3 1-.4 1-.4 1-.7 1-1.2 1-1.4 1-.9 1-.3 1-.2 1-.1 1-.1 1-.1 1-.2 1-.3 1-.3 1-.3 1-.4 1-.3 1-.4 1-.3 1-.2 1-.2 1-.1 1-.1 1 0 1 0 1 .1 1 .1 1 .3 1 .3 1 .4 1 .4 1 .4 1 .3 1 .2 1 0 1 .1 1 .1 1 .3 1 .3 1 .5 1 .4 1 .5 1 .4 1 .2 1 .2 1 .2 1 .1 1 .2 1 .4 1 .5 1 .5 1 .5 1 .3 1 .2 1 .1 1 .2 1 .2 1 .2 1 .2 1 .2 1 .2 1 .1 1 .1 1 0 1 .1 1 0 1 0 1 0 1 0 1 0 1-.1 1 0 1-.2 1-.4 1-.4 1-.4 1-.3 1-.2 1-.2 1 0 1 0 1 0 1 0 1-.2 1-.2 1-.2 1-.1 1-.2 1-.2 1-.1 1-.1 1-.2 1-.4"/>
<path d="M20.3 141.4l1 0 1-.1 1-.2 1 .1 1 .3 1 .4 1 .4 1 .3 1 .2 1 0 1-.2 1-.2 1-.2 1-.2 1-.1 1-.1 1-.2 1-.2 1-.3 1-.2 1-.1 1 .1 1 .1 1 .1 1 .2 1 .2 1 .3 1 .4 1 .3 1 .2 1 .1 1-.2 1-.3 1-.4 1-.5 1-.4 1-.5 1-.4 1-.4 1-.2 1 0 1 0 1 .1 1 .2 1 .1 1 0 1-.1 1-.4 1-.5 1-.5 1-.3 1-.2 1 0 1 .2 1 .2 1 .1 1-.1 1-.3 1-.4 1-.5 1-.4 1-.3 1-.1 1 0 1 .2 1 .3 1 .3 1 .2 1 .3 1 .2 1 .1 1 0 1-.1 1-.2 1-.2 1-.2 1-.2 1-.2 1-.3 1-.2 1-.1 1-.1 1 0 1 .2 1 .3 1 .5 1 .6 1 .6 1 .5 1 .3 1 .2 1 .1 1 0 1-.1 1 0 1-.2 1-.2 1-.3 1-.4 1-.9 1-.9 1-.8 1-.2 1 .2 1 .1 1-.4 1-.4 1-.1 1 0 1 .3 1 1 1 .7 1 .5 1 .6 1 .7 1 1 1 1.2 1 1 1 1.3 1 1.5 1 2 1 .8 1-.3 1-1 1-1.6 1-2.3 1-2.9 1-3 1-2.6 1-1.5 1-.4 1 .2 1 .6 1 1.1 1 1.2 1 1 1 .7 1 .6 1-.3 1-1 1-1.3 1-2.4 1-2.9 1-3.7 1-3.4 1-3 1-.5 1 1.5 1 2.1 1 2.2 1 2.8 1 3.8 1 3.9 1 4.7 1 3.9 1 2.7 1 1.4 1 .8 1-1.4 1-.6 1-.3 1-.7 1-.7 1-.2 1 .4 1 .6 1 1.4 1 1.1 1 .8 1 0 1-.8 1-.9 1-1.3 1-1.2 1-.5 1-.7 1-.8 1-.9 1-1.4 1-2.3 1-2.7 1-2.7 1-2.7 1-2.2 1-1 1 0 1 .3 1 .3 1 .4 1 .3 1 .4 1 .2 1 .2 1 .1 1 .1 1 .1 1 .1 1-.1 1-.3 1-.8 1-1.1 1-1.5 1-1.9 1-2.1 1-2.3 1-2.2 1-2.3 1-2.4 1-2.6 1-2.6 1-2.7 1-2.4 1-2.3 1-2.2 1-1.8 1-1.5 1-1.3 1-1.2 1-1.1 1-1.1 1-.9 1-.8 1-.6 1-.5 1-.3 1-.1 1 .3 1 .9 1 1.1 1 1.2 1 1.7 1 2.1 1 3 1 3 1 3.4 1 3.7 1 3.7 1 3.4 1 3.5 1 3.5 1 3.4 1 2.9 1 2.6 1 2.5 1 2.3 1 1.6 1 1.4 1 2.3 1 2.5 1 2 1 1.9 1 2.2 1 2.7 1 3.1 1 3.3 1 3 1 3.1 1 2.9 1 2.9 1 2.5 1 2.1 1 2 1 1.7 1 1.5 1 1.4 1 1.2 1 1.1 1 .9 1 .7 1 .4 1 .1 1-.1 1-.4 1-.5 1-.6 1-.6 1-.7 1-.9 1-1.2 1-1.5 1-1.4 1-1.6 1-2.1 1-2 1-1.8 1-1.6 1-1.4 1-1.4 1-1.3 1-1.3 1-1.3 1-1.4 1-1.7 1-1.8 1-1.8 1-1.5 1-1.2 1-1 1-.7 1-.5 1-.3 1-.2 1-.2 1-.2 1-.2 1-.3 1-.3 1-.4 1-.4 1-.3 1 0 1 .2 1 .4 1 .8 1 .8 1 .9 1 .8 1 .8 1 .7 1 .9 1 1.1 1 1.2 1 .9 1 .9 1 1 1 .4 1 0 1-.3 1-.5 1-.3 1-.1 1-.1 1 .1 1 .3 1 .3 1 .4 1 .5 1 .7 1 .7 1 .5 1 .3 1-.1 1-.3 1-.4 1-.4 1-.4 1-.6 1-.5 1-.6 1-.7 1-.7 1-.7 1-.7 1-.7 1-.7 1-1 1-.9 1-.7 1-.6 1-.6 1-.7 1-.7 1-.7 1-1.2 1-1.4 1-1.3 1-1 1-.3 1-.1 1-.1 1-.3 1-.4 1-.5 1-.5 1-.2 1 .1 1 .1 1 .3 1 .5 1 .4 1 .4 1 .2 1 .3 1 .1 1 .1 1 .1 1 .2 1 .2 1 .1 1 0 1-.1 1-.2 1-.3 1-.4 1-.3 1-.3 1-.3 1-.2 1-.2 1-.3 1-.3 1-.4 1-.4 1-.3 1-.2 1-.2 1-.3 1-.4 1-.5 1-.6 1-.7 1-.7 1-.5 1-.4 1-.2 1 0 1-.1 1-.1 1-.2 1-.4 1-.6 1-.5 1-.4 1-.2 1 0 1 .1 1 .3 1 .3 1 .3 1 .2 1 .2 1 .2 1 .2 1 0 1 .1 1 .2 1 .4 1 .3 1 .2 1 .1 1 .2 1 .2 1 .5 1 .6 1 .5 1 .4 1 .2 1 0 1 0 1 0 1 .1 1 .2 1 0 1 0 1-.2 1-.3 1-.4 1-.4 1-.4 1-.4 1-.4 1-.3 1-.4 1-.2 1-.1 1 0 1 .1 1 .1 1 0 1 0 1-.1 1-.2 1-.1 1-.1 1-.1 1-.2 1-.2 1-.3 1-.3 1-.3 1-.4 1-.2 1-.3 1-.1 1-.1 1-.1 1 0 1-.1 1 0 1-.1 1 0 1 0 1 .1 1 .2 1 .2 1 .3 1 .3 1 .2 1 0 1-.1 1-.1 1-.2 1-.1 1-.3 1-.4 1-.4 1-.3 1-.3 1-.3 1-.2 1-.2 1-.1 1-.1 1 0 1-.1 1-.1 1 0 1 .1 1 .3 1 .5 1 .6 1 .6 1 .5"/>
<path d="M20.3 136.4l1 .1 1 .1 1 .2 1 .1 1-.1 1-.2 1-.1 1-.1 1 .1 1 .1 1 .2 1 .1 1 0 1 0 1-.1 1 0 1 0 1 0 1 0 1 0 1 0 1 0 1 0 1-.2 1-.2 1-.2 1-.3 1-.2 1-.1 1 0 1 0 1-.1 1-.2 1-.3 1-.6 1-.6 1-.6 1-.5 1-.4 1-.2 1-.1 1 .1 1 .2 1 .2 1 .2 1 .1 1 0 1-.2 1-.5 1-.5 1-.6 1-.5 1-.3 1-.2 1-.1 1-.2 1-.3 1-.4 1-.3 1-.2 1 .1 1 .2 1 .5 1 .5 1 .3 1 .2 1 0 1-.2 1-.5 1-.7 1-.7 1-.6 1-.5 1-.3 1-.2 1 .1 1 .1 1 .2 1 .2 1 .1 1 .1 1 .1 1 .1 1 .2 1 .4 1 .5 1 .5 1 .5 1 .5 1 .6 1 .5 1 .3 1 .3 1 .1 1-.1 1-.3 1-.6 1-.8 1-1 1-1.6 1-1.5 1-1.1 1 0 1 .9 1 1 1 .1 1-.1 1 .5 1 .5 1 .4 1 .8 1 .1 1-.1 1 0 1 .1 1 .8 1 1.8 1 2.6 1 3.9 1 4.5 1 5.3 1 4.2 1 2.8 1 1.3 1-.2 1-1.8 1-3.6 1-4.7 1-5 1-4 1-2.9 1-1.9 1-.9 1 .1 1 1 1 1.3 1 1.6 1 2.4 1 2.1 1 2 1 1.7 1 .7 1-.3 1-1.8 1-2.5 1-3.2 1-2.2 1-1.1 1-1.2 1-1.8 1-1.4 1-.5 1 0 1 1.6 1 1.8 1 1.8 1 1.8 1 2.3 1 .9 1 1.4 1 1.5 1 .6 1 0 1-.2 1-.4 1-1 1-1.2 1-2.3 1-3 1-3.6 1-3.4 1-2.8 1-2.3 1-.9 1 0 1 .2 1 .3 1 .7 1 .1 1-.5 1-1.1 1-1.3 1-1.7 1-1.9 1-1.2 1-.8 1-.8 1-.8 1-.7 1-.4 1 .2 1 .4 1 .9 1 1.3 1 1.5 1 1.6 1 1.8 1 1.8 1 1.7 1 1.4 1 1.3 1 1.4 1 1.5 1 1.2 1 1.2 1 1 1 .8 1 .4 1 .4 1 .3 1 .4 1 .4 1 .3 1 .2 1 .3 1 .3 1 .4 1 .5 1 .5 1 .5 1 .6 1 .7 1 .8 1 .9 1 .9 1 .9 1 1 1 1.4 1 1.5 1 1.5 1 1.7 1 1.8 1 1.9 1 1.6 1 1.5 1 1.2 1 .8 1 .7 1 .6 1 .5 1 .3 1-.3 1-1.5 1-1.1 1-.9 1-1.1 1 0 1 1.7 1 2.1 1 1.9 1 1.6 1 1.3 1 1.3 1 1.4 1 1.8 1 2.2 1 2.3 1 2.5 1 2.7 1 2.6 1 2.6 1 2.6 1 2.6 1 2.4 1 2.4 1 2.1 1 1.9 1 1.8 1 1.6 1 1.7 1 1.7 1 1.7 1 1.7 1 1.6 1 1.6 1 1.6 1 1.7 1 1.4 1 1.2 1 1 1 .9 1 .8 1 .8 1 .7 1 .8 1 .7 1 .9 1 .9 1 .8 1 .8 1 .7 1 .6 1 .6 1 .6 1 .8 1 .8 1 .8 1 .5 1 .4 1 .3 1 .2 1 .1 1 .1 1 0 1 .1 1 0 1 .1 1 0 1 0 1-.1 1-.1 1-.3 1-.2 1-.4 1-.4 1-.4 1-.3 1-.2 1-.2 1-.4 1-.7 1-.9 1-1.9 1-2.1 1-1.9 1-2 1-2.1 1-2 1-1.9 1-1.9 1-2.1 1-2.1 1-1.9 1-1.9 1-1.9 1-2 1-1.8 1-1.8 1-1.7 1-1.6 1-1.5 1-1.3 1-1.3 1-1 1-.7 1-.9 1-1.2 1-1.2 1-1.1 1-1.1 1-1.2 1-1.1 1-1.1 1-1.2 1-1.1 1-1.3 1-1.2 1-1.1 1-1.1 1-1.1 1-1.3 1-1.2 1-1.3 1-1.7 1-1.9 1-1.9 1-1.4 1-.6 1-.1 1 0 1-.3 1-.5 1-.8 1-.9 1-.8 1-.9 1-.9 1-.9 1-.6 1-.4 1-.3 1-.3 1-.2 1-.4 1-.5 1-.4 1-.3 1 0 1 .2 1 .5 1 .5 1 .8 1 .9 1 .8 1 .7 1 .6 1 .6 1 .7 1 .5 1 .4 1 .3 1 .1 1 .1 1-.1 1 0 1 0 1 0 1 0 1-.1 1-.1 1-.2 1-.2 1-.3 1-.4 1-.4 1-.6 1-.7 1-.8 1-.9 1-1 1-.9 1-.9 1-.8 1-.5 1-.4 1-.2 1-.2 1-.3 1-.3 1-.4 1-.4 1-.4 1-.5 1-1 1-1 1-.9 1-.5 1-.5 1-.4 1-.3 1 0 1 .1 1 .2 1 .2 1 .1 1 0 1-.1 1-.1 1-.1 1 0 1 .1 1 .1 1 0 1 0 1-.1 1 0 1 0 1-.2 1-.3 1-.3 1-.3 1-.1 1 0 1 .1 1 .2 1 .3 1 .2 1 .3 1 .3 1 .4 1 .5 1 .6 1 .6 1 .4 1 .4 1 .2 1 .2 1 .2 1 .3 1 .3 1 .2 1 .1 1 .1 1 0 1 .1 1 .2 1 .5 1 .6 1 .8 1 .8 1 .8 1 .6 1 .2 1 0 1-.1 1 0 1 .2 1 .4 1 .6 1 .6 1 .7 1 .6 1 .6 1 .4 1 .3 1 .3 1 .2 1 .1 1 .2 1 .1 1 .1 1 .1 1 .1 1 0 1 0 1 .1 1 0 1-.2 1-.4 1-.4 1-.5 1-.5 1-.5"/>
<path d="M20.3 137.3l1 0 1 0 1-.1 1-.2 1-.3 1-.4 1-.4 1-.4 1-.3 1-.3 1-.1 1 0 1 .1 1 .1 1 .2 1 .2 1 .2 1 .1 1 .1 1 0 1 0 1 0 1 0 1-.1 1-.1 1 0 1-.1 1 0 1 0 1-.1 1-.2 1-.2 1-.1 1 0 1 .1 1 .1 1 .2 1 .2 1 .1 1 0 1-.1 1-.1 1-.1 1-.1 1-.1 1 0 1-.2 1-.3 1-.6 1-.6 1-.7 1-.5 1-.4 1-.1 1 0 1 0 1 0 1 .2 1 .3 1 .3 1 .3 1 .4 1 .3 1 .2 1 .2 1 0 1-.1 1-.3 1-.5 1-.5 1-.4 1-.3 1-.2 1 0 1 0 1 0 1 .1 1 0 1 .1 1 .2 1 .4 1 .4 1 .5 1 .3 1 .2 1 0 1 0 1 0 1 .1 1 .2 1 .1 1 .1 1 0 1-.1 1-.1 1-.2 1-.3 1-.2 1-.2 1-.8 1-.7 1-.6 1 .1 1 .9 1 .9 1 .3 1 .3 1 .4 1 .1 1 .7 1 1.6 1 1.9 1 1.9 1 2.1 1 2.2 1 2.3 1 2.3 1 1.6 1 1.5 1 2.1 1 2.5 1 1.1 1-.3 1-1.3 1-2.1 1-2.6 1-3.5 1-3.7 1-3 1-1.3 1 .4 1 1.5 1 2 1 2.5 1 2.4 1 1.8 1 1 1 .9 1 .2 1-.3 1-.6 1-1.1 1-1.3 1-1.1 1-.5 1 .2 1 1.8 1 3.6 1 3.5 1 2 1 1.7 1 2.2 1 1.7 1 1.7 1 .6 1-.5 1-2 1-2.7 1-4.2 1-2.9 1-2.2 1-2.5 1-2.5 1-1.7 1-1 1-.1 1 1.5 1 2 1 2.5 1 2.2 1 1.5 1 1.4 1 .8 1 .4 1 .8 1-.9 1-.7 1-.1 1 .1 1-.9 1-2.1 1-2 1-1.5 1-.7 1 .5 1 1.4 1 1.9 1 2 1 2.2 1 2 1 1.7 1 1.4 1 1.2 1 .8 1 .7 1 .8 1 .9 1 .7 1 .6 1 .2 1 .2 1 .1 1-.1 1-.5 1-.7 1-.8 1-.9 1-1.1 1-1.4 1-1.7 1-1.9 1-1.8 1-1.9 1-1.6 1-1.5 1-1.2 1-1.3 1-1.6 1-1.8 1-2 1-2.2 1-2.4 1-2.4 1-2.3 1-2.1 1-2 1-1.5 1-1.1 1-.8 1-.7 1-.4 1 0 1 .7 1 .8 1 1.3 1 1.6 1 1.7 1 1.8 1 1.8 1 1.8 1 1.8 1 1.3 1 .8 1 1 1 1.1 1 .7 1 .8 1 1.7 1 2 1 1.6 1 1.5 1 1.6 1 2 1 2.2 1 2.4 1 1.9 1 1.9 1 1.9 1 1.9 1 1.5 1 1.1 1 .9 1 .7 1 .3 1-.3 1-.7 1-1.1 1-1.3 1-1.4 1-1.3 1-1.2 1-1.4 1-1.6 1-1.6 1-1.5 1-1.4 1-1 1-1 1-1 1-.8 1-.2 1-.2 1-.4 1-.2 1-.1 1 .1 1 .2 1 .3 1 .3 1 .4 1 .6 1 .9 1 1 1 1.2 1 1.3 1 1.3 1 1.2 1 1.2 1 1.2 1 1.2 1 1.7 1 1.6 1 1.6 1 1.5 1 1.6 1 1.6 1 1.6 1 1.5 1 1.5 1 1.6 1 1.9 1 1.9 1 1.8 1 1.7 1 1.7 1 1.5 1 1.5 1 1.6 1 1.4 1 1.4 1 1.8 1 1.6 1 .8 1 .4 1 .2 1-.6 1-.8 1-.8 1-.6 1-.2 1-.1 1-.1 1 .2 1 .3 1 .2 1 .2 1 0 1 0 1-.1 1-.1 1-.2 1-.2 1-.1 1-.1 1 0 1-.1 1-.6 1-.6 1-.7 1-.8 1-1 1-1 1-1.1 1-1.3 1-1.5 1-1.5 1-1.7 1-1.5 1-1.6 1-1.6 1-1.8 1-1.7 1-1.8 1-2.3 1-2.5 1-2.5 1-1.9 1-1 1-.6 1-.5 1-.9 1-1.4 1-1.9 1-2.1 1-2 1-2.1 1-2.3 1-2.1 1-1.9 1-1.6 1-1.4 1-1.3 1-1.1 1-1.2 1-1 1-.8 1-.7 1-.5 1-.6 1-.5 1-.3 1 0 1 0 1-.1 1 0 1-.2 1-.2 1-.3 1-.2 1-.1 1-.1 1-.1 1-.1 1 0 1 .2 1 .4 1 .3 1 .5 1 .4 1 .3 1 .3 1 .2 1 .2 1 .2 1 .1 1 0 1-.1 1-.1 1-.1 1 0 1-.1 1-.1 1-.3 1-.3 1-.4 1-.4 1-.2 1 0 1 .1 1 .2 1 .4 1 .3 1 .1 1-.3 1-.3 1-.2 1 .2 1 .1 1 .3 1 .3 1 .5 1 .6 1 .6 1 .5 1 .3 1 0 1-.1 1-.4 1-.4 1-.4 1-.1 1-.1 1 0 1-.1 1-.1 1-.1 1-.1 1 0 1 .1 1 0 1-.2 1-.3 1-.5 1-.5 1-.4 1-.2 1-.1 1-.1 1 0 1-.2 1-.2 1-.3 1-.2 1 0 1 .1 1 .2 1 .1 1 .1 1 .1 1 0 1-.1 1-.3 1-.2 1-.3 1-.3 1-.2 1-.1 1-.1 1-.2 1-.2 1-.3 1-.4 1-.3 1-.5 1-.4 1-.5 1-.5 1-.6 1-.5 1-.5 1-.4 1-.4 1-.5 1-.6 1-.8 1-.8 1-.8 1-.6 1-.5 1-.4 1-.2 1-.1 1 0 1 0 1 .1 1 0 1 .1 1 .2 1 .2 1 .3 1 .5 1 .5 1 .5"/>
<path d="M20.3 138.6l1 .1 1 .1 1 0 1 .1 1 .1 1 0 1 .1 1 .1 1 .2 1 .2 1 .4 1 .4 1 .5 1 .5 1 .5 1 .3 1 .2 1 0 1 0 1-.2 1-.2 1-.1 1-.2 1-.1 1 .1 1 .1 1 .2 1 .2 1 0 1 0 1-.2 1-.1 1-.1 1 0 1 0 1 0 1-.1 1-.1 1 0 1-.1 1 0 1 0 1 0 1 0 1 .1 1 0 1 0 1 0 1-.3 1-.4 1-.5 1-.4 1-.2 1 .1 1 .4 1 .5 1 .5 1 .2 1 .1 1 0 1-.1 1-.2 1-.3 1-.4 1-.4 1-.5 1-.5 1-.4 1-.4 1-.3 1-.3 1-.2 1-.1 1-.1 1-.1 1-.1 1 0 1 0 1 0 1 .1 1 .1 1 .1 1 .2 1 .3 1 .3 1 .3 1 .4 1 .3 1 .1 1-.1 1-.2 1-.2 1-.1 1-.1 1 0 1-.1 1 0 1-.1 1 0 1-.5 1-.4 1-.4 1 .3 1 .8 1 .9 1 .6 1 .7 1 1 1 1.3 1 1.4 1 1.4 1 .9 1-.1 1-.7 1-1.2 1-1.3 1-1.1 1-.8 1 .8 1 2.7 1 3.9 1 3.1 1 2.1 1 1.3 1 .5 1-.3 1-1.4 1-2.4 1-2.6 1-2.1 1-1.7 1-1.7 1-1.9 1-2 1-2 1-2.3 1-2.3 1-1.8 1-1.9 1-1.9 1-1.7 1-2.3 1-2.9 1-4.2 1-4.6 1-5.2 1-3.4 1-2.2 1-2.1 1-1.3 1-.3 1 1 1 1.5 1 3.8 1 3.7 1 3 1 2.7 1 3.4 1 1 1 .6 1 .8 1 .2 1 .2 1 .6 1 1.1 1 1.3 1 1.4 1 .8 1 .4 1 .3 1 .5 1 .2 1-.1 1 0 1-.1 1-.8 1-.9 1-.7 1-.8 1-.7 1 0 1 .9 1 1.2 1 1.8 1 2.8 1 3.3 1 3.3 1 2.8 1 2.4 1 1.9 1 1.2 1 .9 1 .7 1 .8 1 1.1 1 1.3 1 1.5 1 1.3 1 1.2 1 .7 1 .6 1 .5 1 .2 1-.1 1-.5 1-.6 1-.7 1-.7 1-.6 1-.5 1-.3 1-.2 1 0 1 .1 1 .3 1 .5 1 .5 1 .3 1 .2 1 .2 1 .1 1 .3 1 .4 1 .5 1 .6 1 .6 1 .8 1 .8 1 .6 1 .4 1 .2 1 .1 1 0 1-.3 1-.5 1-.6 1-.9 1-1 1-1.1 1-1.3 1-1.5 1-2.2 1-2.8 1-2.4 1-2.3 1-2.5 1-2.4 1-1.1 1-.9 1-1.7 1-2.3 1-2.2 1-2.2 1-2.4 1-2.6 1-2.6 1-2.2 1-1.9 1-1.6 1-1.3 1-1.6 1-1.6 1-1.5 1-1.5 1-1.3 1-1.3 1-1.3 1-1.3 1-1.5 1-1.6 1-1.7 1-1.9 1-1.9 1-2 1-1.9 1-1.6 1-1.4 1-1.1 1-1 1-.7 1-.4 1-.5 1-.4 1-.5 1-.6 1-.6 1-.7 1-.9 1-.8 1-.8 1-.8 1-.6 1-.5 1-.5 1-.5 1-.4 1-.4 1-.4 1-.4 1-.2 1-.3 1-.1 1-.1 1-.2 1-.1 1-.2 1-.2 1-.3 1-.2 1-.1 1-.1 1-.2 1-.1 1-.1 1-.1 1 .2 1 .2 1 .4 1 .3 1 .3 1 .2 1 .1 1 .1 1 .2 1 .4 1 .6 1 .6 1 .7 1 .8 1 .8 1 .8 1 .7 1 .6 1 .4 1 .3 1 .5 1 .4 1 .6 1 .5 1 .4 1 .3 1 .2 1 .2 1 .2 1 .4 1 .5 1 .5 1 .6 1 .5 1 .4 1 .4 1 .6 1 .7 1 .9 1 .9 1 .7 1 .7 1 .7 1 .6 1 .6 1 .6 1 .6 1 .7 1 .6 1 .7 1 .6 1 .6 1 .7 1 .9 1 .9 1 1.2 1 1.5 1 1.4 1 1.4 1 1.4 1 1.4 1 1.4 1 1.2 1 1.3 1 1.3 1 1.7 1 1.7 1 1.8 1 2 1 1.8 1 1.6 1 1.4 1 1 1 .4 1 0 1-.1 1-.3 1-.5 1-.8 1-.8 1-1 1-1.2 1-1.1 1-.9 1-.8 1-.7 1-.7 1-.6 1-.5 1-.1 1 0 1 .2 1 .3 1 .3 1 .2 1 .1 1-.1 1-.1 1 .1 1 .3 1 .4 1 .5 1 .6 1 .7 1 .6 1 .5 1 .3 1 .3 1 .1 1 .2 1 .2 1 .2 1 .2 1 .2 1 .4 1 .8 1 .9 1 1 1 1 1 .9 1 .9 1 .9 1 .8 1 .6 1 .5 1 .3 1 .5 1 .7 1 1 1 1.1 1 1.1 1 .8 1 .4 1 .2 1 0 1 .1 1-.1 1-.3 1-.3 1-.2 1-.1 1 .1 1 .3 1 .3 1 .2 1 .1 1 0 1 0 1 .1 1 .2 1 .4 1 .4 1 .6 1 .6 1 .8 1 .7 1 .7 1 .5 1 .4 1 .3 1 .2 1 .2 1 .2 1 .2 1 .2 1 .3 1 .2 1 .2 1 .2 1 .1 1 .1 1 .1 1 .2 1 .2 1 .2 1 0 1-.1 1-.3 1-.3 1-.4 1-.4 1-.4 1-.3 1-.4 1-.5 1-.4 1-.3 1-.3 1-.3 1-.2 1-.2 1-.2 1-.1 1-.3 1-.2 1-.2 1-.1 1-.1 1-.1 1-.3 1-.4 1-.6 1-.7 1-.5 1-.4 1-.1 1 0 1 .1"/>
<path d="M20.3 128.6l1 .3 1 .7 1 .8 1 .7 1 .5 1 .5 1 .2 1 0 1-.3 1-.4 1-.5 1-.5 1-.3 1-.2 1 0 1 0 1 0 1 .1 1 .2 1 .2 1 .4 1 .4 1 .4 1 .5 1 .5 1 .3 1 .2 1-.1 1-.5 1-.6 1-.8 1-.8 1-.6 1-.3 1-.2 1-.1 1 .1 1 .2 1 .3 1 .3 1 .2 1 .2 1 .2 1 .1 1 0 1 0 1 0 1-.1 1-.3 1-.3 1-.5 1-.6 1-.6 1-.5 1-.4 1-.3 1-.2 1-.2 1-.2 1 0 1 .2 1 .4 1 .7 1 .7 1 .6 1 .3 1 0 1-.3 1-.5 1-.7 1-.7 1-.7 1-.6 1-.6 1-.7 1-.7 1-.5 1-.3 1 0 1 .1 1 .3 1 .3 1 .5 1 .5 1 .5 1 .5 1 .5 1 .3 1 .2 1 .1 1 0 1-.2 1-.2 1-.3 1-.3 1-.7 1-.9 1-1.1 1-1.5 1-2.8 1-2.9 1-2.9 1-1.8 1-.7 1-.7 1-1.6 1-1.5 1-.3 1 .2 1 .1 1 .1 1-.4 1-.6 1-.5 1-.4 1 .6 1 1.8 1 2.5 1 3.9 1 2.3 1 2.8 1 2.5 1 2.3 1 2.1 1 1.4 1 .3 1-.7 1-1.2 1-1.4 1-1.5 1-1.4 1-1.3 1-1.1 1-.5 1 .1 1 .3 1 .6 1 .8 1-.1 1-.8 1-1.2 1-3 1-4.6 1-7.2 1-7.9 1-8.8 1-6.3 1-4.7 1-3.9 1-2.1 1-.3 1 1.6 1 3 1 6.3 1 6.9 1 6.7 1 6.8 1 7.5 1 4.7 1 3.4 1 2.7 1 1.6 1 .8 1 .5 1 .2 1-.3 1-1 1-2 1-2.5 1-2.2 1-1.3 1 .3 1 1 1 1.5 1 1.4 1 .8 1 .1 1-.1 1-.9 1-1.7 1-1.2 1-.8 1-1.5 1-1.8 1-1.2 1-.9 1-.9 1-1.1 1-1.2 1-1.3 1-1.3 1-1.5 1-1.3 1-1 1-.8 1-.7 1-.4 1-.3 1 0 1 0 1 0 1-.1 1 0 1-.1 1 .1 1 .3 1 .5 1 .4 1 .6 1 .7 1 .9 1 1.2 1 1.2 1 1.3 1 1.4 1 1.4 1 1.5 1 1.5 1 1.6 1 1.8 1 2 1 2.1 1 2 1 1.8 1 1.4 1 1.1 1 .9 1 1 1 1 1 1 1 1.4 1 1.7 1 2.2 1 2 1 1.9 1 1.6 1 1 1 .4 1-.1 1-.5 1-.9 1-1.3 1-1.7 1-1.2 1-1.1 1-1.5 1-1.5 1-.5 1-.6 1-1.7 1-2.4 1-2.1 1-2.1 1-2.2 1-2.3 1-2.6 1-2.4 1-2.4 1-2.3 1-2.1 1-2.2 1-1.9 1-1.7 1-1.3 1-1.2 1-1.1 1-1.1 1-1.3 1-1.2 1-1.4 1-1.3 1-1.3 1-1.3 1-1.2 1-1.3 1-1.1 1-1 1-1 1-.8 1-.7 1-.3 1-.3 1-.2 1-.2 1-.1 1-.2 1-.1 1-.3 1-.3 1-.4 1-.4 1-.5 1-.5 1-.5 1-.4 1-.4 1-.2 1 0 1 0 1 .1 1 .1 1 0 1-.1 1-.2 1-.3 1-.3 1-.2 1-.3 1-.3 1-.2 1-.3 1-.1 1-.2 1-.1 1-.2 1-.2 1-.2 1-.2 1-.1 1 0 1 .1 1 .3 1 .4 1 .6 1 .8 1 .9 1 .9 1 .9 1 1 1 1.2 1 1.5 1 1.6 1 1.8 1 1.7 1 1.8 1 1.7 1 1.6 1 1.5 1 1.5 1 1.4 1 1.5 1 1.6 1 1.6 1 1.7 1 1.7 1 1.7 1 1.8 1 1.9 1 2.1 1 2.1 1 2.1 1 2 1 2 1 2 1 1.8 1 1.4 1 1.5 1 1.5 1 1.6 1 1.5 1 1.2 1 1.1 1 .9 1 .6 1 .7 1 .7 1 1.1 1 1.4 1 1.6 1 1.5 1 1.2 1 1.1 1 .7 1 .7 1 .7 1 .6 1 .4 1 .4 1 .5 1 .3 1 .4 1 .2 1 .3 1 .3 1 .3 1 .4 1 .7 1 .8 1 .7 1 .5 1 .2 1 .1 1 .3 1 .5 1 .6 1 .8 1 .8 1 .8 1 .7 1 .3 1 0 1-.2 1-.4 1-.4 1-.3 1-.3 1-.2 1-.2 1-.3 1-.2 1-.2 1 0 1 0 1 .1 1 0 1 0 1-.1 1-.2 1-.3 1-.3 1-.3 1-.5 1-.7 1-.6 1-.8 1-.7 1-.6 1-.5 1-.4 1-.2 1-.2 1 0 1-.3 1-.7 1-.8 1-.5 1-.2 1-.1 1-.1 1-.1 1 .1 1 .1 1 .1 1 0 1 0 1-.2 1-.3 1-.3 1-.1 1 .1 1 .3 1 .3 1 .1 1-.1 1-.3 1-.4 1-.5 1-.6 1-.5 1-.5 1-.4 1-.3 1-.2 1-.1 1-.1 1-.1 1-.1 1-.1 1-.1 1 .2 1 .3 1 .4 1 .3 1 .3 1 .3 1 .1 1 0 1-.1 1-.2 1-.3 1-.1 1-.1 1 .2 1 .3 1 .4 1 .5 1 .5 1 .6 1 .6 1 .7 1 .6 1 .6 1 .4 1 .3 1 .3 1 .2 1 .2 1 .1 1 0 1-.1 1-.1 1-.1 1 0 1-.2 1-.1 1-.2 1-.1 1 0 1-.1 1 0 1-.2 1-.2 1-.3 1-.3 1-.2 1-.2 1-.3 1-.5 1-.4 1-.4 1-.3 1-.2 1 .1"/>
<path d="M20.3 132.8l1 .2 1 .3 1 .2 1 0 1-.3 1-.4 1-.4 1-.4 1-.2 1-.2 1-.2 1-.3 1-.2 1-.3 1-.2 1 0 1 0 1 0 1 .1 1 0 1 .1 1 .1 1 .1 1 .2 1 .1 1 0 1-.1 1-.2 1-.3 1-.2 1-.2 1 0 1-.1 1-.2 1-.4 1-.5 1-.5 1-.3 1-.1 1 0 1 0 1 0 1 0 1-.1 1-.1 1-.1 1 0 1 0 1-.2 1-.3 1-.4 1-.6 1-.5 1-.3 1 0 1 .2 1 .3 1 .2 1 .1 1-.2 1-.2 1-.3 1-.3 1-.2 1-.1 1 0 1 .1 1 0 1-.1 1-.1 1-.2 1-.2 1 0 1 0 1 0 1 0 1-.1 1-.1 1-.1 1 0 1 .2 1 .3 1 .4 1 .4 1 .3 1 .3 1 .3 1 .3 1 .4 1 .3 1 .2 1 0 1-.3 1-.5 1-.5 1-.8 1-.8 1-.8 1-1 1-2 1-2.1 1-2.1 1-.7 1 .6 1 .6 1-.4 1-.6 1 .2 1 .4 1 .9 1 1.4 1 .5 1 .2 1 0 1-.4 1-.3 1 .1 1 .4 1 1.3 1 .3 1 1.2 1 1.1 1 1.1 1 1.4 1 1.3 1 .8 1 .2 1-.2 1-.3 1-.4 1-.2 1-.4 1-.3 1-.2 1-.1 1-.3 1-.3 1-.3 1-1.1 1-1.7 1-1.7 1-2.9 1-3.7 1-5 1-4.9 1-5 1-2.2 1-.3 1 .5 1 1.3 1 2.2 1 2.9 1 3.2 1 4.7 1 4.3 1 3.5 1 3 1 3.3 1 .9 1 .9 1 .8 1 .2 1 .1 1 .3 1 .7 1 .9 1 1.2 1 .8 1 .5 1 .1 1-.2 1-.5 1-1.1 1-.9 1-.9 1-1.4 1-1.5 1-1.5 1-2 1-2.5 1-2.4 1-2.1 1-2.3 1-2.2 1-1.4 1-.8 1-.9 1-1 1-1.2 1-1.5 1-1.9 1-2.4 1-2.5 1-2.4 1-2 1-1.6 1-1.3 1-1.2 1-1.2 1-1.5 1-1.8 1-2.2 1-2.4 1-2.4 1-2.5 1-2.2 1-2.2 1-2.1 1-2 1-1.9 1-1.7 1-1.4 1-1.4 1-1.2 1-1 1-.7 1-.6 1-.6 1-.4 1-.3 1 .1 1 .5 1 .7 1 .9 1 1.1 1 1.1 1 1.6 1 2 1 2.4 1 2.6 1 3.2 1 3.9 1 4.4 1 4.5 1 4.7 1 4.8 1 4.4 1 3.8 1 3.6 1 3.5 1 3.4 1 3.1 1 3.2 1 3 1 2.4 1 1.5 1 1 1 1.6 1 1.5 1 .5 1 0 1 .2 1 .3 1 .4 1 .4 1 .4 1 .6 1 .7 1 .7 1 .5 1-.3 1-.5 1-.7 1-.8 1-.8 1-.7 1-.7 1-.7 1-.7 1-.8 1-1 1-1 1-1.1 1-1.2 1-1.2 1-1.1 1-1.2 1-1.3 1-1.4 1-1.3 1-.6 1-.7 1-.9 1-.9 1-.9 1-1 1-1.2 1-1.3 1-1.4 1-1.6 1-1.6 1-1.5 1-1.4 1-1.2 1-1.1 1-1 1-.9 1-1 1-1 1-1.2 1-1.4 1-1.4 1-1.6 1-1.6 1-1.8 1-1.8 1-1.6 1-1.5 1-1.2 1-.8 1-.6 1-.4 1-.4 1-.3 1-.5 1-.6 1-.6 1-.6 1-.6 1-.5 1-.4 1-.2 1 0 1 .2 1 .4 1 .4 1 .3 1 .2 1 .3 1 .5 1 .8 1 .8 1 .8 1 .8 1 .8 1 .9 1 1 1 1.1 1 1 1 1 1 1.1 1 1 1 1 1 .9 1 .8 1 .9 1 .9 1 1 1 1.1 1 1.3 1 1.4 1 1.3 1 1.4 1 1.3 1 1.2 1 .7 1 .7 1 .7 1 .6 1 .5 1 .3 1 .4 1 .3 1 .4 1 .3 1 .4 1 .4 1 .6 1 .7 1 .6 1 .9 1 1.1 1 1 1 1.1 1 1.1 1 1 1 1.2 1 1.2 1 1.4 1 1.6 1 2 1 2 1 2.4 1 2.4 1 2.3 1 2.1 1 1.9 1 1.7 1 1.4 1 1.3 1 1.2 1 1 1 1 1 .8 1 .9 1 1 1 1.1 1 1.1 1 1.1 1 .8 1 .6 1 .4 1 .1 1 0 1-.1 1 .1 1 .2 1 .2 1 .1 1 0 1-.1 1-.1 1 0 1 .1 1 .1 1 .1 1 0 1-.2 1-.2 1-.4 1-.4 1-.3 1-.1 1 0 1 .1 1 0 1-.1 1-.2 1-.3 1-.4 1-.3 1-.4 1-.6 1-1.1 1-1.1 1-.6 1-.2 1 0 1-.1 1-.2 1-.2 1-.1 1 0 1 .1 1 .1 1 .1 1-.1 1-.3 1-.3 1-.4 1-.4 1-.3 1-.3 1-.2 1-.1 1-.2 1-.2 1-.3 1-.4 1-.4 1-.4 1-.4 1-.3 1-.4 1-.2 1-.3 1-.2 1-.1 1-.1 1 0 1 .2 1 .2 1 .1 1-.1 1-.1 1-.3 1-.3 1-.2 1-.2 1-.2 1-.2 1-.2 1-.2 1 0 1 0 1 .1 1 .1 1 .1 1 .1 1-.1 1 0 1-.1 1-.1 1-.1 1 0 1 .1 1 .1 1 0 1 0 1-.2 1-.1 1-.1 1 0 1-.2 1-.1 1-.1 1-.2 1-.1 1-.2 1-.2 1-.1 1-.1 1 .1 1 .2 1 .2 1 .3 1 .2 1 0 1 .1 1 .1 1 .2 1 .2 1 .2"/>
<path d="M20.3 143l1 .1 1 0 1 0 1 0 1 .1 1 .1 1 0 1 0 1 0 1 0 1 .2 1 .2 1 .3 1 .3 1 .3 1 .2 1 0 1-.1 1-.2 1-.2 1-.1 1 0 1 0 1 .1 1 .1 1 .1 1 .1 1 0 1 0 1 0 1 .1 1 .2 1 .2 1 .3 1 .2 1 .1 1 0 1 0 1-.1 1 0 1 0 1-.1 1-.1 1-.3 1-.2 1-.3 1-.2 1-.2 1-.1 1-.1 1 0 1-.1 1-.1 1 .1 1 .2 1 .4 1 .5 1 .4 1 .3 1 .2 1 0 1-.2 1-.3 1-.4 1-.4 1-.6 1-.5 1-.5 1-.4 1-.2 1-.1 1 .1 1 .1 1 .1 1 .1 1 0 1 0 1 0 1 0 1 .1 1 .1 1 .2 1 .1 1 .2 1 .2 1 .1 1 0 1 0 1-.1 1 0 1 0 1 0 1-.1 1-.2 1-.2 1-.2 1-.1 1 .2 1 .3 1 .2 1 .5 1 .5 1 .8 1 .8 1 .7 1 .4 1 .5 1 .5 1 0 1-.1 1 .5 1 .6 1 .6 1 .8 1 1.4 1 2.1 1 2.9 1 3 1 3.4 1 5.3 1 5.3 1 3 1 .4 1-1.6 1-3.4 1-4.6 1-6 1-6.8 1-6.1 1-4.1 1-2.1 1-.4 1 .6 1 1.7 1 2.3 1 2.3 1 2.3 1 2.7 1 2.3 1 2.1 1 1.5 1 .9 1 .3 1-.1 1-.4 1-.7 1-.3 1 .5 1-.1 1-1.6 1-1.6 1-.6 1-.3 1 .5 1 .4 1 .3 1-.3 1-.4 1-1.6 1-.4 1-.3 1-1.2 1-1.8 1-1.7 1-1.5 1-1.2 1-.2 1 0 1 .5 1 .4 1-.1 1 .4 1 .3 1 .8 1 1.9 1 2.3 1 2.3 1 .5 1 .1 1 .1 1 .3 1 .3 1 .4 1 .4 1-.1 1 .6 1 1.1 1 1.4 1 1.8 1 2.1 1 2.4 1 2.4 1 2.4 1 2.1 1 1.7 1 1.6 1 1.6 1 1.7 1 1.9 1 2 1 2.2 1 2.2 1 1.9 1 1.4 1 1.1 1 .9 1 .8 1 .7 1 .5 1 .5 1 .4 1 .5 1 .4 1 .4 1 .3 1 .3 1 .2 1 .1 1 0 1-.2 1-.1 1-.3 1-.2 1-.3 1-.4 1-.4 1-.6 1-.6 1-.9 1-1.2 1-1.6 1-1.7 1-2 1-2.1 1-2.2 1-2.4 1-2.8 1-2.8 1-2.7 1-2.7 1-2.6 1-2.7 1-3.4 1-2.9 1-2.3 1-2.2 1-1.9 1-.5 1 .7 1 .6 1 .5 1 .5 1 .7 1 .7 1 1.1 1 .9 1 1.3 1 1.6 1 1.9 1 1.7 1 1.5 1 1.5 1 1.3 1 1.2 1 1.1 1 1.1 1 1.3 1 1.5 1 1.5 1 1.6 1 1.4 1 1.2 1 1.2 1 1 1 1.1 1 .9 1 .8 1 .4 1 0 1 0 1 .2 1 .4 1 0 1 .1 1 .2 1 .2 1 .3 1 .2 1 .2 1 .1 1 .1 1 .2 1 .1 1 0 1 .1 1 .1 1 .1 1 0 1-.1 1 .1 1 .4 1 .4 1 .4 1 .3 1 .3 1 .4 1 .4 1 .4 1 .3 1 .3 1 .5 1 .3 1 .3 1 .1 1 0 1-.2 1-.2 1 0 1 .1 1 .4 1 .9 1 .9 1 .3 1 0 1 0 1-.7 1-.9 1-1 1-.9 1-.8 1-.9 1-.8 1-.4 1-.1 1 .2 1 .5 1 .8 1 .8 1 .8 1 .7 1 .4 1 .2 1 0 1 0 1 0 1 0 1-.3 1-.2 1-.4 1-.4 1-.6 1-.7 1-.7 1-.8 1-.8 1-1 1-1 1-1.1 1-1.1 1-1.4 1-1.7 1-1.8 1-2 1-2.6 1-2.9 1-2.7 1-2.2 1-1 1-.4 1-.1 1-.6 1-1.1 1-1.6 1-2.1 1-2.2 1-2.4 1-2.6 1-2.5 1-2.2 1-2.3 1-2.1 1-2.1 1-1.8 1-1.6 1-1.2 1-.9 1-.6 1-.5 1-.7 1-.9 1-.7 1-.8 1-1.1 1-1.3 1-1.3 1-1.4 1-1.3 1-1.2 1-.9 1-.6 1-.6 1-.4 1-.4 1-.2 1-.1 1 0 1-.1 1 0 1-.1 1 0 1 0 1 .1 1 .1 1 .3 1 .2 1 0 1-.1 1-.1 1-.2 1-.1 1-.1 1 .1 1 .1 1 .2 1 .1 1 .2 1 .1 1 .2 1 .2 1 .2 1 .6 1 .7 1 .7 1 .6 1 .5 1 .3 1 .2 1 .3 1 .5 1 .6 1 .6 1 .7 1 .6 1 .5 1 .5 1 .3 1 .3 1 .2 1 .2 1 .1 1 0 1-.2 1-.5 1-.7 1-.8 1-.6 1-.5 1-.4 1-.3 1-.2 1-.2 1-.4 1-.3 1-.4 1-.1 1-.1 1 0 1 .1 1 .1 1 0 1 0 1-.2 1-.2 1-.4 1-.4 1-.5 1-.6 1-.5 1-.3 1-.3 1-.3 1-.4 1-.3 1-.3 1-.3 1-.3 1-.1 1 0 1 .2 1 .3 1 .4 1 .2 1 .2 1 .1 1 0 1 0 1 .1 1-.1 1 0 1 0 1 .1 1 .4 1 .5 1 .4 1 .4 1 .3 1 .3 1 .2 1 .1 1 .3 1 .4 1 .6 1 .9 1 .9 1 1 1 .9 1 .8 1 .5 1 .5 1 .4 1 .5 1 .4 1 .2"/>
<path d="M20.3 141.1l1 .2 1 .4 1 .6 1 .6 1 .5 1 .4 1 .2 1 .1 1 .1 1 .1 1 .2 1 .2 1 .3 1 .2 1 .1 1-.1 1-.3 1-.4 1-.3 1-.2 1 .1 1 .4 1 .4 1 .4 1 .2 1 0 1-.1 1-.1 1 0 1 .1 1 .2 1 .1 1 .1 1 .1 1 0 1 0 1 0 1 0 1 0 1-.2 1-.1 1-.2 1-.2 1-.2 1 0 1 0 1 .2 1 .1 1 .1 1 .1 1-.1 1 0 1-.1 1 0 1 .1 1 .1 1 .1 1 0 1 0 1-.2 1-.2 1-.3 1-.3 1-.3 1-.3 1-.2 1-.1 1 0 1 .1 1 .1 1 .2 1 .1 1 0 1-.1 1-.2 1-.2 1-.2 1 0 1 0 1 0 1 0 1-.2 1-.2 1-.3 1-.2 1 0 1 .1 1 .1 1 .2 1 .2 1 .1 1 .1 1 0 1 .1 1 0 1 0 1 0 1-.1 1 0 1-.4 1-.3 1-.2 1 0 1 .4 1 .4 1 .2 1 .3 1 .4 1 .2 1 .2 1 .8 1 .8 1 .5 1 .5 1 .9 1 1.4 1 2 1 2.2 1 2.9 1 4.5 1 4.9 1 3.1 1 1 1-.7 1-2.2 1-3.4 1-4.8 1-5.6 1-5.2 1-3.5 1-1.7 1-.4 1 .4 1 1.3 1 1.6 1 1.5 1 1.6 1 2.2 1 2.3 1 2.8 1 3 1 3 1 3 1 3.2 1 3.3 1 3.3 1 3.3 1 3.9 1 2.6 1-.4 1-1.3 1-1.2 1-1.6 1-1.9 1-2.5 1-3 1-3.7 1-4.7 1-4.9 1-1.9 1-.5 1-.4 1-1.3 1-1 1-.8 1-.8 1 0 1-.5 1-.8 1-1.6 1-2.2 1-1.7 1-1.4 1-.6 1 .7 1 1.1 1 1 1 1.1 1 .8 1 .3 1-.1 1-.1 1-.2 1 .3 1 1.1 1 1.8 1 2 1 2 1 2.1 1 2 1 1.9 1 2 1 2.2 1 2.2 1 2.3 1 2.2 1 2.4 1 2.2 1 2 1 1.5 1 1.4 1 1.3 1 .8 1 .3 1 0 1 0 1 .1 1 .1 1 .2 1 .1 1-.1 1-.2 1-.5 1-.7 1-.7 1-.7 1-.9 1-1.2 1-1.5 1-1.5 1-1.5 1-1.4 1-1.2 1-1.3 1-1.4 1-1.6 1-1.6 1-1.7 1-1.9 1-2 1-2 1-2 1-1.8 1-2 1-2 1-1.9 1-1.9 1-1.7 1-1.7 1-1.6 1-1.7 1-2.2 1-2.5 1-2.1 1-1.9 1-2 1-1.9 1-.7 1-.7 1-1.9 1-2.8 1-2.8 1-3 1-3.4 1-3.5 1-3.6 1-3.2 1-3 1-2.7 1-2.3 1-2.1 1-2 1-1.8 1-1.6 1-1.4 1-1.2 1-1.1 1-.9 1-.8 1-.8 1-.8 1-.9 1-.9 1-1 1-.9 1-.8 1-.8 1-.7 1-.5 1-.5 1-.5 1-.4 1-.5 1-.5 1-.5 1-.4 1-.5 1-.3 1-.2 1-.1 1 0 1 .1 1 .3 1 .4 1 .6 1 .8 1 1 1 1 1 1 1 1 1 1 1 1 1 1 1 1 1 1.1 1 1.2 1 1.2 1 1.2 1 1.2 1 1.1 1 1.1 1 .8 1 .7 1 .6 1 .5 1 .5 1 .4 1 .3 1 .2 1 .2 1 .2 1 .2 1 .1 1 .2 1 0 1-.1 1-.3 1-.4 1-.3 1 0 1 .4 1 .4 1 .3 1 .1 1 0 1 0 1 0 1-.1 1 0 1-.2 1-.3 1-.3 1-.3 1-.2 1-.1 1-.1 1-.1 1 0 1 0 1 .2 1 .3 1 .6 1 .7 1 .7 1 .7 1 .3 1 .2 1 .3 1 .3 1 .4 1 .7 1 .8 1 1.1 1 1 1 .8 1 .8 1 .6 1 .7 1 .9 1 .9 1 1.1 1 1.5 1 1.5 1 1.5 1 1.6 1 1.5 1 1.4 1 1.3 1 1.5 1 1.7 1 2 1 2.2 1 2.4 1 2.5 1 2.4 1 2.2 1 1.9 1 1.7 1 1.3 1 1.1 1 .9 1 1 1 .7 1 .7 1 .5 1 .4 1 .5 1 .5 1 .5 1 .4 1 .3 1 .2 1 .2 1 .1 1 .3 1 .4 1 .4 1 .3 1 .3 1 .3 1 .2 1 .1 1 0 1 0 1 0 1-.1 1 0 1 .1 1 .2 1 .2 1 .3 1 .1 1 .1 1-.1 1 0 1 0 1 .3 1 .3 1 .4 1 .4 1 .2 1 .1 1-.2 1-.9 1-1.1 1-.7 1-.2 1-.1 1 .1 1 .2 1 .2 1 .3 1 .2 1 .1 1 0 1-.1 1-.2 1-.2 1-.2 1-.3 1-.2 1 0 1 0 1-.1 1 0 1 .1 1 .1 1 .1 1 .2 1 0 1 .1 1 0 1 .1 1 .2 1 .2 1 .3 1 .3 1 .3 1 .3 1 .3 1 .1 1 .1 1 .1 1 .2 1 .3 1 .3 1 .3 1 .1 1 0 1 0 1 .1 1 0 1-.1 1 0 1-.1 1 0 1 0 1 .1 1 .1 1-.1 1-.1 1-.3 1-.3 1-.2 1-.2 1-.1 1-.1 1-.2 1-.3 1-.4 1-.6 1-.7 1-.7 1-.9 1-.9 1-.7 1-.7 1-.6 1-.6 1-.6 1-.6 1-.5 1-.5 1-.3 1-.3 1-.1 1-.2 1-.1 1-.2 1-.2 1-.2 1-.1 1-.1"/>
<path d="M20.3 132.5l1 0 1 .1 1 .5 1 .3 1 .2 1 .1 1 0 1-.1 1-.1 1-.2 1-.3 1-.3 1-.2 1 0 1 0 1 0 1 0 1-.1 1-.2 1 0 1 .1 1 .4 1 .5 1 .5 1 .5 1 .3 1 0 1 0 1-.3 1-.2 1-.3 1-.3 1-.1 1-.2 1-.2 1-.1 1-.1 1-.2 1-.1 1-.1 1-.1 1-.2 1-.1 1-.1 1 0 1-.1 1 0 1-.1 1-.1 1-.2 1-.2 1-.1 1-.1 1 0 1 .2 1 .1 1 0 1-.1 1-.2 1-.3 1-.2 1-.1 1 .2 1 .4 1 .4 1 .5 1 .3 1 .2 1 .1 1-.1 1-.2 1-.2 1-.1 1 0 1-.1 1-.1 1-.2 1-.1 1-.1 1 .1 1 .2 1 .5 1 .7 1 .8 1 .9 1 .9 1 .9 1 .6 1 .4 1 .2 1 .2 1 .2 1 .3 1 .2 1 .1 1-.1 1-.2 1-.1 1-.2 1-.5 1-.4 1-.2 1 .3 1 .9 1 .9 1 .5 1 .4 1 .6 1 .9 1 1.1 1 1.6 1 1.1 1 .4 1-.2 1-.5 1-.6 1-.5 1-.2 1 1.2 1 2.8 1 3.7 1 2.7 1 1.6 1 .8 1 0 1-.6 1-1.9 1-2.7 1-2.9 1-2.4 1-1.9 1-1.6 1-1.5 1-1.2 1-1.1 1-1.2 1-1.2 1-.6 1-.8 1-.6 1-.2 1-.6 1-.9 1-1.7 1-1.8 1-1.9 1-.5 1 .8 1 .5 1-.2 1-.2 1 .4 1 .5 1 1.7 1 1.4 1 .9 1 .5 1 .8 1-.9 1-.1 1 .3 1-.1 1 0 1 .5 1 .8 1 .9 1 1.1 1 .2 1-.6 1-1.3 1-1.5 1-1.6 1-2 1-1.6 1-1.6 1-2.1 1-2.2 1-2 1-2.3 1-2.1 1-2 1-1.9 1-2.1 1-1.9 1-.7 1-.2 1-.3 1-.6 1-.9 1-1.2 1-1.4 1-1.8 1-1.8 1-1.7 1-1.4 1-1.2 1-1.1 1-1.2 1-1.2 1-1.4 1-1.7 1-1.8 1-2 1-2.2 1-2.2 1-2.2 1-2.2 1-2.2 1-2.1 1-1.8 1-1.7 1-1.4 1-1.2 1-1.1 1-.8 1-.3 1-.1 1 0 1 .2 1 .2 1 .4 1 .5 1 .6 1 .7 1 .7 1 .8 1 1.2 1 1.9 1 2.2 1 2.4 1 2.9 1 3.3 1 3.8 1 3.8 1 4.1 1 4.3 1 4.3 1 3.8 1 3.6 1 3.5 1 3.2 1 2.8 1 2.7 1 2.4 1 1.9 1 .9 1 .7 1 1.6 1 1.5 1 .6 1 .2 1 .3 1 .5 1 .4 1 .3 1 0 1 .2 1 .2 1 .2 1 0 1-.6 1-.8 1-.8 1-.9 1-1 1-1.1 1-1.1 1-1.3 1-1.3 1-1.2 1-1.1 1-1.1 1-1.1 1-1.1 1-1.3 1-1.4 1-1.5 1-1.6 1-1.7 1-1.6 1-1.2 1-1.2 1-1.6 1-1.5 1-1.6 1-1.4 1-1.3 1-1.1 1-.9 1-.8 1-.8 1-1 1-1 1-1.1 1-1.2 1-1.1 1-1.1 1-1.1 1-1.1 1-1.3 1-1.2 1-1.2 1-1.1 1-.9 1-.7 1-.9 1-.9 1-1.1 1-1.2 1-1.1 1-.9 1-.6 1-.3 1-.1 1 .1 1 .2 1 .1 1 0 1-.1 1-.3 1-.3 1-.1 1-.1 1 .1 1 .2 1 .3 1 .4 1 .5 1 .6 1 .9 1 1.2 1 1.2 1 1.3 1 1.2 1 1 1 .9 1 .8 1 .9 1 .8 1 .9 1 .7 1 .6 1 .5 1 .4 1 .5 1 .7 1 .8 1 .8 1 .9 1 1 1 1 1 1.3 1 1.4 1 1.6 1 1.6 1 1.2 1 1.1 1 1.2 1 1 1 .9 1 .7 1 .5 1 .3 1 .2 1 .2 1 .2 1 .4 1 .7 1 1 1 1.1 1 1.3 1 1.3 1 1.1 1 .9 1 .8 1 .8 1 .9 1 1 1 1.1 1 1.1 1 1.5 1 1.4 1 1.6 1 1.7 1 1.7 1 1.6 1 1.5 1 1.3 1 .7 1 .5 1 .5 1 .3 1 .1 1-.2 1-.2 1-.4 1-.6 1-.7 1-.6 1-.5 1-.4 1-.3 1-.2 1-.1 1 .1 1 .2 1 .1 1 0 1-.2 1-.2 1-.3 1-.2 1-.1 1 0 1-.1 1-.1 1-.3 1-.2 1-.2 1 0 1 0 1-.1 1-.1 1-.1 1-.1 1-.2 1-.1 1 .1 1 .3 1 .4 1 .8 1 .7 1 .7 1 .4 1 .3 1 .3 1 .5 1 .5 1 .5 1 .4 1 .3 1 .2 1 .3 1 .3 1 .5 1 .5 1 .3 1 .1 1 .1 1 .1 1 .1 1 .1 1 0 1-.2 1-.2 1-.3 1-.3 1-.3 1-.3 1-.3 1-.2 1-.3 1-.2 1-.1 1 .1 1 .1 1 .2 1 .2 1 .3 1 .3 1 .3 1 .4 1 .4 1 .4 1 .5 1 .4 1 .4 1 .3 1 .4 1 .4 1 .4 1 .4 1 .6 1 .7 1 .8 1 .8 1 .7 1 .4 1 .2 1 0 1 0 1 .1 1 .2 1 .4 1 .5 1 .5 1 .3 1 .3 1 0 1 0 1 0 1 0 1 .1 1-.1 1 .1 1 .1 1 0 1 .1 1 .2 1 .3 1 .5 1 .5 1 .5 1 .5 1 .3 1 0 1 0 1-.3 1-.3 1-.2 1-.1 1-.1 1 0"/>
<path d="M20.3 130.2l1 .4 1 .5 1 .6 1 .6 1 .5 1 .4 1 .2 1 .2 1 0 1 .1 1 .1 1 .1 1 .4 1 .4 1 .4 1 .4 1 .2 1 .1 1 0 1 .1 1 .1 1 .3 1 .3 1 .4 1 .3 1 .3 1 .3 1 .2 1 .1 1 0 1 .1 1 0 1 0 1 0 1 0 1 0 1 .1 1 .1 1 .1 1-.1 1-.1 1-.2 1-.2 1-.3 1-.2 1-.2 1-.1 1-.1 1 0 1 0 1 .1 1 .1 1 .2 1 .3 1 .4 1 .5 1 .4 1 .3 1 .2 1 .1 1-.1 1 0 1-.1 1-.1 1-.1 1-.1 1-.1 1-.3 1-.3 1-.3 1-.3 1-.3 1-.3 1-.4 1-.4 1-.5 1-.4 1-.3 1-.1 1 .1 1 .2 1 .3 1 .3 1 .3 1 .2 1 0 1-.1 1-.3 1-.2 1-.2 1-.1 1 0 1 .2 1 .1 1 .1 1-.1 1-.5 1-.7 1-1 1-1.8 1-1.8 1-1.5 1-.5 1 .6 1 .6 1 .1 1-.2 1 0 1 0 1 .3 1 .9 1 .5 1 .3 1 .4 1 .2 1 .2 1 .4 1 .3 1 .9 1 1 1 1.8 1 1.1 1 .6 1 .2 1-.2 1-.6 1-1.2 1-1.5 1-1.3 1-.5 1 0 1 .4 1 .4 1 .7 1 .4 1-.1 1-.5 1-.4 1-1.2 1-1.4 1-1.1 1-1.7 1-1.9 1-2.3 1-1.8 1-1.4 1 .9 1 2.8 1 3.3 1 3.1 1 3.4 1 3.9 1 3.4 1 3.7 1 2.4 1 1.1 1-.1 1-.7 1-2.3 1-1.1 1-.2 1-.4 1-.1 1 .8 1 1.5 1 2.3 1 3.6 1 3.5 1 3.2 1 2.1 1 .2 1-.5 1-1.6 1-2 1-1.4 1-1.3 1-1.4 1-1.1 1-1.2 1-1.2 1-.9 1-.6 1-.2 1 .6 1 1.6 1 2.2 1 2.3 1 2 1 1.8 1 1.4 1 .9 1 .8 1 .9 1 1 1 1.2 1 1.5 1 1.6 1 1.6 1 1.6 1 1.4 1 1.7 1 1.9 1 1.7 1 1.2 1 .8 1 .8 1 .8 1 .9 1 1.1 1 1.3 1 1.3 1 1.2 1 1 1 .7 1 .6 1 .5 1 .4 1 .3 1 0 1-.1 1-.2 1-.3 1-.4 1-.4 1-.5 1-.5 1-.4 1-.4 1-.5 1-.5 1-.7 1-.8 1-1.2 1-1.8 1-2.1 1-2.6 1-2.9 1-2.7 1-2.6 1-2.6 1-2.8 1-3.4 1-4.2 1-3.4 1-2.9 1-2.8 1-2.5 1-1.2 1-.6 1-.9 1-1 1-.8 1-.5 1-.3 1-.2 1-.3 1 .1 1 .4 1 .7 1 .9 1 .5 1 .7 1 .8 1 .8 1 .8 1 .5 1 .5 1 .3 1 .2 1 .1 1-.1 1-.1 1-.1 1-.1 1-.1 1-.1 1-.5 1-.8 1-1.2 1-1.3 1-.9 1-1.1 1-1.5 1-1.7 1-2 1-2.1 1-2.1 1-2 1-2.1 1-2 1-2.1 1-1.9 1-2.1 1-2 1-2 1-2 1-1.9 1-1.9 1-1.7 1-1.6 1-1.6 1-1.7 1-1.8 1-1.8 1-1.9 1-1.8 1-1.6 1-1.6 1-1.4 1-1.3 1-1.2 1-1 1-.9 1-.7 1-.4 1-.1 1 .2 1 .4 1 .4 1 .2 1 0 1-.1 1-.2 1 0 1 .2 1 .3 1 .4 1 .6 1 .8 1 1.3 1 1.7 1 1.9 1 1.9 1 1.8 1 1.8 1 1.7 1 1.9 1 2 1 2.3 1 2.5 1 2.7 1 2.5 1 2.4 1 2 1 1.9 1 1.6 1 1.4 1 1.5 1 1.7 1 1.8 1 1.8 1 1.8 1 1.7 1 1.5 1 1.2 1 .5 1 .5 1 .4 1 .5 1 .5 1 .3 1 .4 1 .2 1-.1 1-.4 1-.5 1-.4 1 .1 1 .3 1 .2 1 0 1-.3 1-.5 1-.6 1-.4 1-.5 1-.5 1-.5 1-.6 1-.6 1-.6 1-.5 1-.3 1 0 1 .1 1 .2 1 .3 1 .3 1 0 1-.1 1 0 1-.2 1-.4 1-.8 1-.9 1-1.1 1-1 1-.9 1-.6 1-.3 1-.1 1-.2 1-.1 1-.1 1 0 1 .1 1 .1 1 .1 1 .2 1 .2 1 0 1-.1 1 0 1 .2 1 .2 1 .4 1 .5 1 .6 1 .5 1 .4 1 .3 1 .2 1 .2 1 .3 1 .4 1 .6 1 .7 1 .7 1 .6 1 .6 1 .6 1 .5 1 .5 1 .1 1 .1 1 .2 1 .3 1 .3 1 .4 1 .3 1 .4 1 .5 1 .5 1 .6 1 .5 1 .5 1 .4 1 .2 1 .1 1 .1 1 .1 1 .2 1 .2 1 .1 1 .1 1 0 1-.1 1-.2 1-.2 1-.2 1-.1 1-.1 1 0 1 .1 1 .1 1 .1 1 0 1-.1 1-.2 1-.1 1 0 1 .1 1 .2 1 .1 1 .1 1 0 1-.2 1-.1 1-.2 1-.2 1-.3 1-.4 1-.6 1-.7 1-.7 1-.6 1-.5 1-.5 1-.4 1-.4 1-.5 1-.5 1-.5 1-.4 1-.5 1-.5 1-.5 1-.7 1-.8 1-.9 1-.9 1-1 1-.9 1-1 1-.9 1-.9 1-.6 1-.5 1-.4 1-.2 1-.1 1 0 1 0 1 .2 1 .2 1 .2 1 .2 1 .1 1 .1 1 .1 1 .2 1 .4 1 .4"/>
<path d="M20.3 138.9l1 .3 1 .5 1 .4 1 .4 1 .3 1 .3 1 .1 1 .1 1-.2 1-.3 1-.5 1-.5 1-.4 1-.2 1 0 1 .1 1 0 1-.1 1-.4 1-.5 1-.6 1-.5 1-.3 1-.1 1 0 1 0 1 0 1-.2 1-.3 1-.4 1-.4 1-.3 1-.2 1-.2 1-.1 1-.2 1-.2 1-.1 1-.1 1 0 1 0 1 0 1 0 1 0 1 .1 1 .1 1 .1 1-.1 1-.3 1-.4 1-.5 1-.4 1-.2 1-.2 1 0 1-.1 1-.2 1-.2 1-.2 1 .1 1 .2 1 .3 1 .3 1 .3 1 .2 1 .1 1 .1 1 0 1 0 1 0 1 0 1-.2 1-.2 1-.4 1-.4 1-.3 1-.3 1-.1 1-.1 1 0 1 .2 1 .2 1 .4 1 .3 1 .3 1 .1 1 .2 1 .2 1 .3 1 .6 1 .7 1 .8 1 .5 1 .3 1 0 1-.2 1-.5 1-.4 1-.4 1-.9 1-.6 1-.4 1 .4 1 1.1 1 1.3 1 .7 1 .7 1 .8 1 .8 1 1.1 1 1.9 1 1.8 1 1.5 1 1.3 1 1.3 1 1.3 1 1.4 1 1.1 1 1.5 1 3.2 1 3.9 1 2.5 1 .9 1-.4 1-1.5 1-2.2 1-3.3 1-3.9 1-3.4 1-2 1-.6 1 .1 1 .4 1 .6 1 .5 1 .1 1-.4 1-.1 1-.6 1-.8 1-1.1 1-1.9 1-2.5 1-3.6 1-4.2 1-4.7 1-3.5 1-2.2 1-2.1 1-2 1-.9 1 .5 1 1.2 1 3.1 1 3 1 2.3 1 1.7 1 1.8 1-.5 1-.9 1-1.1 1-1.9 1-2.2 1-1.9 1-1.4 1-.9 1-.3 1-.3 1 .2 1 .8 1 1.6 1 2.2 1 2 1 2.4 1 2.1 1 .9 1 .2 1-.3 1-1.1 1-1.8 1-1.7 1-1 1-.4 1 .6 1 2 1 3 1 3.5 1 3.5 1 3.3 1 2.8 1 2.1 1 1.6 1 1.3 1 1.1 1 1.1 1 1.5 1 1.5 1 1.4 1 1.3 1 1 1 .9 1 1.1 1 .8 1 .4 1 .2 1 0 1-.1 1-.1 1 0 1 .2 1 .4 1 .6 1 .9 1 .9 1 1.2 1 1.1 1 1 1 .7 1 .6 1 .6 1 .6 1 .8 1 .8 1 .7 1 .5 1 .3 1 .1 1 0 1 0 1-.2 1-.1 1-.1 1-.1 1-.4 1-.6 1-.9 1-1.5 1-1.6 1-1.9 1-2.2 1-2.5 1-3.1 1-3.9 1-3.4 1-2.9 1-3 1-2.7 1-1.4 1-1 1-1.7 1-2.4 1-2.5 1-2.7 1-3.1 1-3.3 1-3.5 1-3.1 1-2.8 1-2.5 1-2.3 1-2.7 1-2.6 1-2.6 1-2.6 1-2.5 1-2.5 1-2.4 1-2.3 1-1.9 1-1.6 1-1.3 1-1.1 1-1 1-1.2 1-1.1 1-1.3 1-1.2 1-1.3 1-1.1 1-1.1 1-.7 1-.7 1-.7 1-.6 1-.6 1-.6 1-.5 1-.4 1-.5 1-.5 1-.7 1-.7 1-.7 1-.6 1-.4 1-.1 1 0 1 .2 1 .1 1 .1 1 .1 1 .2 1 .2 1 .3 1 .2 1 .3 1 .2 1 .3 1 .4 1 .4 1 .6 1 .7 1 .8 1 .9 1 1.1 1 1.4 1 1.5 1 1.7 1 1.8 1 1.8 1 1.7 1 1.7 1 1.6 1 1.5 1 1.7 1 1.6 1 1.7 1 1.7 1 1.8 1 2.1 1 2.6 1 2.6 1 2.8 1 3 1 3.1 1 3 1 2.7 1 2.4 1 2.1 1 1.9 1 1.8 1 1.8 1 1.8 1 1.8 1 2 1 1.9 1 1.9 1 1.9 1 1.9 1 1.7 1 1.7 1 1.5 1 1.6 1 1.8 1 1.6 1 1.3 1 1.3 1 1.2 1 1 1 .7 1 .2 1-.1 1-.4 1-.9 1-1.2 1-1.1 1-.7 1 0 1 .5 1 .6 1 .2 1-.2 1-.6 1-.9 1-.8 1-.8 1-.8 1-.7 1-.4 1-.3 1-.1 1-.1 1-.2 1-.2 1-.3 1-.1 1 .3 1 .4 1 .5 1 .5 1 .2 1 .3 1 .2 1 .2 1 .2 1 .1 1 .2 1 .2 1 .3 1 .3 1 .3 1 .3 1 .1 1-.2 1-.2 1-.1 1-.2 1-.1 1-.2 1-.2 1-.4 1-.6 1-.5 1-.5 1-.5 1-.4 1-.4 1-.4 1-.4 1-.4 1-.5 1-.4 1-.4 1-.3 1-.3 1-.4 1-.3 1-.3 1-.2 1-.2 1 0 1 0 1-.3 1-.6 1-.8 1-.5 1-.3 1-.2 1-.4 1-.4 1-.4 1-.3 1-.2 1 0 1 .1 1 .1 1 .1 1-.1 1-.1 1-.1 1 0 1 0 1-.1 1-.2 1-.3 1-.3 1-.3 1-.4 1-.3 1-.4 1-.4 1-.5 1-.5 1-.4 1-.3 1-.2 1 0 1 .1 1 .1 1 .2 1 .1 1 .1 1-.1 1-.2 1-.4 1-.4 1-.3 1-.2 1 .1 1 0 1 0 1-.2 1-.3 1-.3 1-.3 1 0 1 0 1 .3 1 .3 1 .2 1 .1 1-.1 1-.2 1-.5 1-.4 1-.5 1-.4 1-.5 1-.4 1-.3 1-.2 1 .2 1 .3 1 .3 1 .1 1 0 1-.2 1-.3 1-.3 1-.3 1-.2 1-.1 1 0 1-.1 1 0 1-.1 1-.1 1-.1 1-.1 1 .2 1 .3 1 .6 1 .5"/>
<path d="M20.3 139l1 0 1 0 1 0 1 0 1 .1 1 0 1 0 1-.1 1-.1 1-.1 1 .2 1 .2 1 .2 1 .2 1 .2 1 .1 1 .2 1 .1 1 .2 1 0 1 0 1 0 1-.1 1 0 1-.1 1-.2 1-.2 1-.1 1-.1 1 0 1 .1 1 .1 1 .2 1 .1 1-.1 1-.1 1-.2 1-.2 1-.2 1-.2 1-.1 1-.3 1-.2 1-.3 1-.2 1-.2 1-.2 1-.3 1-.3 1-.3 1-.3 1-.1 1-.2 1-.1 1 0 1-.1 1 0 1-.1 1 0 1-.1 1-.1 1-.2 1-.2 1-.1 1 0 1 0 1 .1 1-.1 1-.2 1-.2 1-.4 1-.3 1-.2 1-.2 1-.2 1-.4 1-.4 1-.5 1-.4 1-.4 1-.4 1-.2 1 0 1 0 1 0 1 0 1 .1 1 .1 1 .2 1 .3 1 .4 1 .4 1 .3 1 .1 1 0 1-.4 1-.5 1-.8 1-1 1-1.9 1-1.8 1-1.7 1-.6 1 .4 1 .5 1-.3 1-.6 1-.2 1-.3 1-.6 1-.5 1-1.4 1-1.4 1-.9 1-.4 1 .4 1 1.9 1 2.8 1 4.1 1 3.3 1 3.9 1 2.7 1 1.6 1 .7 1-.6 1-1.8 1-3 1-3.7 1-3.8 1-3.4 1-2.9 1-2.2 1-1.2 1 .5 1 .7 1 1.2 1 2.1 1 2.4 1 1.3 1 .3 1-.6 1-2.7 1-4.8 1-7.6 1-8.7 1-9.6 1-7 1-5.2 1-4.1 1-2.3 1-.1 1 2 1 3.5 1 7 1 7.6 1 7.7 1 7.7 1 8.4 1 5.5 1 4.5 1 3.7 1 2.2 1 1.3 1 .8 1 .3 1-.1 1-.2 1-.7 1-.8 1-.7 1-.6 1-.4 1-.2 1 .5 1 1.6 1 2.1 1 2.6 1 3.1 1 3 1 2.8 1 2.3 1 1.7 1 1 1 .5 1 .4 1 .1 1-.2 1-.5 1-.3 1-.2 1 0 1 .2 1 .3 1 .3 1-.1 1-.7 1-.9 1-1.2 1-1.4 1-1.9 1-2 1-2.3 1-2.6 1-3 1-3 1-3.1 1-3.1 1-3.1 1-3 1-3 1-2.9 1-2.8 1-2.6 1-2.6 1-2.4 1-2.1 1-2 1-1.9 1-1.7 1-1.3 1-.9 1-.6 1-.3 1-.1 1-.1 1 0 1 .5 1 .9 1 1.1 1 1.1 1 1.5 1 1.8 1 2.4 1 2.2 1 2.5 1 2.5 1 2.3 1 1.9 1 1.6 1 1.5 1 1.5 1 1.1 1 1.2 1 1.2 1 .9 1 0 1-.4 1 .4 1 .1 1-1.2 1-2.2 1-2.1 1-2.2 1-2.5 1-2.6 1-2.5 1-2.1 1-1.9 1-1.5 1-1.2 1-1.4 1-1.2 1-1 1-.9 1-.7 1-.5 1-.6 1-.5 1-.7 1-.7 1-.7 1-.7 1-.5 1-.6 1-.6 1-.8 1-1 1-1.2 1-1.2 1-.9 1-.4 1-.4 1-.3 1-.4 1-.4 1-.4 1-.4 1-.4 1-.5 1-.5 1-.6 1-.6 1-.7 1-.8 1-.7 1-.6 1-.5 1-.4 1-.2 1 0 1 0 1 0 1-.1 1-.3 1-.3 1-.4 1-.4 1-.4 1-.3 1-.3 1-.2 1-.1 1 0 1 0 1 0 1-.1 1 0 1 .2 1 .3 1 .4 1 .4 1 .5 1 .4 1 .4 1 .5 1 .5 1 .5 1 .6 1 .7 1 .8 1 1.1 1 1 1 .9 1 .6 1 .6 1 .4 1 .4 1 .4 1 .5 1 .6 1 .6 1 .6 1 .5 1 .3 1 .3 1 .1 1 .1 1 .2 1 .4 1 .6 1 .6 1 .8 1 .6 1 .5 1 .3 1-.1 1-.2 1-.1 1 0 1-.1 1 .1 1 .3 1 .4 1 .5 1 .5 1 .5 1 .5 1 .5 1 .4 1 .4 1 .6 1 .9 1 1 1 1.2 1 1.2 1 1.5 1 1.6 1 1.8 1 1.9 1 2 1 2.1 1 2 1 2 1 2.2 1 2.1 1 2 1 1.8 1 1.4 1 .8 1 .5 1 .6 1 .5 1 .2 1 .1 1 .2 1 .1 1 .1 1 .1 1 .1 1 .3 1 .3 1 .5 1 .4 1 .4 1 .4 1 .3 1 .2 1 .1 1 0 1 .1 1 0 1 .2 1 .3 1 .4 1 .2 1 .1 1-.2 1-.3 1-.2 1-.1 1 0 1 0 1 0 1-.2 1-.3 1-.3 1-.3 1-.2 1-.2 1-.2 1 0 1 0 1 0 1-.2 1-.1 1 0 1 .2 1 .3 1 .4 1 .4 1 .4 1 .4 1 .3 1 .4 1 .3 1 .4 1 .2 1-.1 1-.2 1-.2 1-.3 1-.2 1-.4 1-.3 1-.5 1-.4 1-.4 1-.4 1-.5 1-.5 1-.5 1-.6 1-.7 1-.7 1-.5 1-.4 1-.3 1-.3 1-.3 1-.3 1-.4 1-.4 1-.4 1-.4 1-.2 1-.2 1-.3 1 0 1-.1 1-.2 1-.4 1-.3 1-.3 1 0 1 .1 1 .1 1 .3 1 .2 1 .3 1 .3 1 .4 1 .4 1 .3 1 .2 1 .1 1 .2 1 .3 1 .2 1 0 1 0 1 .1 1 .1 1 .2 1 .1 1 .1 1 .2 1 .3 1 .4 1 .5 1 .5 1 .5 1 .4 1 .4 1 .4 1 .4 1 .3 1 .3 1 .2 1 .1 1 .2 1 .2 1 .2 1 .3"/>
<path d="M20.3 132.1l1-.1 1-.1 1-.2 1-.2 1-.2 1-.2 1-.2 1-.3 1-.3 1-.2 1-.1 1-.1 1 0 1 0 1 .1 1 .1 1 .1 1-.1 1 0 1-.2 1-.1 1-.1 1 .1 1 .1 1 .2 1 .1 1 0 1-.3 1-.3 1-.5 1-.4 1-.3 1-.2 1 0 1 0 1 0 1 0 1 0 1 .1 1 .1 1 .1 1 .1 1 .1 1-.1 1-.1 1-.1 1 0 1-.1 1-.3 1-.4 1-.6 1-.5 1-.5 1-.3 1-.1 1 .1 1 0 1 .1 1 0 1 .1 1 0 1 0 1 .1 1 .1 1 0 1-.1 1-.2 1-.4 1-.4 1-.4 1-.3 1-.3 1-.1 1-.2 1-.3 1-.3 1-.2 1-.1 1 0 1 .2 1 .3 1 .2 1 .2 1 .3 1 .3 1 .3 1 .4 1 .3 1 .3 1 .2 1 0 1-.1 1-.1 1-.2 1-.3 1-.4 1-.7 1-.8 1-1.2 1-2.3 1-2.4 1-2.2 1-.7 1 .8 1 1.1 1 0 1-.2 1 .6 1 .9 1 .8 1 .6 1-.7 1-1.4 1-1.4 1-1.6 1-1.1 1 .2 1 1.2 1 3.2 1 2.9 1 4.1 1 3.7 1 3.5 1 3 1 2.1 1 .9 1-.7 1-1.9 1-2.7 1-3 1-2.9 1-2.8 1-2.5 1-1.7 1-1.1 1 .3 1 .3 1 0 1-.9 1-.6 1-.8 1-2.5 1-4.1 1-6.6 1-7.7 1-8.8 1-6.5 1-5.2 1-4.6 1-2.8 1-1.1 1 .8 1 2.1 1 5.7 1 6.3 1 7.6 1 8.3 1 8.6 1 4.9 1 2.8 1 3.1 1 3 1 2.5 1 2.1 1 1.7 1 1 1 .2 1-.9 1-1.5 1-1.4 1-.9 1-.7 1-.8 1-.2 1 0 1-.2 1 .2 1 .8 1 1 1 .9 1 1.2 1 1.1 1 .5 1 0 1 .2 1 .1 1-.3 1-.8 1-1.3 1-1.3 1-1.3 1-1.3 1-1 1-.8 1-.7 1-1 1-1.2 1-1.3 1-1.5 1-1.8 1-1.9 1-2 1-2.2 1-2.3 1-2.2 1-2.1 1-2.2 1-2.3 1-2.5 1-2.7 1-2.7 1-2.5 1-2.4 1-2.1 1-1.9 1-1.5 1-1.5 1-1.5 1-1.4 1-1.3 1-1.2 1-.9 1-.7 1-.5 1-.2 1 .1 1 .9 1 1.5 1 2 1 2.1 1 2.8 1 3.3 1 3.8 1 3.8 1 4.1 1 4.2 1 4.2 1 3.8 1 3.8 1 3.9 1 4.2 1 4 1 4 1 3.9 1 3.5 1 2.7 1 2.6 1 3.6 1 3.9 1 3.5 1 3.2 1 3.3 1 3.5 1 3.7 1 3.7 1 3.2 1 3.1 1 3.1 1 3 1 2.8 1 2.7 1 2.6 1 2.5 1 2.2 1 2.1 1 1.8 1 1.6 1 1.3 1 1.2 1 1.1 1 1.1 1 1 1 1.1 1 1.2 1 1.3 1 1.4 1 1.3 1 1 1 .6 1 .2 1 .1 1-.3 1-1 1-1.3 1-1.2 1-1.1 1-.8 1-.5 1-.4 1-.3 1-.4 1-.3 1-.5 1-.7 1-.8 1-.7 1-.6 1-.6 1-.6 1-.5 1 0 1 .1 1 .2 1 .4 1 .5 1 .6 1 .6 1 .4 1 .1 1-.1 1 .1 1 .1 1 .1 1 .2 1 .2 1 .2 1 .3 1 .3 1 .1 1 .2 1 .4 1 .4 1-.4 1-.6 1-.5 1-1.1 1-1.4 1-1.3 1-1.1 1-1 1-.9 1-1.1 1-.9 1-.8 1-.6 1-.4 1-.2 1-.2 1-.2 1-.1 1 0 1 .2 1 .3 1 .4 1 .4 1 .2 1-.4 1-.6 1-.7 1-.8 1-.9 1-1 1-.9 1-1 1-.9 1-.9 1-1 1-1.1 1-1.2 1-1.4 1-1.7 1-1.7 1-1.6 1-2 1-2.2 1-2.1 1-1.7 1-1 1-.5 1-.6 1-1 1-1.4 1-1.9 1-2.2 1-2.3 1-2.5 1-2.6 1-2.5 1-2.3 1-2.1 1-1.9 1-1.6 1-1.6 1-1.3 1-1.2 1-1.1 1-.8 1-.9 1-1.2 1-1.3 1-1.2 1-1 1-1.3 1-1.4 1-1.3 1-1.5 1-1.6 1-1.6 1-1.4 1-1 1-1 1-.7 1-.5 1-.1 1 0 1 0 1-.1 1-.3 1-.4 1-.5 1-.5 1-.3 1-.1 1 .4 1 .4 1 .6 1 .5 1 .4 1 .2 1 .2 1 0 1 0 1 .1 1 .1 1 .2 1 .2 1 .3 1 .2 1 .2 1 .3 1 .8 1 1.1 1 1.2 1 1.3 1 1.2 1 .9 1 .6 1 .4 1 .4 1 .5 1 .6 1 .7 1 1 1 1 1 1 1 .8 1 .5 1 .2 1-.1 1 .1 1 .2 1 .2 1 .1 1-.1 1-.5 1-.5 1-.6 1-.5 1-.5 1-.4 1-.3 1-.3 1-.2 1-.1 1 0 1 .1 1 .2 1 .2 1 .1 1 .1 1 .1 1 0 1-.1 1-.3 1-.4 1-.4 1-.3 1-.2 1 0 1-.1 1-.1 1 0 1 .1 1 .3 1 .3 1 .2 1 .2 1 0 1 0 1 0 1 .2 1 .3 1 .4 1 .5 1 .6 1 .5 1 .4 1 .2 1 0 1 0 1 0 1 .1 1 .3 1 .3 1 .4 1 .5 1 .5 1 .4 1 .4 1 .5 1 .4 1 .4 1 .4 1 .3 1 .3 1 .3 1 .3 1 .3 1 .3 1 .3 1 .3 1 .2 1 .2"/>
<path d="M20.3 139.6l1 .2 1 .2 1 .2 1 0 1-.2 1-.2 1-.3 1-.2 1-.1 1 0 1 .1 1 .2 1 .1 1 .1 1-.1 1-.1 1-.2 1-.2 1 0 1 .2 1 .4 1 .5 1 .5 1 .3 1 .2 1-.1 1-.2 1-.2 1-.4 1-.4 1-.4 1-.3 1-.2 1-.2 1-.3 1-.4 1-.6 1-.6 1-.7 1-.6 1-.4 1-.2 1 0 1 .2 1 .2 1 .2 1 0 1-.2 1-.4 1-.6 1-.6 1-.5 1-.5 1-.2 1-.2 1 0 1-.2 1-.2 1-.3 1-.3 1-.2 1-.1 1-.2 1-.1 1-.2 1-.4 1-.6 1-.5 1-.5 1-.3 1 0 1 .1 1 .2 1 .1 1-.1 1-.4 1-.6 1-.6 1-.5 1-.3 1 0 1 .1 1 .4 1 .4 1 .3 1 .3 1 .3 1 .3 1 .4 1 .3 1 .4 1 .3 1 .2 1 .2 1 0 1-.3 1-.8 1-1.2 1-1.4 1-2.5 1-2.4 1-2.1 1-.7 1 .6 1 .8 1-.3 1-.4 1-.1 1-.1 1 .4 1 1.1 1 .8 1 .9 1 1.3 1 1.2 1 1.5 1 2 1 1.6 1 1.7 1 .9 1 1.5 1 .8 1 .1 1-.3 1-.8 1-1.4 1-2 1-2.1 1-1.6 1-.7 1 .2 1 .9 1 1.3 1 1.7 1 1.9 1 1.6 1 1.1 1 .6 1-1 1-2.3 1-3.3 1-5.2 1-6.5 1-8.3 1-8.5 1-8.4 1-5.3 1-2.9 1-1.5 1 .2 1 2.2 1 3.8 1 4.9 1 7.4 1 7.2 1 6.2 1 5.5 1 5.2 1 1.9 1 .5 1-.1 1-1.2 1-1.6 1-1.3 1-1 1-.5 1 .1 1 .1 1 .5 1 1.3 1 2 1 2.4 1 2.2 1 2.3 1 2.1 1 1 1 .3 1-.1 1-1 1-1.7 1-2 1-1.7 1-1.6 1-1.1 1-.1 1 .6 1 .8 1 .9 1 .9 1 1.1 1 1.1 1 .9 1 .8 1 .7 1 .7 1 1 1 1 1 .8 1 .4 1-.1 1-.1 1 0 1 .2 1 .2 1 .2 1 .4 1 .2 1 .1 1 0 1-.2 1-.4 1-.4 1-.5 1-.6 1-.4 1-.3 1-.3 1-.2 1-.3 1 0 1 .1 1 .3 1 .4 1 .4 1 .2 1 0 1 .1 1 .3 1 .4 1 .3 1 .7 1 .9 1 1.4 1 1.3 1 1.2 1 1 1 .5 1 .2 1 0 1 0 1-.3 1-1 1-1.7 1-1.5 1-1.5 1-1.9 1-1.8 1-.5 1-.3 1-1 1-1.6 1-1.7 1-1.8 1-2.1 1-2.3 1-2.4 1-2.1 1-1.8 1-1.3 1-1.2 1-1.4 1-1.4 1-1.4 1-1.4 1-1.5 1-1.4 1-1.5 1-1.4 1-1.5 1-1.4 1-1.6 1-1.5 1-1.5 1-1.4 1-1.4 1-1.3 1-1.3 1-1.3 1-1.1 1-.8 1-.4 1-.3 1-.3 1-.4 1-.5 1-.4 1-.3 1-.4 1-.2 1-.3 1-.1 1 0 1 .2 1 .4 1 .6 1 .9 1 1 1 1 1 1.1 1 .9 1 .7 1 .6 1 .6 1 .6 1 .6 1 .8 1 .7 1 .7 1 .5 1 .4 1 .4 1 .4 1 .6 1 .6 1 .8 1 .8 1 .9 1 .9 1 .8 1 .7 1 .6 1 .6 1 .2 1 .3 1 .3 1 .1 1 0 1 0 1 .1 1 .4 1 .7 1 .5 1 .5 1 .4 1 .6 1 .9 1 .9 1 1 1 .8 1 .5 1 .1 1 0 1-.2 1-.2 1-.1 1 .1 1 .2 1 .4 1 .5 1 .5 1 .4 1 .2 1 .2 1 .2 1 0 1-.4 1-.3 1-.1 1 0 1 0 1 0 1 0 1 0 1-.1 1-.2 1-.2 1 0 1 .4 1 .6 1 .6 1 .7 1 .8 1 .6 1 .5 1 .8 1 .8 1 1.1 1 1.3 1 1.4 1 1.5 1 1.5 1 1.5 1 1.5 1 1.4 1 1.3 1 1.3 1 1.2 1 1.2 1 .9 1 .8 1 1 1 1.1 1 1 1 .8 1 .7 1 .5 1 .2 1 0 1 0 1-.1 1-.1 1 .1 1 .1 1 .2 1 .3 1 .4 1 .3 1 .4 1 .3 1 .3 1 .2 1 .2 1 .1 1 .2 1 .1 1 0 1 0 1 .1 1 0 1 .1 1 0 1-.1 1-.2 1-.3 1-.4 1-.4 1-.2 1-.2 1 0 1-.1 1 0 1 0 1-.2 1-.7 1-.8 1-.5 1-.3 1-.2 1-.1 1-.1 1 .1 1 .3 1 .3 1 .3 1 .3 1 0 1-.2 1-.4 1-.3 1-.2 1 0 1 .1 1 .2 1 .1 1 .1 1 0 1 0 1-.2 1-.1 1-.2 1 0 1 .1 1 .2 1 .3 1 .4 1 .3 1 .2 1 .1 1 0 1-.1 1 0 1 0 1 .2 1 .1 1 .2 1 .1 1 .2 1 .4 1 .5 1 .5 1 .4 1 .3 1 .3 1 .2 1 .4 1 .4 1 .6 1 .6 1 .5 1 .5 1 .3 1 .4 1 .3 1 .2 1 .3 1 0 1 0 1-.2 1 0 1 .1 1 .1 1 .2 1 .1 1-.3 1-.3 1-.3 1 0 1 .2 1 .4 1 .3 1 .4 1 .2 1 .1 1 .1 1-.2 1-.2 1-.2 1-.4 1-.2 1-.2 1 0 1-.1 1-.2"/>
<path d="M20.3 134.6l1 .1 1 .1 1 .1 1 0 1 .1 1 .1 1 .1 1 0 1 0 1-.2 1-.3 1-.3 1-.3 1-.2 1-.1 1-.1 1 0 1-.1 1-.1 1-.1 1 .1 1 .3 1 .5 1 .5 1 .4 1 .4 1 0 1-.2 1-.4 1-.7 1-.7 1-.6 1-.5 1-.3 1-.3 1-.1 1 0 1 .1 1 .3 1 .2 1 .2 1 .1 1 .1 1-.1 1 0 1 0 1 .2 1 .3 1 .2 1 .1 1-.1 1-.1 1-.2 1-.2 1-.1 1 0 1 0 1 0 1 .1 1 .2 1 .3 1 .4 1 .5 1 .5 1 .7 1 .6 1 .6 1 .3 1 0 1-.1 1-.4 1-.4 1-.2 1-.1 1 .2 1 .3 1 .3 1 .2 1 .1 1-.1 1-.1 1 0 1 .4 1 .6 1 .8 1 1 1 .9 1 .9 1 .6 1 .5 1 .3 1 .2 1 .1 1 .2 1 .1 1 .1 1-.1 1-.2 1-.3 1-.7 1-.7 1-.5 1 0 1 .5 1 .7 1 .4 1 .5 1 .4 1 0 1 .2 1 .9 1 1 1 .9 1 .9 1 1.1 1 1.3 1 1.7 1 1.5 1 2 1 3.3 1 3.7 1 1.9 1 .1 1-1.4 1-2.7 1-3.6 1-4.7 1-5.1 1-4.6 1-2.9 1-1.2 1 .1 1 .9 1 1.9 1 2.1 1 1.8 1 1.5 1 1.5 1 .8 1 .2 1-.1 1-1 1-1.5 1-2.1 1-2.1 1-2 1-.6 1 .8 1 .5 1-.4 1-.5 1 .1 1 .2 1 1.3 1 1.1 1 .8 1 .3 1 .2 1-1.7 1-1.4 1-1.4 1-2.2 1-2.4 1-2.2 1-1.8 1-1.3 1-.6 1-.6 1-.3 1-.1 1 .3 1 .6 1 .7 1 1.1 1 1.2 1 .6 1 .1 1-.2 1-1.1 1-2.1 1-2.8 1-2.8 1-3.1 1-2.9 1-1.9 1-1.1 1-.8 1-.9 1-1 1-1.1 1-1.2 1-1.8 1-1.9 1-2.1 1-2.1 1-1.8 1-1.7 1-1.7 1-1.9 1-2.1 1-2.4 1-2.5 1-2.4 1-2.2 1-1.9 1-1.8 1-1.8 1-1.9 1-2.1 1-2.2 1-2.1 1-1.9 1-1.6 1-1.2 1-.8 1-.4 1-.4 1-.7 1-.7 1-.8 1-.5 1-.2 1 .1 1 .3 1 .5 1 .8 1 1.4 1 2.1 1 2.4 1 2.6 1 3.2 1 3.6 1 4.3 1 4.3 1 4.7 1 4.8 1 4.5 1 4 1 3.6 1 3.4 1 3.2 1 2.6 1 2.5 1 2.3 1 1.6 1 .7 1 .4 1 1.2 1 1 1 0 1-.8 1-.8 1-.9 1-1.2 1-1.5 1-1.7 1-1.4 1-1.1 1-.8 1-.8 1-1.1 1-1.1 1-1.2 1-1 1-1.1 1-1.2 1-1.2 1-1.4 1-1.6 1-1.7 1-1.7 1-1.7 1-1.7 1-1.8 1-1.9 1-2 1-1.9 1-2 1-1.8 1-1.6 1-1.1 1-1 1-1 1-.9 1-1 1-1.1 1-1.1 1-1.2 1-1 1-1 1-.7 1-.6 1-.5 1-.6 1-.6 1-.5 1-.6 1-.5 1-.5 1-.4 1-.3 1-.3 1-.3 1-.4 1-.3 1-.3 1-.3 1-.2 1-.2 1-.1 1 .1 1 .2 1 .3 1 .3 1 .2 1 .1 1 .1 1 0 1 0 1 .1 1 .1 1 .3 1 .4 1 .5 1 .6 1 .7 1 .7 1 .6 1 .8 1 .9 1 1.1 1 1.1 1 .9 1 .8 1 .9 1 .9 1 1.2 1 1.4 1 1.4 1 1.4 1 1.2 1 1 1 1.1 1 1.2 1 1.3 1 1.5 1 1.5 1 1.6 1 1.6 1 1.6 1 1.5 1 1.4 1 1.3 1 1.4 1 1.4 1 .9 1 1 1 1 1 .9 1 .8 1 .5 1 .5 1 .4 1 .2 1 .2 1 .3 1 .5 1 .7 1 .9 1 .9 1 .9 1 .9 1 .7 1 .5 1 .5 1 .4 1 .4 1 .3 1 .4 1 .5 1 .8 1 .8 1 .9 1 1.1 1 1 1 .8 1 .8 1 .5 1 .1 1-.1 1 0 1 0 1-.3 1-.5 1-.4 1-.6 1-.6 1-.5 1-.4 1-.1 1 0 1 .3 1 .4 1 .7 1 1 1 .9 1 .9 1 .6 1 .5 1 .4 1 .3 1 .4 1 .4 1 .5 1 .4 1 .3 1 .4 1 .4 1 .6 1 .6 1 .6 1 .5 1 .6 1 .5 1 .5 1 .6 1 .5 1 .6 1 .4 1 .5 1 .5 1 .4 1 .3 1 .1 1-.1 1 .1 1 .3 1 .3 1 .4 1 .4 1 .3 1 .3 1 .3 1 .3 1 .3 1 .3 1 .3 1 .1 1 .1 1-.1 1-.1 1 0 1-.1 1 0 1-.1 1-.1 1-.2 1-.3 1-.4 1-.4 1-.3 1-.1 1 .1 1 .2 1 .3 1 .3 1 .2 1 0 1 0 1 .1 1 .1 1 .1 1 0 1-.1 1-.2 1-.3 1-.5 1-.6 1-.6 1-.7 1-.7 1-.7 1-.5 1-.3 1-.3 1-.2 1-.2 1-.3 1-.4 1-.4 1-.5 1-.5 1-.6 1-.6 1-.6 1-.7 1-.5 1-.7 1-.8 1-.8 1-.8 1-.9 1-.9 1-1.1 1-1.1 1-.9 1-.7 1-.6 1-.3 1-.3 1-.2 1-.2 1-.2 1-.2 1 0 1 .2 1 .1 1 .3 1 .2 1 .2 1 .4 1 .4 1 .6"/>
<path d="M20.3 141.9l1 .3 1 .5 1 .4 1 .4 1 .3 1 .3 1 .1 1 .1 1-.1 1-.3 1-.3 1-.4 1-.3 1-.2 1 0 1-.1 1-.1 1-.4 1-.4 1-.4 1 0 1 .3 1 .6 1 .7 1 .7 1 .6 1 .5 1 .4 1 .2 1 .1 1 0 1 0 1 0 1 0 1-.3 1-.4 1-.5 1-.5 1-.5 1-.3 1-.1 1 0 1 .2 1 .2 1 .3 1 .2 1 .2 1 .1 1-.1 1-.2 1-.2 1-.2 1-.2 1 0 1-.1 1-.2 1-.2 1-.3 1-.3 1-.2 1-.2 1-.1 1-.1 1-.1 1 0 1 .1 1 .1 1 .2 1 .1 1 .2 1-.1 1-.1 1-.3 1-.4 1-.4 1-.5 1-.4 1-.4 1-.4 1-.4 1-.3 1-.2 1 .1 1 .3 1 .5 1 .6 1 .7 1 .6 1 .4 1 .4 1 .3 1 .1 1-.1 1-.2 1-.2 1-.4 1-.2 1-.2 1-.1 1-.3 1 0 1 .2 1 .7 1 1.2 1 1.1 1 .9 1 .8 1 1.1 1 1.2 1 1.4 1 1.5 1 1.2 1 .4 1 0 1-.3 1-.3 1-.1 1 .4 1 2.1 1 4.8 1 6.1 1 4.8 1 3 1 1.4 1-.2 1-1.2 1-3 1-4.1 1-4.5 1-3.4 1-2.5 1-2 1-1.8 1-1.2 1-1 1-1 1-.7 1 .4 1 1.2 1 2.2 1 3 1 3.3 1 3.6 1 4 1 3.9 1 3.8 1 3.6 1 3.7 1 1.7 1-1.5 1-3.1 1-3.5 1-4.1 1-4 1-4.3 1-4.3 1-4.5 1-3.8 1-3.9 1-1.7 1-.4 1-.3 1 .1 1 .8 1 1.3 1 1.4 1 1.8 1 1 1 .3 1-.7 1-1.7 1-1.9 1-2.4 1-2.2 1-1.6 1-1.7 1-1.7 1-1.2 1-1.3 1-1 1-.5 1-.2 1-.1 1 .1 1 .9 1 1.5 1 1.7 1 1.8 1 2.1 1 2.3 1 2.3 1 2.2 1 2.4 1 2.4 1 2.6 1 2.6 1 2.6 1 2.3 1 2.2 1 1.9 1 2.1 1 2.3 1 2.2 1 1.8 1 1.5 1 1.4 1 1.3 1 1.4 1 1.4 1 1.5 1 1.4 1 1.2 1 1.1 1 .9 1 .9 1 .8 1 .7 1 .5 1 .3 1 .3 1 .2 1 .2 1 .3 1 .2 1 .1 1-.1 1-.1 1-.4 1-.7 1-1 1-1.2 1-1.3 1-1.6 1-1.8 1-2 1-2.2 1-2.5 1-2.4 1-2.3 1-2.5 1-2.6 1-3.4 1-4.4 1-3.7 1-3.4 1-3.4 1-3.1 1-1.9 1-1.3 1-1.8 1-2.3 1-2.3 1-2.2 1-2.5 1-2.5 1-2.7 1-2.3 1-1.9 1-1.5 1-1.3 1-1.6 1-1.3 1-1.1 1-1 1-1.1 1-1.2 1-1.3 1-1.5 1-1.4 1-1.3 1-1.3 1-1.2 1-1.2 1-1.1 1-1 1-1 1-.9 1-1 1-1.1 1-1.1 1-.6 1-.7 1-.7 1-.7 1-.5 1-.3 1-.2 1-.1 1 0 1 0 1 0 1 0 1-.1 1-.2 1-.2 1-.1 1-.2 1-.3 1-.4 1-.3 1-.3 1-.2 1 0 1 0 1-.1 1-.5 1-.7 1-1 1-1 1-.9 1-.8 1-.6 1-.4 1-.4 1-.3 1-.3 1-.2 1-.4 1-.4 1-.6 1-.6 1-.5 1-.6 1-.4 1-.1 1-.1 1 .1 1 .2 1 .4 1 .5 1 .6 1 .6 1 .4 1 .3 1 .4 1 .3 1 .4 1 .3 1 .3 1 .4 1 .3 1 .5 1 .4 1 .4 1 .3 1 .2 1 .2 1 .2 1 .3 1 .5 1 .6 1 .7 1 .7 1 .7 1 .5 1 .2 1 .4 1 .5 1 .6 1 .6 1 .7 1 .6 1 .5 1 .5 1 .6 1 .6 1 .7 1 .8 1 .8 1 .8 1 1 1 1.3 1 1.5 1 1.6 1 1.8 1 1.7 1 1.7 1 1.7 1 1.6 1 1.8 1 2 1 2.1 1 2.4 1 2.7 1 2.6 1 2.5 1 2.3 1 1.8 1 1.3 1 .8 1 .5 1 .2 1-.2 1-.6 1-.6 1-.7 1-.6 1-.5 1-.4 1-.3 1-.4 1-.5 1-.6 1-.7 1-.8 1-.9 1-1 1-.9 1-.8 1-.5 1-.2 1-.2 1 0 1 0 1-.1 1-.1 1-.1 1 .1 1 .1 1 .2 1 .1 1 .1 1 0 1 .1 1 .1 1 .1 1 .1 1 .3 1 .4 1 .6 1 .8 1 .9 1 .8 1 .6 1 .5 1 .5 1 .6 1 .6 1 .7 1 .8 1 .8 1 .8 1 .8 1 .7 1 .6 1 .4 1 .4 1 .1 1 .1 1 .1 1 .2 1 .2 1 .1 1 0 1 0 1 .1 1 0 1-.1 1-.1 1-.1 1 .1 1 .2 1 .4 1 .5 1 .6 1 .4 1 .3 1 .1 1 0 1 .1 1 .1 1 .2 1 .3 1 .2 1 .1 1-.1 1-.3 1-.4 1-.4 1-.5 1-.6 1-.7 1-.7 1-.8 1-.7 1-.6 1-.5 1-.2 1-.1 1 .1 1 .2 1 .2 1 0 1-.1 1-.3 1-.5 1-.6 1-.8 1-.7 1-.6 1-.3 1-.2 1-.1 1-.2 1-.3 1-.3 1-.4 1-.4 1-.5 1-.5 1-.4 1-.2 1-.1 1 0 1 .2 1 .2 1 .1 1 .1 1 0 1 .2 1 .2 1 .4 1 .4"/>
<path d="M20.3 130.9l1 .1 1-.1 1-.2 1-.2 1-.2 1-.3 1-.3 1-.4 1-.2 1-.2 1-.1 1-.1 1-.1 1-.1 1 0 1 0 1 .1 1 0 1 0 1 0 1 .2 1 .2 1 .3 1 .4 1 .4 1 .3 1 .1 1 .1 1-.1 1-.3 1-.2 1-.2 1-.1 1-.2 1-.2 1-.3 1-.4 1-.4 1-.3 1-.2 1 .1 1 .1 1 .3 1 .3 1 .1 1 0 1-.2 1-.5 1-.6 1-.7 1-.6 1-.6 1-.4 1-.2 1 .1 1 .1 1 .3 1 .2 1 .1 1 0 1-.2 1-.2 1-.3 1-.2 1-.2 1-.2 1-.2 1-.3 1-.4 1-.4 1-.3 1-.2 1-.1 1 .1 1 .1 1 .1 1 .3 1 .2 1 .3 1 .4 1 .3 1 .2 1 .1 1 0 1-.1 1 0 1 .1 1 .2 1 .3 1 .1 1 .1 1 0 1-.2 1-.2 1-.4 1-.5 1-.7 1-.9 1-1.3 1-2.5 1-2.8 1-2.8 1-1.6 1-.3 1-.2 1-1.1 1-1.1 1-.4 1 .1 1 .5 1 1 1 .8 1 .6 1 .6 1 .2 1 .3 1 .6 1 .3 1 1.2 1 .9 1 .8 1 .5 1 .6 1 1.2 1 1.8 1 1.5 1 1 1 .8 1 .8 1 .6 1 .6 1 .4 1 .1 1 .2 1 .1 1-.3 1-.5 1-.6 1-1.7 1-2.3 1-2.3 1-3.3 1-3.8 1-4.9 1-4.3 1-3.7 1-.5 1 1.7 1 2.4 1 2.7 1 3.2 1 3.5 1 3.2 1 4.4 1 3.6 1 2.6 1 1.9 1 1.9 1-.4 1-.4 1 0 1-.3 1-.1 1 .7 1 1.3 1 1.7 1 2.2 1 1.8 1 1.4 1 1 1 .4 1 0 1-.8 1-1 1-1.1 1-2 1-2.3 1-2.2 1-2.7 1-2.8 1-2.4 1-1.9 1-1.7 1-1.4 1-.2 1 .5 1 .7 1 .4 1 .4 1 .1 1 0 1-.5 1-.6 1-.7 1-.5 1-.3 1-.3 1-.3 1-.4 1-.5 1-.5 1-.5 1-.6 1-.8 1-.9 1-.8 1-.7 1-.6 1-.3 1-.1 1 .3 1 .5 1 .6 1 .8 1 1.1 1 1.5 1 1.7 1 1.7 1 1.7 1 1.8 1 1.7 1 1.8 1 1.8 1 1.9 1 1.8 1 1.6 1 1.7 1 1.9 1 1.8 1 1.8 1 2 1 2 1 2.1 1 1.7 1 1.4 1 1 1 .5 1 .2 1-.1 1-.3 1-.7 1-1.2 1-1.9 1-1.4 1-1.2 1-1.4 1-1.1 1-.1 1 .4 1-.2 1-.5 1-.4 1-.1 1 0 1 .2 1 .3 1 .8 1 1.3 1 1.7 1 1.8 1 1.3 1 1.2 1 1.1 1 1 1 1 1 1 1 1.1 1 1.1 1 1.1 1 1.1 1 1.1 1 1.1 1 1.3 1 1.6 1 1.9 1 2.2 1 2.1 1 1.7 1 1.1 1 1 1 1.2 1 1.3 1 1.1 1 1.1 1 1 1 .8 1 .4 1 .3 1 .3 1 .3 1 .5 1 .7 1 .6 1 .5 1 .5 1 .3 1 .2 1 .2 1 .1 1 .3 1 .6 1 .6 1 .4 1 .2 1 0 1-.3 1-.5 1-.7 1-.8 1-.8 1-.6 1-.5 1-.5 1-.3 1-.3 1-.3 1-.2 1-.2 1-.2 1-.1 1 .2 1 .2 1-.4 1-.6 1-.6 1-1.5 1-1.9 1-2.2 1-2.2 1-1.8 1-1.4 1-1.2 1-.7 1-.4 1-.4 1-.4 1-.4 1-.5 1-.5 1-.7 1-.9 1-1 1-1.1 1-.9 1-.8 1-.8 1-.8 1-.7 1-.5 1-.6 1-.6 1-.8 1-.9 1-.9 1-1 1-1.5 1-1.4 1-1.4 1-1.3 1-1.3 1-1.4 1-1.3 1-1.2 1-1.5 1-1.5 1-1.6 1-1.3 1-.8 1-.5 1-.3 1-.2 1-.1 1-.3 1-.3 1-.3 1-.3 1-.2 1-.2 1-.2 1-.2 1-.2 1-.2 1 0 1 .4 1 .8 1 .9 1 1 1 .8 1 .2 1 0 1-.1 1-.2 1-.3 1-.6 1-.5 1-.8 1-1 1-1.1 1-1.2 1-1.2 1-1 1-.9 1-.6 1-.4 1-.2 1-.2 1-.3 1-.3 1-.3 1-.4 1-.4 1-.3 1-.2 1 0 1 .2 1 .1 1 .1 1 0 1 .1 1 .3 1 .4 1 .6 1 .6 1 .6 1 .4 1 .3 1 .1 1-.1 1-.1 1 0 1 .3 1 .5 1 .8 1 .8 1 .8 1 .7 1 .6 1 .6 1 .6 1 .6 1 .8 1 .8 1 .8 1 .8 1 .7 1 .6 1 .3 1 .2 1 .1 1 .2 1 .1 1 .1 1 0 1-.2 1-.2 1-.3 1-.2 1-.3 1-.3 1-.3 1-.3 1-.1 1-.1 1 0 1 .1 1 .1 1 .1 1 .1 1 .1 1 .2 1 .2 1 .4 1 .3 1 .4 1 .4 1 .2 1 .2 1 .2 1 .2 1 .3 1 .3 1 .3 1 .4 1 .5 1 .4 1 .5 1 .3 1 .3 1 .2 1 .2 1 .3 1 .4 1 .3 1 .3 1 .1 1 0 1 .1 1-.1 1 0 1-.2 1-.1 1-.1 1-.1 1-.2 1-.2 1-.2 1-.2 1-.3 1-.2 1-.2 1-.1 1 0 1 0 1 .1 1 0 1-.1 1-.1 1-.3 1-.3 1-.4 1-.2 1-.2 1-.1"/>
<path d="M20.3 140l1 0 1 .1 1 .1 1-.1 1 0 1 .1 1 .1 1 .2 1 .2 1 .1 1 .1 1-.1 1 0 1 0 1 .1 1 .2 1 .1 1 .2 1 .1 1 .1 1 .1 1 .1 1 .3 1 .2 1 .2 1 .2 1 0 1-.2 1-.3 1-.3 1-.3 1-.3 1-.2 1 0 1 .1 1 .3 1 .3 1 .2 1 .1 1-.1 1-.1 1-.1 1-.2 1-.1 1-.1 1 0 1 .1 1 .2 1 .3 1 .4 1 .2 1 .2 1 0 1 0 1 0 1-.1 1 0 1-.1 1-.1 1-.3 1-.2 1-.3 1-.2 1-.2 1-.2 1 0 1 0 1 0 1 .1 1 .1 1 .1 1 .1 1 .1 1-.1 1-.1 1 0 1-.1 1 0 1 0 1-.1 1 0 1-.1 1 .1 1 .1 1 .1 1 .2 1 .3 1 .2 1 .1 1 .1 1 0 1 .1 1 0 1 .2 1 .4 1 .5 1 .5 1 .5 1 .4 1 .2 1 .3 1 .4 1 .6 1 .8 1 .7 1 .6 1 .5 1 .5 1 .1 1 .3 1 1.1 1 1.4 1 1.3 1 1.4 1 1.9 1 2 1 1.5 1 .8 1 2.1 1 5.3 1 6 1 3.2 1 1.3 1-1.2 1-2.5 1-3.7 1-5.2 1-5.8 1-5.4 1-3.1 1-1.1 1 .4 1 1.1 1-.2 1 .1 1 .4 1 .5 1 1.4 1 2 1 2.8 1 3.4 1 3.9 1 3.8 1 3.3 1 3.6 1 4.1 1 4.1 1 5 1 3.6 1 .4 1-.9 1-1.1 1-2.2 1-4.4 1-5 1-5.3 1-5.7 1-5.5 1-5.1 1-1.9 1-.5 1-.3 1-2.2 1-1.4 1-.9 1-.3 1 .9 1 .8 1 .7 1 0 1-1 1-.8 1-.8 1-.5 1 .4 1 .5 1 .2 1 0 1-.7 1-1.5 1-2.1 1-2.2 1-2 1-1.2 1 0 1 1.1 1 1.6 1 1.9 1 2.1 1 2.2 1 2 1 1.9 1 1.9 1 1.7 1 1.7 1 1.8 1 2 1 1.7 1 1.7 1 1.3 1 1.4 1 1.4 1 1.2 1 .9 1 .5 1 .4 1 .4 1 .2 1 .4 1 .3 1 .5 1 .4 1 .2 1 .2 1 .1 1 .3 1 .3 1 .3 1 .2 1 .1 1 0 1-.1 1-.2 1-.3 1-.6 1-.7 1-.8 1-.7 1-.9 1-1.1 1-1.2 1-1.3 1-1.2 1-1.3 1-1.2 1-1.2 1-1.3 1-1.2 1-1 1-1.2 1-1.2 1-1.8 1-2.6 1-2.1 1-1.7 1-1.9 1-1.8 1-.8 1-.3 1-.6 1-.9 1-.9 1-.7 1-.6 1-.5 1-.6 1-.2 1 0 1 .2 1 .1 1-.5 1-.6 1-.6 1-.6 1-.5 1-.4 1-.4 1-.3 1-.4 1-.3 1-.4 1-.4 1-.5 1-.6 1-.6 1-.6 1-.5 1-.4 1-.5 1-.3 1 .5 1 .5 1 .3 1 .5 1 .5 1 .5 1 .2 1 0 1-.3 1-.4 1-.5 1-.3 1-.3 1-.4 1-.4 1-.3 1-.3 1-.2 1-.1 1-.1 1 .1 1-.1 1-.4 1-.8 1-1.1 1-1.4 1-1.5 1-1.5 1-1.6 1-1.5 1-1.5 1-1.5 1-1.5 1-1.5 1-1.5 1-1.6 1-1.6 1-1.7 1-1.8 1-1.9 1-1.8 1-1.7 1-1.7 1-1.7 1-1.6 1-1.9 1-1.9 1-1.9 1-1.6 1-1.2 1-.6 1-.5 1-.4 1-.2 1 0 1 0 1 0 1 0 1-.1 1-.2 1-.3 1-.3 1-.4 1-.3 1-.3 1-.2 1-.1 1-.1 1 .1 1 .1 1 .3 1 .5 1 .7 1 .9 1 .9 1 .7 1 .8 1 .8 1 .8 1 .9 1 1 1 1 1 1.1 1 1 1 .8 1 .7 1 .7 1 .7 1 1 1 1.2 1 1.6 1 2 1 1.9 1 1.8 1 1.6 1 1.6 1 1.5 1 1.6 1 1.9 1 2.1 1 2.4 1 2.3 1 2.4 1 2.2 1 2.1 1 1.9 1 1.7 1 1.4 1 1.1 1 1 1 1 1 1.2 1 1 1 1.1 1 .9 1 .8 1 .8 1 .9 1 1 1 1.1 1 1.1 1 1 1 .8 1 .5 1 .5 1 .2 1 .1 1-.1 1-.1 1-.2 1 0 1 .1 1 .2 1 .3 1 .2 1 .1 1 .1 1 .1 1 0 1 .1 1-.1 1-.1 1-.2 1-.4 1-.5 1-.4 1-.3 1-.2 1-.1 1 0 1 .1 1 0 1-.4 1-1.1 1-1.2 1-.8 1-.4 1-.2 1-.3 1-.2 1-.1 1-.2 1 0 1 .2 1 .2 1 .2 1 .1 1 0 1-.2 1-.4 1-.3 1-.3 1-.3 1-.2 1-.1 1-.1 1 .1 1 .1 1 0 1 .1 1 .1 1 0 1 0 1 0 1 0 1-.1 1-.2 1-.3 1-.3 1-.3 1-.2 1-.1 1 0 1 .1 1 .2 1 0 1 0 1-.1 1-.1 1-.1 1 0 1 .1 1 .3 1 .2 1 0 1-.2 1-.5 1-.7 1-.8 1-.8 1-.5 1-.5 1-.3 1-.4 1-.5 1-.6 1-.6 1-.7 1-.7 1-.7 1-.4 1-.3 1-.2 1-.3 1-.4 1-.5 1-.5 1-.4 1-.5 1-.5 1-.4 1-.2 1-.2 1-.1 1-.1 1-.2 1-.2 1-.2 1-.3 1-.1 1-.1 1 .1 1 .2"/>
<path d="M20.3 131.1l1 .1 1 0 1 0 1-.1 1 0 1 .1 1 .2 1 .2 1 .3 1 .3 1 .1 1 0 1-.1 1-.3 1-.3 1-.1 1 0 1 .1 1 .3 1 .3 1 .4 1 .5 1 .4 1 .4 1 .1 1 .1 1-.1 1-.2 1-.1 1-.1 1 0 1 .1 1 .3 1 .4 1 .3 1 .4 1 .3 1 .3 1 .2 1 0 1-.2 1-.1 1-.1 1 .1 1 .3 1 .3 1 .3 1 .3 1 .1 1 0 1 0 1-.1 1-.2 1-.1 1-.1 1 0 1-.1 1-.1 1-.1 1-.2 1-.1 1 .2 1 .2 1 .4 1 .2 1 .1 1-.3 1-.6 1-.6 1-.7 1-.6 1-.6 1-.6 1-.6 1-.5 1-.4 1-.4 1-.2 1-.3 1-.1 1-.2 1 0 1 0 1 .1 1 0 1 .2 1 .1 1 .2 1 .2 1 0 1-.1 1-.3 1-.4 1-.3 1-.3 1-.3 1-.5 1-.8 1-1.1 1-2.3 1-2.4 1-2.3 1-1 1 .3 1 .5 1-.4 1-.5 1 .2 1 .7 1 1 1 1.4 1 .4 1 0 1-.3 1-.9 1-1.1 1-1 1-.8 1 .8 1 .8 1 2.5 1 2.9 1 3.2 1 3.3 1 3.1 1 2.3 1 1.3 1 .4 1 0 1-.3 1-.3 1-.6 1-1 1-1 1-1.1 1-1.5 1-1.4 1-.7 1-.8 1-.4 1 .5 1 .5 1 .8 1 .8 1 1.3 1 1.5 1 2.7 1 3.5 1 2.4 1 .8 1 0 1-.2 1-1 1-.5 1-1.2 1-1.7 1-2 1-1.5 1-2.4 1-.8 1 .3 1 .7 1 1.1 1 1.9 1 2.7 1 3 1 3.5 1 2.8 1 2.2 1 1.1 1-.2 1-1 1-2.1 1-2.6 1-2.4 1-2.6 1-2.4 1-1.8 1-1.4 1-.8 1 .2 1 .7 1 1 1 1.2 1 1.6 1 1.4 1 .7 1-.3 1-1.3 1-2 1-2.5 1-2.8 1-2.7 1-2.4 1-2.2 1-1.9 1-1.9 1-2 1-2.2 1-2.4 1-2.6 1-2.7 1-2.9 1-3.2 1-3.1 1-3 1-2.8 1-2.7 1-2.4 1-2.1 1-1.7 1-1.4 1-1.3 1-1.4 1-1.3 1-1.2 1-1.2 1-1 1-.9 1-.5 1-.3 1-.1 1-.1 1 0 1 0 1 .1 1 .7 1 1.4 1 1.9 1 1.9 1 2.4 1 2.9 1 3.5 1 3.6 1 3.9 1 4.1 1 4 1 3.9 1 3.8 1 3.9 1 3.8 1 3.3 1 2.9 1 2.5 1 1.8 1 .9 1 .8 1 1.9 1 2.2 1 1.8 1 1.6 1 1.6 1 1.7 1 1.4 1 1.4 1 1 1 1 1 1.2 1 1.3 1 1.1 1 .7 1 .4 1 .2 1-.1 1-.5 1-.8 1-.9 1-.9 1-1 1-.9 1-1.1 1-1.1 1-1.2 1-1.3 1-1.2 1-1.2 1-1.1 1-1.3 1-1.5 1-1.6 1-1.2 1-1.3 1-1.4 1-1.2 1-.9 1-.5 1-.4 1-.3 1-.3 1-.3 1-.1 1 .1 1 .2 1 .4 1 .6 1 .8 1 1 1 1.1 1 1.1 1 1.3 1 1.3 1 1.2 1 1 1 .7 1 .6 1 .6 1 .5 1 .7 1 1.1 1 1.5 1 2 1 2.2 1 2.3 1 2.2 1 2 1 1.7 1 1.5 1 1.2 1 1.1 1 1.1 1 1.4 1 1.4 1 .8 1 .5 1 .4 1-.4 1-.8 1-1 1-1 1-.7 1-.3 1 0 1 .4 1 .5 1 .4 1 .3 1 .1 1-.1 1-.4 1-.7 1-1 1-1.3 1-1.6 1-1.6 1-1.4 1-1.4 1-1.4 1-1.3 1-1.3 1-1.3 1-1.1 1-1 1-.8 1-.6 1-.9 1-1.4 1-1.4 1-1.3 1-1.2 1-1.1 1-1 1-.8 1-.9 1-1.1 1-1.3 1-1.2 1-.9 1-.1 1 .3 1 .7 1 .5 1 .5 1 .1 1-.2 1-.1 1 .1 1 .3 1 .6 1 .9 1 1.1 1 1.2 1 1 1 .9 1 .8 1 .7 1 .7 1 .9 1 1 1 .8 1 .9 1 .8 1 .8 1 .7 1 .7 1 .5 1 .4 1 .5 1 .3 1 .2 1 .2 1 .2 1 .1 1 .2 1 0 1 .1 1 .2 1 0 1 .1 1 0 1-.1 1 0 1 0 1 0 1-.2 1-.3 1-.3 1-.4 1-.3 1-.4 1-.4 1-.4 1-.4 1-.4 1-.3 1-.3 1-.3 1-.4 1-.4 1-.6 1-.7 1-.6 1-.4 1-.4 1-.7 1-.6 1-.4 1-.1 1 0 1-.2 1-.2 1-.3 1-.3 1-.3 1-.2 1-.3 1-.3 1-.4 1-.6 1-.6 1-.3 1-.2 1 .1 1-.1 1-.2 1-.4 1-.4 1-.5 1-.4 1-.4 1-.4 1-.5 1-.4 1-.5 1-.3 1-.2 1-.1 1-.2 1-.1 1-.1 1 0 1 .1 1 0 1-.1 1-.1 1-.1 1-.2 1-.2 1-.2 1-.3 1-.3 1-.3 1-.3 1-.2 1-.1 1 0 1 0 1 0 1 .2 1 .2 1 .3 1 .3 1 .3 1 .3 1 .2 1 .3 1 .3 1 .4 1 .3 1 .2 1 .1 1 .1 1 .1 1 0 1-.1 1-.2 1-.3 1-.2 1-.2 1-.1 1 0 1 .2 1 .3 1 .4 1 .2 1 .2 1 0 1 0 1 .1 1 .3 1 .3 1 .4 1 .3 1 .3"/>
<path d="M20.3 141.3l1 .1 1 0 1 0 1-.2 1-.1 1-.1 1-.2 1-.1 1-.1 1-.2 1-.1 1 0 1 0 1 .1 1 0 1-.1 1-.4 1-.7 1-.8 1-.8 1-.8 1-.6 1-.4 1-.1 1 0 1 .1 1 .2 1 .1 1-.1 1-.2 1-.3 1-.5 1-.4 1-.5 1-.4 1-.4 1-.3 1-.2 1-.2 1-.1 1-.1 1 0 1 .1 1 .1 1 .1 1 0 1 0 1-.1 1-.1 1-.2 1-.1 1-.1 1 0 1 0 1 .1 1 .1 1 0 1 0 1 0 1 .2 1 .3 1 .5 1 .5 1 .6 1 .5 1 .3 1 .3 1 .2 1 .2 1 .1 1 .2 1 .1 1-.1 1-.3 1-.4 1-.6 1-.5 1-.3 1 0 1 .2 1 .6 1 .7 1 .7 1 .5 1 .3 1 .2 1 .1 1 .2 1 .2 1 .2 1 .1 1 .1 1-.1 1-.1 1-.2 1-.5 1-.7 1-1 1-1.1 1-1.7 1-1.6 1-1.5 1-.7 1 .2 1 .2 1-.7 1-.9 1-.9 1-1.3 1-1 1-.1 1-.4 1-.2 1 .3 1 .5 1 .8 1 1.2 1 .8 1 .7 1-.9 1-.6 1-1.5 1-1.7 1-1.6 1-1.4 1-1.3 1-.5 1-.4 1-.4 1-.2 1 1.3 1 1.7 1 1.8 1 2 1 1.7 1 1 1 .4 1-.1 1-1.7 1-2.9 1-3.4 1-5 1-5.9 1-7.3 1-6.9 1-6.3 1-2.6 1 .4 1 2.2 1 4 1 5.7 1 6.9 1 7 1 8 1 6.7 1 5.1 1 3.6 1 2.9 1 0 1-.5 1-.8 1-2 1-2.3 1-2.2 1-1.7 1-1.5 1-.8 1-1 1-.9 1-.5 1 .1 1 .8 1 1 1 1.5 1 1.4 1 .1 1-.7 1-1.2 1-2.5 1-3.5 1-4 1-3.6 1-3.6 1-2.4 1-1.6 1-1 1-.9 1-.2 1 .5 1 .6 1 .7 1 .3 1 .3 1 .2 1 .4 1 .8 1 .9 1 .8 1 .5 1 0 1-.2 1-.5 1-.5 1-.8 1-.9 1-.9 1-1.2 1-1.5 1-1.6 1-1.6 1-1.6 1-1.5 1-1.6 1-1.6 1-1.3 1-1.2 1-1 1-.9 1-.8 1-.4 1-.2 1 0 1 .1 1 .2 1 .2 1 .2 1 .7 1 1.1 1 1.4 1 1.4 1 2 1 2.4 1 3.1 1 3.3 1 3.5 1 3.6 1 3.4 1 2.9 1 2.6 1 2.5 1 2.3 1 1.7 1 1.4 1 1.3 1 1 1 .1 1-.1 1 .7 1 .6 1-.4 1-1 1-.9 1-1 1-1.1 1-1.4 1-1.5 1-1.3 1-1.1 1-1 1-1 1-1.5 1-1.3 1-1.3 1-1.1 1-1.2 1-1.2 1-1.2 1-1.2 1-1.1 1-1 1-.8 1-.9 1-1 1-1.1 1-1.1 1-1.2 1-1.1 1-1.2 1-1.1 1-1 1-.5 1-.5 1-.6 1-.5 1-.5 1-.4 1-.3 1-.2 1-.1 1 0 1 .1 1 .2 1 .3 1 .2 1 .2 1 .1 1 .1 1 .1 1 .3 1 .4 1 .5 1 .3 1 .3 1 .3 1 .2 1 .1 1 .2 1 .2 1 .4 1 .5 1 .8 1 .9 1 1.1 1 1 1 1 1 1 1 1 1 1.2 1 1.1 1 1.2 1 1.2 1 1.2 1 .9 1 .8 1 .8 1 .6 1 .6 1 .5 1 .7 1 .9 1 1.3 1 1.3 1 1.2 1 1.1 1 1 1 1 1 .8 1 .7 1 .5 1 .5 1 .4 1 .4 1 .3 1 .4 1 .4 1 .3 1 .3 1 .3 1 .5 1 .4 1 .4 1 .4 1 .2 1 .2 1-.1 1-.6 1-.5 1-.4 1-.4 1-.5 1-.6 1-.6 1-.7 1-.8 1-.9 1-.8 1-.4 1 0 1 .2 1 .4 1 .3 1 .4 1 .2 1 .1 1 0 1 0 1-.2 1-.2 1-.2 1-.1 1-.1 1 0 1 .1 1 .2 1 .4 1 .4 1 .3 1 .1 1-.5 1-.7 1-.4 1-.5 1-.6 1-.9 1-.9 1-1 1-1 1-.9 1-.7 1-.4 1-.3 1-.2 1-.2 1-.1 1 .1 1 .1 1 .2 1 .3 1 .2 1 .2 1 .2 1 .2 1 .4 1 .6 1 .8 1 .8 1 .7 1 .4 1 .3 1 .1 1 0 1 .1 1 .2 1 .2 1 .3 1 .2 1 .3 1 .2 1 .2 1 .3 1 .5 1 .7 1 .7 1 .7 1 .6 1 .6 1 .6 1 .7 1 .6 1 .6 1 .5 1 .4 1 .6 1 .7 1 .7 1 .6 1 .2 1-.1 1-.4 1-.4 1-.4 1-.4 1-.4 1-.5 1-.5 1-.5 1-.5 1-.5 1-.6 1-.6 1-.5 1-.7 1-.7 1-.7 1-.8 1-.6 1-.5 1-.4 1-.3 1-.3 1-.4 1-.4 1-.5 1-.5 1-.5 1-.5 1-.6 1-.3 1-.3 1-.4 1-.4 1-.3 1-.3 1-.2 1-.1 1-.2 1 0 1-.1 1 0 1 .1 1 0 1 0 1 0 1-.2 1-.2 1-.2 1-.3 1-.4 1-.5 1-.6 1-.6 1-.3 1-.1 1-.2 1 0 1-.1 1-.1 1-.1 1 0 1 0 1 .2 1 .3 1 .3 1 .4 1 .5 1 .4 1 .4 1 .3 1 .2 1 .2 1 .3 1 .3 1 .5"/>
<path d="M20.3 134.2l1 1 1 .8 1 .8 1 .5 1 .3 1 .1 1-.1 1-.1 1-.2 1-.2 1-.4 1-.5 1-.6 1-.6 1-.5 1-.4 1-.2 1-.1 1 .1 1 .2 1 .6 1 .8 1 .9 1 1 1 1 1 .7 1 .4 1 .1 1-.3 1-.7 1-.7 1-.7 1-.7 1-.5 1-.5 1-.4 1-.2 1 .1 1 .2 1 .2 1 .3 1 .1 1 0 1 0 1 0 1 .2 1 .2 1 .1 1 0 1 0 1-.2 1-.2 1-.3 1-.4 1-.6 1-.6 1-.7 1-.6 1-.4 1 0 1 .3 1 .7 1 .8 1 .8 1 .5 1 .2 1-.1 1-.4 1-.4 1-.5 1-.4 1-.3 1-.4 1-.6 1-.6 1-.8 1-.7 1-.7 1-.4 1-.2 1 .1 1 .3 1 .7 1 1.1 1 1.3 1 1.3 1 1.1 1 1 1 .7 1 .6 1 .2 1 .1 1-.1 1-.2 1-.4 1-.6 1-.7 1-.7 1-.7 1-1.3 1-1.3 1-1.2 1-.2 1 .5 1 .7 1 0 1-.1 1 .3 1 .1 1 .1 1 .3 1-.1 1-.2 1 .1 1 .7 1 1.4 1 2.4 1 3.1 1 4 1 4.4 1 4.5 1 2.8 1 .9 1-.6 1-2.1 1-3.3 1-4.5 1-5.3 1-5.1 1-4.2 1-3 1-2 1-.9 1 .4 1 1.3 1 1.9 1 2.3 1 2.5 1 1.7 1 .8 1 .1 1-1.8 1-3.6 1-5.8 1-6.8 1-7.8 1-6 1-4.9 1-4.4 1-3.4 1-1.5 1 .6 1 2.4 1 5.6 1 6.4 1 6.5 1 6.5 1 6.8 1 4.2 1 3.2 1 2.4 1 .7 1-.5 1-1.1 1-1.5 1-1.9 1-1.9 1-2.5 1-2.5 1-2.1 1-1.3 1-.5 1 0 1 1.1 1 1.7 1 1.4 1 1.4 1 1.6 1 .8 1-.1 1-1 1-1.5 1-2.3 1-2.9 1-2.5 1-2.4 1-2.4 1-2.6 1-2.2 1-1.8 1-1.2 1-1 1-.6 1-.5 1-.5 1-.7 1-.6 1-.7 1-.9 1-1.2 1-1.5 1-1.7 1-1.9 1-1.9 1-1.8 1-1.7 1-1.8 1-2 1-2 1-2 1-1.7 1-1.4 1-1 1-.7 1-.2 1 .2 1 .4 1 .5 1 .4 1 .6 1 .5 1 .7 1 .8 1 .8 1 1.1 1 1.3 1 2 1 2.6 1 3 1 3.3 1 3.8 1 4.3 1 4.9 1 4.8 1 4.8 1 4.8 1 4.4 1 3.9 1 3.7 1 3.4 1 3 1 2.1 1 1.1 1 .6 1 .3 1-.5 1-.5 1 .5 1 .9 1 .6 1 .4 1 .3 1 .2 1 0 1-.2 1-.8 1-.9 1-.8 1-.8 1-.9 1-1.6 1-1.8 1-2 1-2.2 1-2.4 1-2.4 1-2.2 1-2.1 1-2 1-1.9 1-1.7 1-1.6 1-1.3 1-1.2 1-1.2 1-1.1 1-1.4 1-1.5 1-1.6 1-1.3 1-.7 1-.4 1-.4 1-.4 1-.3 1-.3 1-.3 1-.3 1-.2 1-.1 1 0 1 .2 1 .2 1 .2 1 .2 1 .3 1 .2 1 .2 1 .3 1 .3 1 .3 1 .2 1 0 1-.3 1-.4 1-.5 1-.5 1-.5 1-.6 1-.7 1-.6 1-.7 1-.6 1-.4 1-.3 1-.2 1-.1 1-.2 1-.1 1-.1 1 .1 1 .2 1 0 1 .1 1 .2 1 .1 1 .2 1 .1 1 .2 1 .3 1 .5 1 .4 1 .3 1 .3 1 .4 1 .3 1 .4 1 .5 1 .6 1 .8 1 1.1 1 1.4 1 1.8 1 1.9 1 1.9 1 1.8 1 1.5 1 1.5 1 1.4 1 1.3 1 1.3 1 1.3 1 1.4 1 1.5 1 1.4 1 1 1 1.1 1 1.1 1 .9 1 .8 1 .5 1 .4 1 .3 1 0 1-.1 1-.1 1 .5 1 1 1 1.4 1 1.5 1 1 1 .8 1 .3 1 .1 1 .1 1 .1 1 .1 1 .2 1 .3 1 .5 1 .7 1 .6 1 .7 1 .5 1 .3 1 .2 1 .2 1 .2 1 .1 1 .1 1 .2 1 .3 1 .4 1 .4 1 .3 1 .2 1 .2 1 .1 1 .1 1-.1 1 .1 1 0 1 .2 1 .2 1 .3 1 .6 1 .6 1 .6 1 .5 1 .4 1 .1 1 0 1 0 1-.1 1 .1 1 0 1 0 1-.1 1-.3 1-.4 1-.3 1-.2 1-.2 1 0 1-.1 1-.1 1 0 1-.1 1 0 1-.1 1 0 1-.1 1-.4 1-.7 1-.9 1-.4 1-.1 1-.1 1-.1 1-.2 1 0 1 .1 1 .3 1 .4 1 .4 1 .2 1 0 1-.3 1-.5 1-.4 1-.2 1 0 1 .1 1 .1 1 0 1-.1 1-.1 1-.2 1-.2 1-.1 1-.1 1-.1 1 .1 1 0 1 .1 1 .1 1-.1 1 0 1 .1 1 .4 1 .6 1 .6 1 .7 1 .6 1 .4 1 .2 1 0 1 0 1-.1 1 0 1 .1 1 .2 1 .1 1 .2 1 .2 1 .2 1 .2 1 .1 1 .1 1 .1 1 .2 1 .2 1 .3 1 .3 1 .3 1 .2 1 .1 1 0 1-.1 1 .1 1 .2 1 .3 1 .4 1 .2 1 .2 1 .1 1 .1 1 0 1 .1 1 .1 1 0 1 0 1 .1 1 0 1 .1 1 .2 1 .1 1-.2 1-.2 1-.2 1-.3 1-.1 1 0"/>
<path d="M20.3 132.2l1 0 1 0 1-.1 1-.1 1-.3 1-.3 1-.2 1-.1 1 0 1 0 1 0 1 0 1 .1 1 .1 1 .2 1 .3 1 .4 1 .5 1 .5 1 .4 1 .2 1 .1 1 0 1-.1 1-.2 1-.2 1-.2 1-.2 1-.1 1-.1 1-.1 1 0 1 0 1-.1 1-.1 1-.1 1 0 1 .1 1 .1 1 .2 1 0 1 .1 1-.1 1 0 1-.1 1-.1 1-.1 1-.4 1-.5 1-.6 1-.5 1-.5 1-.2 1-.1 1 .2 1 .3 1 .2 1 .1 1 .1 1 .1 1 .1 1 .2 1 .1 1 0 1 0 1-.2 1-.4 1-.5 1-.6 1-.7 1-.6 1-.5 1-.3 1-.3 1-.2 1-.2 1 0 1 .1 1 .2 1 .1 1 .1 1-.2 1-.2 1-.1 1 0 1 .2 1 .4 1 .3 1 .3 1 .2 1 .1 1 .1 1-.1 1-.3 1-.4 1-.6 1-.9 1-1.1 1-1.2 1-2.3 1-2.3 1-2.3 1-1 1 .3 1 .4 1-.8 1-.9 1 0 1 .4 1 .6 1 .9 1-.2 1-.5 1-.5 1-.9 1-.9 1-.1 1 .3 1 1.6 1 .5 1 1.6 1 1.5 1 1.6 1 1.8 1 1.6 1 .8 1 0 1-.6 1-.8 1-1.1 1-.9 1-1 1-.9 1-.4 1-.2 1-.3 1 .3 1 0 1-1.6 1-2.9 1-3.5 1-4.7 1-6.2 1-8.4 1-8.7 1-9.3 1-5.8 1-3.8 1-2.4 1-.2 1 1.9 1 3.5 1 4.5 1 7.7 1 7.7 1 7.2 1 7 1 7.5 1 4.4 1 3.1 1 2.6 1 1.5 1 1.2 1 1.1 1 1.2 1 1.2 1 1.3 1 .7 1 .8 1 .9 1 1.2 1 1 1 .4 1 .5 1 .4 1 .1 1 .2 1 .7 1 .7 1 .7 1 1.1 1 1.4 1 1.4 1 1.7 1 2.6 1 2.8 1 2.8 1 2.4 1 2.1 1 1.8 1 1.4 1 1.4 1 1.2 1 1.3 1 1.4 1 1.6 1 1.7 1 1.7 1 1.6 1 1 1 1 1 .9 1 .8 1 .3 1 .2 1 .3 1 .2 1 .2 1 .3 1 .3 1 .3 1 .3 1 .1 1 0 1-.2 1-.2 1-.2 1-.4 1-.3 1-.4 1-.4 1-.5 1-.6 1-.8 1-1 1-1 1-.9 1-.9 1-.9 1-1 1-.9 1-1 1-1 1-1.2 1-1.2 1-1.3 1-1.3 1-1.1 1-1 1-.9 1-1 1-1.6 1-2.1 1-1.7 1-1.3 1-1.4 1-1.2 1 .1 1 .8 1 .5 1 .5 1 .6 1 .8 1 1 1 1.1 1 .8 1 .9 1 1 1 1.3 1 1.3 1 1.1 1 1.2 1 1.1 1 1.1 1 .9 1 .7 1 .6 1 .4 1 .3 1 .2 1 .1 1 .2 1 .2 1 .2 1 .3 1 .3 1 0 1-.3 1-.7 1-.8 1-.5 1-.6 1-1.1 1-1.1 1-1.2 1-1.1 1-1.2 1-1.1 1-1.1 1-1.1 1-1.3 1-1.3 1-1.7 1-1.9 1-2.3 1-2.5 1-2.8 1-2.8 1-2.8 1-2.5 1-2.1 1-2 1-2.1 1-2 1-2.1 1-2.1 1-2.2 1-2.1 1-2.3 1-2.3 1-2.1 1-2.1 1-2 1-1.9 1-1.9 1-1.8 1-1.9 1-1.7 1-1.7 1-1.5 1-1.4 1-1.4 1-1.5 1-1.4 1-1.2 1-1 1-.7 1-.5 1-.2 1 .2 1 .5 1 .5 1 .4 1 .3 1 .2 1 .2 1 .1 1 .1 1 .1 1 .1 1 .1 1 .2 1 .2 1 .3 1 .3 1 .5 1 .5 1 .5 1 .7 1 .7 1 .8 1 .9 1 .9 1 1 1 1 1 .7 1 .8 1 .9 1 .9 1 .8 1 .6 1 .6 1 .4 1 .4 1 .5 1 .4 1 .6 1 .8 1 .9 1 1 1 1.3 1 1.6 1 1.5 1 1.6 1 1.6 1 1.7 1 1.8 1 1.9 1 2.1 1 2.2 1 2.5 1 2.5 1 2.7 1 2.8 1 2.7 1 2.6 1 2.6 1 2.3 1 2 1 1.6 1 1.3 1 1.1 1 .8 1 .9 1 .8 1 .9 1 1 1 1 1 .9 1 .8 1 .7 1 .6 1 .6 1 .6 1 .4 1 .3 1 .2 1 .1 1-.1 1 0 1 0 1 .1 1 .1 1 .2 1 0 1-.1 1-.3 1-.4 1-.5 1-.5 1-.4 1-.3 1-.2 1-.1 1-.1 1 0 1-.1 1-.1 1-.2 1-.4 1-.4 1-.5 1-.8 1-1.2 1-1.3 1-.9 1-.4 1-.2 1-.1 1 .3 1 .3 1 .3 1 .2 1 0 1-.2 1-.4 1-.4 1-.4 1-.4 1-.2 1 0 1 .2 1 .2 1 .1 1 .1 1-.1 1-.1 1-.1 1 0 1 0 1 .2 1 .1 1 .1 1-.1 1-.1 1-.1 1 0 1 .1 1 .2 1 .4 1 .5 1 .7 1 .6 1 .6 1 .4 1 .3 1 .1 1 .1 1 0 1 0 1 0 1 .1 1 .1 1 .3 1 .5 1 .5 1 .5 1 .6 1 .4 1 .3 1 .3 1 .1 1 .2 1 .1 1 .2 1 .1 1 .1 1-.1 1-.1 1-.1 1 0 1 .1 1 0 1-.2 1-.2 1-.1 1-.2 1-.1 1 0 1-.1 1 0 1-.1 1 0 1-.1 1 0 1-.2 1-.1 1-.4 1-.6 1-.5 1-.5 1-.5 1-.4"/>
<path d="M20.3 136.1l1 0 1-.1 1-.1 1-.1 1-.1 1-.3 1-.3 1-.3 1-.3 1-.1 1 .2 1 .4 1 .5 1 .6 1 .5 1 .3 1 .2 1 .1 1 .1 1 .1 1 .2 1 .3 1 .2 1 .2 1 .2 1 .1 1 .1 1 .1 1 .1 1 .2 1 .1 1 .1 1 .1 1 .2 1 0 1 0 1 0 1 0 1 .1 1 .2 1 .3 1 .2 1 .2 1 0 1-.2 1-.3 1-.3 1-.3 1-.3 1-.4 1-.3 1-.4 1-.4 1-.1 1 .2 1 .4 1 .6 1 .6 1 .4 1 .4 1 .2 1 .2 1 .1 1-.1 1-.2 1-.4 1-.6 1-.6 1-.5 1-.3 1-.2 1-.2 1 0 1 .1 1 .3 1 .4 1 .6 1 .6 1 .6 1 .5 1 .3 1 .3 1 .2 1 .2 1 .1 1 .1 1 .2 1 .1 1 .1 1 .1 1 .1 1 0 1 0 1 0 1-.1 1-.2 1-.3 1-.2 1-.2 1-.1 1 .2 1 .7 1 1.2 1 1.4 1 1.2 1 .7 1 .6 1 .8 1 .5 1 .6 1 .9 1 .9 1 .5 1 .3 1 .5 1 .8 1 1.2 1 1.7 1 2.8 1 5.2 1 5.8 1 4 1 1.8 1-.2 1-2 1-3.4 1-5.3 1-6.3 1-6.2 1-4.7 1-3.2 1-2.1 1-1.3 1-.1 1 .6 1 1 1 1.5 1 2.1 1 1.9 1 1.7 1 1.4 1 .4 1-.3 1-1.2 1-1.8 1-2.4 1-1.9 1-1.2 1-2.1 1-3.1 1-2.8 1-1.7 1-.8 1 1.1 1 1.5 1 1.5 1 1.6 1 2 1 .5 1 1.3 1 1.6 1 .9 1 .3 1 .3 1 .2 1 .1 1 .7 1 .3 1 .3 1 0 1-.6 1-.4 1-.5 1-.2 1 .8 1 1.3 1 1.5 1 2 1 1.9 1 1.6 1 1.2 1 .7 1 .4 1 .6 1 1.1 1 1.4 1 1.4 1 1.2 1 1.2 1 1.2 1 1.3 1 1.4 1 1.7 1 1.7 1 1.7 1 1.6 1 1.6 1 1.4 1 1.4 1 .9 1 .9 1 .6 1 .1 1-.7 1-1.3 1-1.7 1-1.9 1-2.1 1-2.4 1-2.7 1-3.1 1-3.4 1-3.5 1-3.6 1-3.3 1-2.9 1-2.8 1-3 1-3.3 1-3.3 1-3.3 1-3 1-2.6 1-2.2 1-1.9 1-1.6 1-1.2 1-.8 1-.4 1-.3 1 .2 1 .7 1 1.2 1 1.2 1 1.3 1 1.3 1 1.1 1 .8 1 .8 1 .7 1 .7 1 .4 1 .3 1 .5 1 .3 1-.3 1-.5 1 .1 1 0 1-1.3 1-1.9 1-1.7 1-1.7 1-1.8 1-1.9 1-2.1 1-1.6 1-1.4 1-1.1 1-1 1-1.3 1-1.4 1-1.4 1-1.5 1-1.4 1-1.5 1-1.5 1-1.4 1-1.1 1-.9 1-.7 1-.6 1-.6 1-.8 1-1 1-1.1 1-1.2 1-1.2 1-1.1 1-.8 1-.3 1-.1 1-.1 1-.2 1-.1 1-.1 1-.1 1-.1 1 0 1-.1 1 0 1 .2 1 .5 1 .6 1 .9 1 .9 1 .9 1 .7 1 .6 1 .7 1 .6 1 .8 1 .8 1 .9 1 .9 1 1 1 1.2 1 1.4 1 1.6 1 1.8 1 1.8 1 1.7 1 1.6 1 1.3 1 1.3 1 1.3 1 1.5 1 1.6 1 1.6 1 1.7 1 1.8 1 1.9 1 1.6 1 1.3 1 1.2 1 .6 1 .4 1 .3 1 .4 1 .7 1 1.3 1 1.3 1 1.4 1 1.5 1 1.4 1 1.3 1 1.2 1 1.1 1 .9 1 .9 1 .7 1 .8 1 .8 1 .8 1 .8 1 .8 1 .4 1 .5 1 .4 1 .4 1 .4 1 .2 1 .2 1 .1 1-.2 1-.5 1-.4 1-.3 1-.2 1-.4 1-.6 1-.6 1-.8 1-1.1 1-1.4 1-1.3 1-1 1-.4 1-.1 1-.1 1-.5 1-.6 1-.9 1-1.1 1-.9 1-.9 1-.8 1-.7 1-.5 1-.4 1-.2 1-.3 1-.4 1-.3 1-.5 1-.4 1-.4 1-.5 1-.7 1-.6 1-.3 1-.2 1-.5 1-.7 1-.9 1-1.1 1-1.1 1-1 1-.6 1-.2 1 0 1 .1 1 .2 1 .1 1 .3 1 .4 1 .5 1 .5 1 .7 1 .6 1 .6 1 .4 1 .5 1 .5 1 .7 1 .8 1 .8 1 .9 1 .9 1 .9 1 .9 1 .8 1 .6 1 .5 1 .3 1 .2 1 .1 1 .2 1 .3 1 .4 1 .6 1 .5 1 .3 1-.1 1-.3 1-.2 1 .1 1 .2 1 .2 1 .3 1 .3 1 .5 1 .6 1 .7 1 .4 1 .3 1 0 1-.2 1-.2 1-.2 1-.3 1-.3 1-.3 1-.2 1-.1 1-.1 1-.1 1-.4 1-.6 1-.8 1-.9 1-.8 1-.6 1-.4 1-.3 1-.2 1-.2 1-.3 1-.4 1-.5 1-.6 1-.5 1-.4 1-.3 1-.3 1-.2 1-.4 1-.5 1-.5 1-.6 1-.5 1-.5 1-.4 1-.4 1-.3 1-.4 1-.3 1-.4 1-.5 1-.5 1-.6 1-.6 1-.6 1-.6 1-.5 1-.5 1-.3 1-.5 1-.5 1-.6 1-.6 1-.3 1-.3 1-.3 1-.1 1-.1 1 0 1 .1 1 .1 1 0 1 0 1 0 1 .2 1 .3 1 .6 1 .6 1 .4 1 .3 1 .3 1 .4 1 .4 1 .5 1 .5"/>
</g>
<path d="M20.3 133.7l1 .8 1 .6 1 .4 1 .3 1 .1 1 0 1-.1 1-.3 1-.5 1-.6 1-.7 1-.8 1-.7 1-.8 1-.6 1-.4 1-.2 1 0 1 .4 1 .5 1 .6 1 .8 1 .7 1 .7 1 .6 1 .5 1 .2 1 0 1-.4 1-.6 1-.8 1-1 1-1 1-.9 1-.8 1-.6 1-.3 1-.1 1 .2 1 .2 1 .4 1 .6 1 .5 1 .7 1 .6 1 .5 1 .6 1 .4 1 .2 1 .1 1-.1 1-.4 1-.7 1-.8 1-.9 1-.9 1-.7 1-.5 1-.2 1 .2 1 .4 1 .7 1 .8 1 .8 1 .8 1 .7 1 .6 1 .3 1 .1 1-.1 1-.3 1-.5 1-.6 1-.7 1-.8 1-.8 1-.7 1-.6 1-.3 1-.1 1 .3 1 .6 1 .8 1 1.2 1 1.2 1 1.2 1 .9 1 .8 1 .6 1 .4 1 .2 1-.1 1-.2 1-.5 1-.7 1-.9 1-1.1 1-1.3 1-1.4 1-1.6 1-1.7 1-1.8 1-1.8 1-1.9 1-1.8 1-1.7 1-1.5 1-1.3 1-.9 1-.6 1-.2 1 .4 1 1 1 1.6 1 1.3 1 2.6 1 8.7 1 11.5 1 10.2 1 8.8 1 6.9 1 4.8 1 2.7 1 .6 1-1.6 1-3.6 1-5.4 1-6.1 1-5.8 1-4.7 1-3.6 1-2.2 1-1.2 1-1.2 1-2.2 1-3 1-3.3 1-3.4 1-3.5 1-4.1 1-5.2 1-6.2 1-6.8 1-7.3 1-7.3 1-7.2 1-6.6 1-4.9 1-2.5 1-.7 1 .6 1 2.5 1 4.8 1 5.9 1 5.5 1 6.5 1 8.1 1 8.4 1 7.3 1 6 1 4.6 1 4 1 3.9 1 4.2 1 4.3 1 4.5 1 4.2 1 3.7 1 2.7 1 1.3 1-.3 1-1.7 1-2.7 1-3.1 1-3.2 1-2.8 1-2.4 1-2.7 1-3.5 1-4.1 1-4.1 1-3.4 1-3 1-2.5 1-2.1 1-1.6 1-1.3 1-1 1-.7 1-.6 1-.8 1-1 1-1.3 1-1.7 1-2 1-2.1 1-2.4 1-2.6 1-2.6 1-2.8 1-2.7 1-2.8 1-2.7 1-2.6 1-2.4 1-2.3 1-2.1 1-1.9 1-1.7 1-1.6 1-1.5 1-1.3 1-1.3 1-1.1 1-1 1-.9 1-.8 1-.6 1-.4 1-.2 1 .1 1 .3 1 .7 1 1 1 1.4 1 1.8 1 2.2 1 2.7 1 3.2 1 3.6 1 3.9 1 3.9 1 3.9 1 3.6 1 3.3 1 3.3 1 3 1 3 1 3 1 2.9 1 2.9 1 2.8 1 2.9 1 3 1 3 1 3.1 1 3.2 1 3.3 1 3.4 1 3.6 1 3.6 1 3.6 1 3.6 1 3.4 1 3.3 1 3.1 1 3.1 1 2.8 1 2.8 1 2.6 1 2.4 1 2.4 1 2.2 1 2 1 2 1 1.8 1 1.7 1 1.6 1 1.4 1 1.4 1 1.2 1 1.2 1 1.2 1 1.1 1 1.2 1 1.1 1 1.1 1 .9 1 .9 1 .6 1 .4 1 .1 1-.1 1-.2 1-.3 1-.3 1-.3 1 0 1 .1 1 .3 1 .6 1 .8 1 .8 1 .8 1 .8 1 .6 1 .6 1 .4 1 .4 1 .3 1 .2 1 .2 1 .1 1 0 1 .1 1 0 1 0 1 0 1 .1 1 0 1 .1 1 0 1 .1 1 .1 1 .1 1 0 1 0 1 0 1 0 1-.1 1-.2 1-.2 1-.3 1-.4 1-.5 1-.6 1-.8 1-.8 1-.8 1-.8 1-.6 1-.7 1-.6 1-.6 1-.5 1-.6 1-.7 1-.6 1-.7 1-.8 1-.8 1-.8 1-.9 1-.9 1-1 1-1 1-1 1-1.1 1-1.2 1-1.2 1-1.2 1-1.3 1-1.4 1-1.3 1-1.5 1-1.4 1-1.5 1-1.5 1-1.6 1-1.6 1-1.5 1-1.6 1-1.6 1-1.6 1-1.6 1-1.5 1-1.6 1-1.5 1-1.5 1-1.5 1-1.5 1-1.4 1-1.3 1-1.4 1-1.3 1-1.2 1-1.3 1-1.3 1-1.2 1-1.3 1-1.3 1-1.4 1-1.3 1-1.4 1-1.4 1-1.5 1-1.5 1-1.4 1-1.5 1-1.3 1-1.3 1-1.3 1-1.1 1-1 1-1 1-.9 1-.8 1-.7 1-.6 1-.6 1-.5 1-.4 1-.4 1-.3 1-.2 1-.2 1-.2 1-.1 1-.1 1 0 1 0 1 0 1 0 1 .1 1 .1 1 .1 1 .2 1 .1 1 .2 1 .2 1 .2 1 .2 1 .2 1 .3 1 .2 1 .3 1 .3 1 .3 1 .3 1 .4 1 .3 1 .4 1 .3 1 .4 1 .4 1 .4 1 .4 1 .4 1 .3 1 .4 1 .4 1 .3 1 .4 1 .3 1 .2 1 .3 1 .2 1 .1 1 .1 1 .1 1 0 1-.1 1 0 1-.1 1-.2 1-.1 1-.1 1-.1 1-.1 1-.1 1 0 1 0 1 0 1 0 1 0 1-.1 1-.1 1-.2 1-.2 1-.3 1-.4 1-.5 1-.5 1-.6 1-.6 1-.7 1-.6 1-.6 1-.6 1-.5 1-.4 1-.4 1-.3 1-.2 1-.1 1-.1 1-.1 1-.1 1 0 1 0 1-.1 1 0 1 0 1-.1 1-.2 1-.1 1-.3 1-.3 1-.3 1-.4 1-.4 1-.3 1-.4 1-.3 1-.2 1-.2 1-.1 1-.1 1 0 1 0 1 0 1 .1 1 .2 1 .1 1 .3 1 .2 1 .3 1 .3 1 .4 1 .4 1 .4 1 .5 1 .4" stroke="#000" stroke-width="1.8"/>
</g>
<rect x="149.0" y="5.9" width="8.5" height="262.1" fill="rgb(242,224,20)" fill-opacity="0.45"/>
<rect x="165.8" y="5.9" width="10.4" height="262.1" fill="rgb(242,224,20)" fill-opacity="0.45"/>
<rect x="186.0" y="5.9" width="8.0" height="262.1" fill="rgb(242,224,20)" fill-opacity="0.45"/>
<rect x="231.0" y="5.9" width="20.7" height="262.1" fill="rgb(242,224,20)" fill-opacity="0.45"/>
<rect x="311.3" y="5.9" width="42.2" height="262.1" fill="rgb(242,224,20)" fill-opacity="0.45"/>
<rect x="20.3" y="5.9" width="523.2" height="262.1" fill="none" stroke="#858585" stroke-width="1"/>
<path d="M72.62 268.0V263.0M72.62 5.9V10.9M124.94 268.0V263.0M124.94 5.9V10.9M177.26 268.0V263.0M177.26 5.9V10.9M229.58 268.0V263.0M229.58 5.9V10.9M281.90 268.0V263.0M281.90 5.9V10.9M334.22 268.0V263.0M334.22 5.9V10.9M386.54 268.0V263.0M386.54 5.9V10.9M438.86 268.0V263.0M438.86 5.9V10.9M491.18 268.0V263.0M491.18 5.9V10.9M20.3 235.24H25.3M543.5 235.24H538.5M20.3 202.47H25.3M543.5 202.47H538.5M20.3 169.71H25.3M543.5 169.71H538.5M20.3 136.95H25.3M543.5 136.95H538.5M20.3 104.19H25.3M543.5 104.19H538.5M20.3 71.42H25.3M543.5 71.42H538.5M20.3 38.66H25.3M543.5 38.66H538.5" stroke="#666" stroke-width="0.9" fill="none"/>
<g font-family="Liberation Sans, sans-serif" font-size="6.2" fill="#333" stroke="#333" stroke-width="0.12">
<text x="20.30" y="277.4" text-anchor="middle">-0.1</text>
<text x="72.62" y="277.4" text-anchor="middle">-0.05</text>
<text x="124.94" y="277.4" text-anchor="middle">0</text>
<text x="177.26" y="277.4" text-anchor="middle">0.05</text>
<text x="229.58" y="277.4" text-anchor="middle">0.1</text>
<text x="281.90" y="277.4" text-anchor="middle">0.15</text>
<text x="334.22" y="277.4" text-anchor="middle">0.2</text>
<text x="386.54" y="277.4" text-anchor="middle">0.25</text>
<text x="438.86" y="277.4" text-anchor="middle">0.3</text>
<text x="491.18" y="277.4" text-anchor="middle">0.35</text>
<text x="543.50" y="277.4" text-anchor="middle">0.4</text>
<text x="17.6" y="270.20" text-anchor="end">-4</text>
<text x="17.6" y="237.44" text-anchor="end">-3</text>
<text x="17.6" y="204.67" text-anchor="end">-2</text>
<text x="17.6" y="171.91" text-anchor="end">-1</text>
<text x="17.6" y="139.15" text-anchor="end">0</text>
<text x="17.6" y="106.39" text-anchor="end">1</text>
<text x="17.6" y="73.62" text-anchor="end">2</text>
<text x="17.6" y="40.86" text-anchor="end">3</text>
<text x="17.6" y="8.10" text-anchor="end">4</text>
<text x="282.4" y="286.3" text-anchor="middle" font-size="6.7">Time(s)</text>
<text transform="translate(8.3 136.5) rotate(-90)" text-anchor="middle" font-size="6.7">Amplitude(μV)</text>
</g>
</svg></body></html>
